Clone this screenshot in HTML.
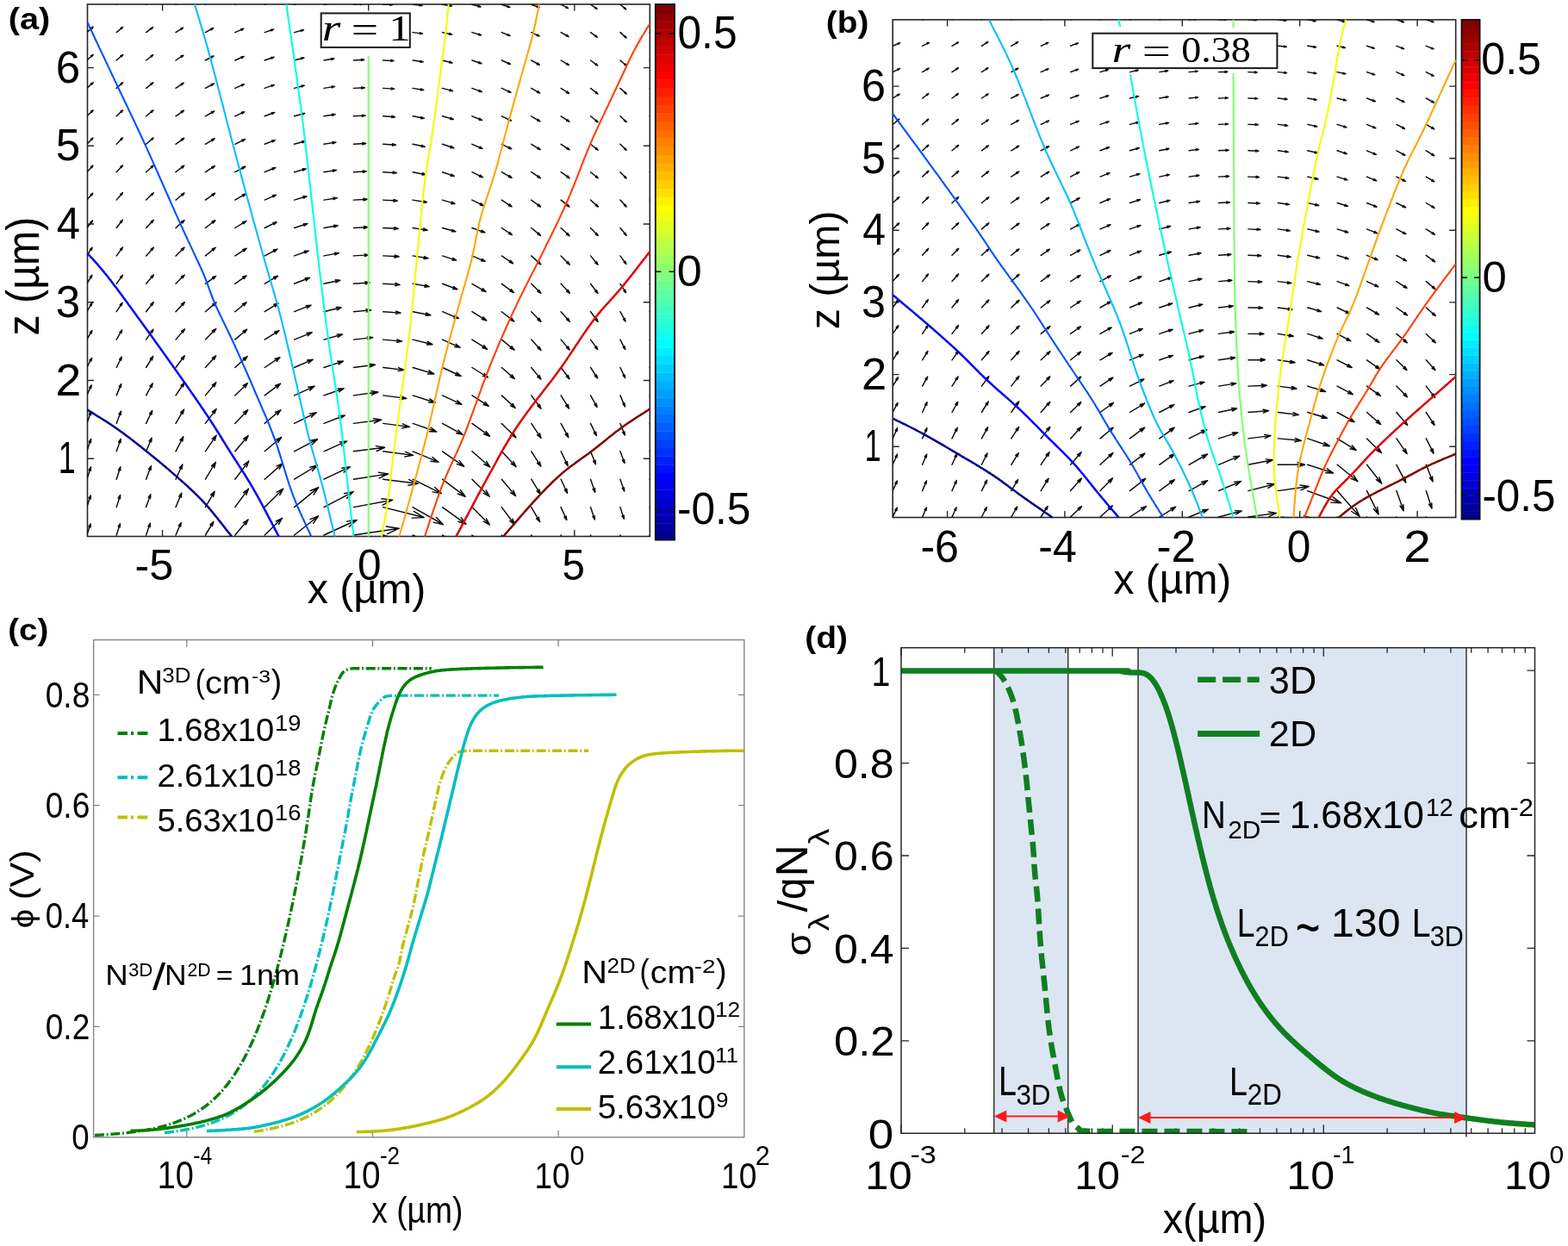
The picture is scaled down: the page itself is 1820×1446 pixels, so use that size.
<!DOCTYPE html><html><head><meta charset="utf-8"><style>html,body{margin:0;padding:0;background:#fff}svg{display:block}</style></head><body>
<svg width="1820" height="1446" viewBox="0 0 1820 1446">
<rect width="1820" height="1446" fill="#fff"/>
<clipPath id="clipa"><rect x="101.5" y="5.0" width="652.8" height="617.5"/></clipPath>
<path d="M188.6,622.5V615M188.6,5V12.5M427.7,622.5V615M427.7,5V12.5M666.8,622.5V615M666.8,5V12.5M101.5,532.3H109M754.3,532.3H746.8M101.5,441.5H109M754.3,441.5H746.8M101.5,350.8H109M754.3,350.8H746.8M101.5,260H109M754.3,260H746.8M101.5,169.3H109M754.3,169.3H746.8M101.5,78.6H109M754.3,78.6H746.8" stroke="#262626" stroke-width="1.4" fill="none"/>
<rect x="101.5" y="5" width="652.8" height="617.5" fill="none" stroke="#262626" stroke-width="1.6"/>
<path d="M100.8,621L105.2,608M105,611.9L105.2,608L102.9,611.2M135.2,621L139.4,607.8M139.3,611.7L139.4,607.8L137.2,611M169.6,621L174.4,607.3M174.2,611.4L174.4,607.3L172,610.6M204,621L210.2,606.6M209.7,611L210.2,606.6L207.3,610M238.4,621L247.8,605.5M246.5,610.4L247.8,605.5L244,608.9M272.8,621L288,603M285.3,609.1L288,603L282.4,606.6M307.2,621L327.4,601.3M323.5,608.3L327.4,601.3L320.4,605M341.6,621L369.4,599M363.7,607.2L369.4,599L360.1,602.7M376,621L414.2,603.5M405.3,611.3L414.2,603.5L402.4,605.1M410.4,621L463.2,613.2M449.6,619.6L463.2,613.2L448.3,611M444.7,621L500,637.1M483.8,637.2L500,637.1L486.4,628.3M479.1,621L513.3,638.5M502.7,636.5L513.3,638.5L505.5,631M513.5,621L541.9,638.4M532.8,636L541.9,638.4L535.7,631.4M547.9,621L567.9,639.7M561,636.3L567.9,639.7L564,633M582.3,621L596.7,638.3M591.4,634.8L596.7,638.3L594.2,632.5M616.7,621L625.4,636.1M621.8,632.7L625.4,636.1L624.2,631.3M651.1,621L657.3,634.6M654.5,631.4L657.3,634.6L656.7,630.4M685.5,621L690.1,634.1M687.8,630.9L690.1,634.1L689.9,630.2M719.9,621L724.1,633.8M721.9,630.7L724.1,633.8L724,630M754.3,621L758.7,633.5M756.5,630.5L758.7,633.5L758.5,629.8M100.8,588.6L105.3,574.9M105.2,579L105.3,574.9L103,578.2M135.2,588.6L139.6,574.5M139.5,578.7L139.6,574.5L137.2,578M169.6,588.6L174.8,573.7M174.6,578.2L174.8,573.7L172.2,577.3M204,588.6L210.8,572.3M210.3,577.2L210.8,572.3L207.6,576.1M238.4,588.6L249.1,570.4M247.7,576.2L249.1,570.4L244.7,574.4M272.8,588.6L288.4,567.3M285.9,574.3L288.4,567.3L282.4,571.8M307.2,588.6L328.8,567.2M324.7,574.7L328.8,567.2L321.2,571.2M341.6,588.6L369.7,565.6M364,574.1L369.7,565.6L360.3,569.5M376,588.6L410.3,570.6M402.5,578.2L410.3,570.6L399.6,572.7M410.4,588.6L455.7,580.2M444.1,586.1L455.7,580.2L442.8,578.8M444.7,588.6L492.2,600.5M478.4,601.1L492.2,600.5L480.3,593.4M479.1,588.6L514.4,608.7M503.2,606.1L514.4,608.7L506.5,600.4M513.5,588.6L541,608.3M532,605.2L541,608.3L535.2,600.8M547.9,588.6L568.4,609.1M561.2,605.2L568.4,609.1L564.5,601.9M582.3,588.6L597.3,608.7M591.7,604.5L597.3,608.7L594.9,602.1M616.7,588.6L626.5,605.4M622.5,601.7L626.5,605.4L625.2,600.1M651.1,588.6L657.8,603.5M654.8,600L657.8,603.5L657.2,599M685.5,588.6L690.3,602.9M687.9,599.4L690.3,602.9L690.2,598.7M719.9,588.6L724.3,602.2M722,598.9L724.3,602.2L724.2,598.1M754.3,588.6L758.9,601.8M756.6,598.6L758.9,601.8L758.7,597.8M100.8,556.2L105.5,542M105.4,546.2L105.5,542L103.1,545.5M135.2,556.2L139.8,541.8M139.8,546L139.8,541.8L137.4,545.3M169.6,556.2L175.4,540.7M175.1,545.4L175.4,540.7L172.6,544.4M204,556.2L211.8,539M211.1,544.3L211.8,539L208.3,543M238.4,556.2L250.3,536.5M248.7,542.8L250.3,536.5L245.5,540.9M272.8,556.2L288.8,535.1M286.2,542.1L288.8,535.1L282.8,539.5M307.2,556.2L328.3,537.6M324.1,544.3L328.3,537.6L321.1,540.9M341.6,556.2L368.4,540M362.5,546.6L368.4,540L359.9,542.2M376,556.2L406.1,541.8M399.1,548.1L406.1,541.8L396.8,543.2M410.4,556.2L450.7,549.9M440.3,554.9L450.7,549.9L439.3,548.3M444.7,556.2L485.1,561.3M473.8,563.2L485.1,561.3L474.6,556.6M479.1,556.2L512.3,572.6M502.1,570.9L512.3,572.6L504.7,565.5M513.5,556.2L540,576.2M531.2,573L540,576.2L534.5,568.7M547.9,556.2L568.2,576.2M561.1,572.4L568.2,576.2L564.3,569.1M582.3,556.2L598.6,575.6M592.6,571.7L598.6,575.6L595.8,569M616.7,556.2L627.4,573.6M623.1,569.8L627.4,573.6L625.9,568M651.1,556.2L658.5,572.2M655.2,568.5L658.5,572.2L657.8,567.3M685.5,556.2L690.7,571.3M688.1,567.7L690.7,571.3L690.6,566.8M719.9,556.2L724.7,570.1M722.3,566.7L724.7,570.1L724.5,566M754.3,556.2L759.1,569.8M756.7,566.5L759.1,569.8L758.9,565.7M100.8,523.8L105.6,509.5M105.5,513.7L105.6,509.5L103.2,513M135.2,523.8L140.2,509.4M140,513.7L140.2,509.4L137.7,512.9M169.6,523.8L176.1,508.3M175.6,513L176.1,508.3L173.1,512M204,523.8L212.8,506.8M211.8,512.1L212.8,506.8L209,510.7M238.4,523.8L251.1,505.2M249.2,511.3L251.1,505.2L246.2,509.2M272.8,523.8L288.1,505.7M285.4,511.8L288.1,505.7L282.5,509.3M307.2,523.8L326.6,507.5M322.7,513.5L326.6,507.5L320,510.3M341.6,523.8L368.5,509.7M362.4,515.7L368.5,509.7L360.1,511.3M376,523.8L402.5,511.9M396.3,517.3L402.5,511.9L394.4,513M410.4,523.8L446.6,519.3M437.2,523.5L446.6,519.3L436.5,517.6M444.7,523.8L479.6,528.4M469.8,530L479.6,528.4L470.6,524.3M479.1,523.8L509,536.2M499.9,535.3L509,536.2L501.9,530.5M513.5,523.8L538.6,541.3M530.4,538.6L538.6,541.3L533.2,534.6M547.9,523.8L568.8,542M561.7,538.8L568.8,542L564.6,535.4M582.3,523.8L599.1,541.7M593.1,538.2L599.1,541.7L596,535.5M616.7,523.8L627.9,541.3M623.5,537.5L627.9,541.3L626.3,535.7M651.1,523.8L659.1,540.6M655.6,536.7L659.1,540.6L658.3,535.4M685.5,523.8L691.4,538.8M688.6,535.2L691.4,538.8L691.1,534.2M719.9,523.8L725,537.5M722.5,534.2L725,537.5L724.7,533.4M754.3,523.8L759.2,537.5M756.7,534.2L759.2,537.5L759,533.4M100.8,491.4L105.8,477.4M105.6,481.6L105.8,477.4L103.3,480.8M135.2,491.4L140.5,477.3M140.2,481.5L140.5,477.3L137.9,480.6M169.6,491.4L176.7,476.5M176,481.1L176.7,476.5L173.6,479.9M204,491.4L213.5,475.2M212.2,480.3L213.5,475.2L209.6,478.8M238.4,491.4L251.1,474.6M249,480.1L251.1,474.6L246.3,478.1M272.8,491.4L287.7,475.7M284.9,481.1L287.7,475.7L282.4,478.7M307.2,491.4L325.8,475.8M322,481.5L325.8,475.8L319.5,478.5M341.6,491.4L367.2,478.8M361.3,484.3L367.2,478.8L359.3,480.1M376,491.4L400.3,482M394.5,486.5L400.3,482L393,482.6M410.4,491.4L442.7,487.2M434.3,491L442.7,487.2L433.6,485.7M444.7,491.4L475.4,495.4M466.8,496.8L475.4,495.4L467.4,491.8M479.1,491.4L506.7,501M498.5,500.7L506.7,501L500.1,496.2M513.5,491.4L537.1,504.4M529.7,502.8L537.1,504.4L531.8,499M547.9,491.4L568.4,506.2M561.7,503.8L568.4,506.2L564.1,500.5M582.3,491.4L598.9,507.8M593.1,504.7L598.9,507.8L595.7,502M616.7,491.4L628,508.4M623.6,504.7L628,508.4L626.4,502.9M651.1,491.4L659.8,507.7M656.1,504L659.8,507.7L658.7,502.6M685.5,491.4L692.3,505.6M689.3,502.3L692.3,505.6L691.6,501.2M719.9,491.4L725.3,505M722.7,501.7L725.3,505L724.9,500.9M754.3,491.4L759.2,504.9M756.8,501.7L759.2,504.9L759,500.9M100.8,458.9L106.2,446.9M105.7,450.6L106.2,446.9L103.8,449.7M135.2,458.9L140.7,445.6M140.3,449.6L140.7,445.6L138.2,448.7M169.6,458.9L177.2,444.9M176.3,449.3L177.2,444.9L174,448M204,458.9L214,444M212.5,448.8L214,444L210.1,447.2M238.4,458.9L250.9,443.8M248.7,448.9L250.9,443.8L246.3,446.9M272.8,458.9L287.4,444.7M284.6,449.8L287.4,444.7L282.3,447.4M307.2,458.9L325.5,445.2M321.7,450.4L325.5,445.2L319.4,447.4M341.6,458.9L365,448.3M359.6,453.1L365,448.3L357.8,449.3M376,458.9L399.2,450.7M393.6,454.8L399.2,450.7L392.3,451M410.4,458.9L438.9,455M431.5,458.4L438.9,455L430.9,453.8M444.7,458.9L471.8,462.4M464.2,463.6L471.8,462.4L464.8,459.3M479.1,458.9L505.2,467.2M497.5,467.1L505.2,467.2L498.8,462.9M513.5,458.9L535.9,469.4M529,468.4L535.9,469.4L530.7,464.8M547.9,458.9L567.2,471.3M561,469.5L567.2,471.3L563,466.4M582.3,458.9L598.1,473.5M592.6,470.9L598.1,473.5L595,468.3M616.7,458.9L628,474.2M623.7,471L628,474.2L626.2,469.2M651.1,458.9L660.5,474.1M656.7,470.8L660.5,474.1L659.2,469.3M685.5,458.9L693,472.4M689.9,469.4L693,472.4L692.1,468.2M719.9,458.9L725.4,471.9M722.9,468.9L725.4,471.9L725,468M754.3,458.9L759.6,470.9M757.2,468.1L759.6,470.9L759.1,467.3M100.8,426.5L106.6,415.4M106,418.9L106.6,415.4L104.1,417.9M135.2,426.5L141.2,414.3M140.6,418.1L141.2,414.3L138.6,417.1M169.6,426.5L177.6,413.5M176.5,417.7L177.6,413.5L174.4,416.4M204,426.5L214.2,412.9M212.6,417.4L214.2,412.9L210.4,415.8M238.4,426.5L250.7,412.8M248.5,417.5L250.7,412.8L246.2,415.5M272.8,426.5L287.1,413.6M284.3,418.3L287.1,413.6L282.2,416M307.2,426.5L324.9,414.7M321.1,419.3L324.9,414.7L319.1,416.4M341.6,426.5L363.2,417.2M358.1,421.5L363.2,417.2L356.6,418M376,426.5L398.5,419.1M393,422.9L398.5,419.1L391.8,419.3M410.4,426.5L435.4,423.3M428.9,426.2L435.4,423.3L428.4,422.1M444.7,426.5L469,429.4M462.2,430.6L469,429.4L462.6,426.6M479.1,426.5L503.7,433.9M496.5,433.9L503.7,433.9L497.7,429.9M513.5,426.5L535.1,436.5M528.5,435.5L535.1,436.5L530.1,432M547.9,426.5L566.3,438M560.4,436.4L566.3,438L562.3,433.4M582.3,426.5L597.3,439.6M592.2,437.3L597.3,439.6L594.3,434.9M616.7,426.5L627.9,440.1M623.8,437.4L627.9,440.1L626,435.6M651.1,426.5L661,439.8M657.3,437L661,439.8L659.4,435.4M685.5,426.5L693.5,438.9M690.3,436.2L693.5,438.9L692.3,434.9M719.9,426.5L725.6,438.6M723.1,435.8L725.6,438.6L725,434.9M754.3,426.5L760,437.8M757.6,435.2L760,437.8L759.4,434.3M100.8,394.1L106.9,383.6M106.1,386.9L106.9,383.6L104.4,385.9M135.2,394.1L141.6,382.9M140.8,386.5L141.6,382.9L139,385.4M169.6,394.1L177.9,382.2M176.6,386.1L177.9,382.2L174.7,384.7M204,394.1L214.4,381.9M212.5,386L214.4,381.9L210.6,384.3M238.4,394.1L250.7,381.6M248.4,386L250.7,381.6L246.3,384M272.8,394.1L286.6,382.2M283.9,386.5L286.6,382.2L281.9,384.3M307.2,394.1L324,383.6M320.3,387.8L324,383.6L318.6,385.1M341.6,394.1L362.1,385.8M357.2,389.7L362.1,385.8L355.8,386.4M376,394.1L397.5,388M392.2,391.4L397.5,388L391.2,387.9M410.4,394.1L432.7,391.6M426.8,394.1L432.7,391.6L426.4,390.5M444.7,394.1L466.7,396.1M460.6,397.3L466.7,396.1L460.9,393.8M479.1,394.1L501.9,399.7M495.3,400L501.9,399.7L496.2,396.3M513.5,394.1L534,403.4M527.7,402.6L534,403.4L529.2,399.3M547.9,394.1L565.5,405.2M559.8,403.6L565.5,405.2L561.6,400.8M582.3,394.1L597,406.2M592,404.1L597,406.2L594,401.8M616.7,394.1L627.9,406.4M623.9,404L627.9,406.4L625.9,402.2M651.1,394.1L661.2,406.1M657.5,403.6L661.2,406.1L659.4,402M685.5,394.1L693.7,405.6M690.6,403.2L693.7,405.6L692.5,401.9M719.9,394.1L725.7,405.6M723.2,403L725.7,405.6L725.1,402M754.3,394.1L760.4,404.9M757.9,402.5L760.4,404.9L759.6,401.5M100.8,361.7L106.9,351.5M106.1,354.8L106.9,351.5L104.5,353.8M135.2,361.7L142,351.3M141,354.7L142,351.3L139.3,353.6M169.6,361.7L178.1,350.7M176.7,354.4L178.1,350.7L174.9,353M204,361.7L214.3,350.7M212.4,354.5L214.3,350.7L210.6,352.8M238.4,361.7L251.1,350.9M248.6,354.8L251.1,350.9L246.8,352.8M272.8,361.7L286.1,350.8M283.4,354.8L286.1,350.8L281.6,352.7M307.2,361.7L323,351.9M319.5,355.9L323,351.9L317.9,353.3M341.6,361.7L360.9,354.1M356.3,357.7L360.9,354.1L355.1,354.6M376,361.7L396.1,356.8M391.1,359.8L396.1,356.8L390.3,356.5M410.4,361.7L430.7,359.9M425.3,362.1L430.7,359.9L425,358.8M444.7,361.7L465.1,363.1M459.5,364.4L465.1,363.1L459.7,361.1M479.1,361.7L499.9,365.8M494,366.3L499.9,365.8L494.6,363M513.5,361.7L532.5,369.6M526.7,369L532.5,369.6L528,366M547.9,361.7L564.7,372.1M559.3,370.6L564.7,372.1L561,367.9M582.3,361.7L596.8,373.1M592,371.2L596.8,373.1L593.8,368.8M616.7,361.7L627.9,373.3M623.9,371L627.9,373.3L625.8,369.2M651.1,361.7L661.3,373.2M657.6,370.9L661.3,373.2L659.5,369.3M685.5,361.7L694,373.3M690.7,370.9L694,373.3L692.6,369.5M719.9,361.7L726,372.9M723.5,370.4L726,372.9L725.3,369.4M754.3,361.7L760.7,372M758.1,369.8L760.7,372L759.8,368.7M100.8,329.3L106.8,319.3M106,322.5L106.8,319.3L104.4,321.5M135.2,329.3L142.3,319.3M141.2,322.6L142.3,319.3L139.6,321.4M169.6,329.3L178.3,319M176.8,322.5L178.3,319L175.1,321.1M204,329.3L214.1,319.1M212.2,322.6L214.1,319.1L210.5,321M238.4,329.3L250.6,320.4M248,323.8L250.6,320.4L246.6,321.8M272.8,329.3L286.1,319.9M283.2,323.5L286.1,319.9L281.7,321.3M307.2,329.3L322.4,320.2M319,323.9L322.4,320.2L317.6,321.4M341.6,329.3L359.5,322.3M355.3,325.7L359.5,322.3L354.1,322.8M376,329.3L394.7,325.3M389.9,327.9L394.7,325.3L389.3,324.8M410.4,329.3L429.1,328M424.2,329.9L429.1,328L423.9,326.8M444.7,329.3L464,330.4M458.7,331.7L464,330.4L458.9,328.5M479.1,329.3L498.3,332.6M492.9,333.3L498.3,332.6L493.4,330.2M513.5,329.3L530.9,335.8M525.7,335.5L530.9,335.8L526.7,332.7M547.9,329.3L563.9,338.6M558.8,337.4L563.9,338.6L560.3,334.8M582.3,329.3L596.4,339.6M591.7,337.9L596.4,339.6L593.4,335.7M616.7,329.3L627.8,340.3M623.9,338.2L627.8,340.3L625.7,336.4M651.1,329.3L661.3,340.3M657.6,338.2L661.3,340.3L659.4,336.5M685.5,329.3L693.9,340.5M690.7,338.2L693.9,340.5L692.5,336.8M719.9,329.3L726.5,339.6M723.9,337.4L726.5,339.6L725.6,336.3M754.3,329.3L760.8,339.2M758.3,337L760.8,339.2L759.9,336M100.8,296.9L107,287.2M106.1,290.3L107,287.2L104.5,289.3M135.2,296.9L142.4,287.1M141.2,290.3L142.4,287.1L139.6,289.2M169.6,296.9L178.3,287.2M176.7,290.5L178.3,287.2L175.2,289.1M204,296.9L214,287.2M212.1,290.6L214,287.2L210.5,289M238.4,296.9L250.1,287.3M247.7,290.9L250.1,287.3L246.2,289M272.8,296.9L286.1,288.3M283.2,291.7L286.1,288.3L281.8,289.6M307.2,296.9L321.9,289.1M318.5,292.4L321.9,289.1L317.3,290M341.6,296.9L358.2,291M354.2,293.9L358.2,291L353.2,291.2M376,296.9L393.3,293.6M388.9,295.9L393.3,293.6L388.3,293.1M410.4,296.9L427.9,295.9M423.3,297.6L427.9,295.9L423.1,294.7M444.7,296.9L463.1,297.8M458,299L463.1,297.8L458.2,296.1M479.1,296.9L497,299.8M492,300.5L497,299.8L492.5,297.6M513.5,296.9L529.6,302.1M524.8,302L529.6,302.1L525.7,299.4M547.9,296.9L563.1,303.4M558.5,302.9L563.1,303.4L559.5,300.4M582.3,296.9L595.5,305.8M591.2,304.4L595.5,305.8L592.7,302.3M616.7,296.9L627.7,306.9M623.9,305.1L627.7,306.9L625.5,303.3M651.1,296.9L661.2,307.2M657.6,305.2L661.2,307.2L659.3,303.6M685.5,296.9L694,307.2M690.9,305.1L694,307.2L692.6,303.7M719.9,296.9L726.9,306.5M724.2,304.5L726.9,306.5L725.8,303.3M754.3,296.9L760.9,306.3M758.4,304.3L760.9,306.3L759.9,303.2M100.8,264.5L107.4,256M106.3,258.9L107.4,256L104.9,257.8M135.2,264.5L142.3,255.3M141.1,258.4L142.3,255.3L139.6,257.2M169.6,264.5L178.2,255.5M176.6,258.6L178.2,255.5L175.2,257.2M204,264.5L214,255.6M212,258.8L214,255.6L210.6,257.2M238.4,264.5L249.8,255.7M247.4,259L249.8,255.7L246,257.2M272.8,264.5L285.7,256.6M282.9,259.8L285.7,256.6L281.6,257.7M307.2,264.5L321.2,257.7M318,260.7L321.2,257.7L316.9,258.4M341.6,264.5L357,259.5M353.2,262.1L357,259.5L352.4,259.6M376,264.5L392.2,261.8M388,263.8L392.2,261.8L387.6,261.2M410.4,264.5L427,263.6M422.6,265.2L427,263.6L422.4,262.5M444.7,264.5L462.2,265.3M457.4,266.5L462.2,265.3L457.5,263.7M479.1,264.5L496.1,267.1M491.3,267.8L496.1,267.1L491.7,265M513.5,264.5L528.8,268.8M524.3,268.9L528.8,268.8L525,266.4M547.9,264.5L562.8,269.9M558.3,269.6L562.8,269.9L559.2,267.2M582.3,264.5L594.4,272.6M590.5,271.4L594.4,272.6L591.8,269.4M616.7,264.5L627.5,273.4M623.9,271.9L627.5,273.4L625.3,270.1M651.1,264.5L661,273.8M657.6,272.1L661,273.8L659.1,270.5M685.5,264.5L694.2,273.6M691.1,271.9L694.2,273.6L692.6,270.5M719.9,264.5L727.1,273.3M724.4,271.5L727.1,273.3L725.8,270.3M754.3,264.5L761.2,272.9M758.7,271.2L761.2,272.9L760,270.1M100.8,232.1L107.7,224.2M106.5,226.9L107.7,224.2L105.2,225.8M135.2,232.1L142.4,223.7M141.1,226.5L142.4,223.7L139.7,225.4M169.6,232.1L178.2,223.8M176.5,226.7L178.2,223.8L175.2,225.3M204,232.1L213.9,224M211.9,227L213.9,224L210.6,225.4M238.4,232.1L249.6,224.2M247.2,227.2L249.6,224.2L245.9,225.4M272.8,232.1L285.2,224.9M282.5,227.9L285.2,224.9L281.3,225.9M307.2,232.1L320.5,226.2M317.4,228.8L320.5,226.2L316.4,226.7M341.6,232.1L356,227.8M352.4,230.1L356,227.8L351.8,227.8M376,232.1L391.3,229.7M387.3,231.6L391.3,229.7L387,229.1M410.4,232.1L426.2,231.3M422,232.8L426.2,231.3L421.8,230.2M444.7,232.1L461.3,233M456.8,234.1L461.3,233L456.9,231.4M479.1,232.1L495.3,234.7M490.7,235.3L495.3,234.7L491.1,232.6M513.5,232.1L527.9,236.4M523.7,236.4L527.9,236.4L524.4,234.1M547.9,232.1L561.3,238.7M557.2,238L561.3,238.7L558.2,235.8M582.3,232.1L594,239.9M590.2,238.7L594,239.9L591.5,236.8M616.7,232.1L627.4,240M623.9,238.7L627.4,240L625.2,237M651.1,232.1L660.9,240.1M657.6,238.7L660.9,240.1L658.9,237.1M685.5,232.1L694.3,240M691.3,238.6L694.3,240L692.6,237.2M719.9,232.1L727.1,240.1M724.5,238.5L727.1,240.1L725.8,237.3M754.3,232.1L761.3,239.9M758.8,238.4L761.3,239.9L760.1,237.2M100.8,199.7L107.9,192.2M106.6,194.8L107.9,192.2L105.4,193.7M135.2,199.7L142.4,191.9M141.1,194.6L142.4,191.9L139.9,193.4M169.6,199.7L178.1,192M176.4,194.8L178.1,192L175.2,193.4M204,199.7L213.8,192.2M211.8,195L213.8,192.2L210.5,193.4M238.4,199.7L249.3,192.6M247,195.4L249.3,192.6L245.8,193.6M272.8,199.7L284.8,193.3M282,196L284.8,193.3L281,194.1M307.2,199.7L319.8,194.5M316.8,196.9L319.8,194.5L316,194.9M341.6,199.7L355.1,195.9M351.8,198L355.1,195.9L351.2,195.8M376,199.7L390.5,197.4M386.7,199.2L390.5,197.4L386.4,196.9M410.4,199.7L425.4,198.9M421.4,200.3L425.4,198.9L421.3,197.9M444.7,199.7L460.4,200.6M456.1,201.6L460.4,200.6L456.2,199.1M479.1,199.7L494.4,202.7M490,203.1L494.4,202.7L490.5,200.6M513.5,199.7L527.1,204.4M523,204.2L527.1,204.4L523.8,202.1M547.9,199.7L560.3,205.8M556.5,205.1L560.3,205.8L557.4,203.1M582.3,199.7L594,206.3M590.3,205.5L594,206.3L591.4,203.6M616.7,199.7L627.3,206.7M623.9,205.6L627.3,206.7L625,203.9M651.1,199.7L661,206.7M657.8,205.6L661,206.7L658.9,204M685.5,199.7L694.2,206.7M691.3,205.5L694.2,206.7L692.4,204.1M719.9,199.7L727.1,207.1M724.6,205.7L727.1,207.1L725.8,204.5M754.3,199.7L761.3,207.1M758.8,205.7L761.3,207.1L760,204.5M100.8,167.3L108,160.1M106.6,162.6L108,160.1L105.5,161.5M135.2,167.3L142.5,160M141.1,162.5L142.5,160L139.9,161.4M169.6,167.3L178,160M176.3,162.6L178,160L175.2,161.3M204,167.3L213.6,160.3M211.6,163L213.6,160.3L210.5,161.4M238.4,167.3L249.1,160.8M246.7,163.4L249.1,160.8L245.7,161.7M272.8,167.3L284.3,161.6M281.6,164.1L284.3,161.6L280.7,162.2M307.2,167.3L319.2,162.6M316.3,164.8L319.2,162.6L315.6,162.9M341.6,167.3L354.4,163.8M351.2,165.8L354.4,163.8L350.7,163.7M376,167.3L389.8,165.1M386.2,166.8L389.8,165.1L385.9,164.6M410.4,167.3L424.7,166.5M420.9,167.9L424.7,166.5L420.8,165.5M444.7,167.3L459.4,168.2M455.4,169.1L459.4,168.2L455.5,166.7M479.1,167.3L493.2,170.3M489.1,170.6L493.2,170.3L489.6,168.4M513.5,167.3L526.8,171.8M522.8,171.6L526.8,171.8L523.6,169.5M547.9,167.3L559.9,172.5M556.2,172.1L559.9,172.5L557.1,170.1M582.3,167.3L593.7,172.8M590.2,172.2L593.7,172.8L591.1,170.4M616.7,167.3L627.1,173.6M623.8,172.7L627.1,173.6L624.8,171M651.1,167.3L661,173.9M657.8,172.9L661,173.9L658.9,171.3M685.5,167.3L694.1,174.2M691.2,173L694.1,174.2L692.3,171.6M719.9,167.3L727.1,174.3M724.6,173L727.1,174.3L725.7,171.8M754.3,167.3L761.3,174.4M758.8,173L761.3,174.4L760,171.9M100.8,134.8L108.1,128M106.7,130.4L108.1,128L105.5,129.2M135.2,134.8L142.5,127.9M141.1,130.4L142.5,127.9L140,129.2M169.6,134.8L177.9,127.9M176.2,130.4L177.9,127.9L175.1,129.1M204,134.8L213.4,128.3M211.4,130.8L213.4,128.3L210.3,129.3M238.4,134.8L248.7,129M246.4,131.4L248.7,129L245.5,129.7M272.8,134.8L283.8,129.7M281.3,132L283.8,129.7L280.4,130.2M307.2,134.8L318.7,130.5M316,132.6L318.7,130.5L315.3,130.8M341.6,134.8L353.8,131.5M350.8,133.4L353.8,131.5L350.2,131.4M376,134.8L389.1,132.7M385.8,134.4L389.1,132.7L385.4,132.2M410.4,134.8L424,134.1M420.4,135.4L424,134.1L420.3,133.2M444.7,134.8L458.5,135.7M454.7,136.6L458.5,135.7L454.8,134.4M479.1,134.8L492.3,137.3M488.5,137.7L492.3,137.3L488.9,135.6M513.5,134.8L526.2,138.4M522.5,138.5L526.2,138.4L523.1,136.4M547.9,134.8L559.6,139.5M556.1,139.2L559.6,139.5L556.8,137.3M582.3,134.8L593.4,140.1M590,139.6L593.4,140.1L590.8,137.8M616.7,134.8L626.8,140.8M623.6,140L626.8,140.8L624.6,138.4M651.1,134.8L660.8,141.2M657.7,140.3L660.8,141.2L658.7,138.7M685.5,134.8L694,141.8M691.1,140.6L694,141.8L692.2,139.2M719.9,134.8L727.1,141.7M724.6,140.4L727.1,141.7L725.7,139.3M754.3,134.8L761.2,141.8M758.8,140.5L761.2,141.8L759.9,139.3M100.8,102.4L108.1,95.8M106.7,98.2L108.1,95.8L105.6,97M135.2,102.4L142.6,95.7M141.1,98.1L142.6,95.7L140.1,96.9M169.6,102.4L177.8,95.8M176.1,98.2L177.8,95.8L175,96.9M204,102.4L213.1,96.3M211.1,98.7L213.1,96.3L210.1,97.2M238.4,102.4L248.4,97M246.1,99.3L248.4,97L245.2,97.7M272.8,102.4L283.5,97.7M281,99.8L283.5,97.7L280.2,98.1M307.2,102.4L318.3,98.4M315.6,100.4L318.3,98.4L315,98.6M341.6,102.4L353.3,99.2M350.4,101L353.3,99.2L349.9,99.1M376,102.4L388.5,100.4M385.3,101.9L388.5,100.4L384.9,99.9M410.4,102.4L423.3,101.7M419.8,103L423.3,101.7L419.7,100.9M444.7,102.4L457.7,103.1M454.1,104L457.7,103.1L454.3,101.9M479.1,102.4L491.7,104.5M488.2,104.9L491.7,104.5L488.5,102.9M513.5,102.4L525.5,105.6M522,105.7L525.5,105.6L522.5,103.7M547.9,102.4L559.3,106.6M555.9,106.4L559.3,106.6L556.5,104.5M582.3,102.4L592.9,107.4M589.7,106.9L592.9,107.4L590.5,105.2M616.7,102.4L626.6,108.1M623.5,107.4L626.6,108.1L624.4,105.8M651.1,102.4L660.6,108.5M657.5,107.7L660.6,108.5L658.5,106.1M685.5,102.4L693.8,109M691.1,107.9L693.8,109L692.1,106.5M719.9,102.4L727.2,109M724.7,107.8L727.2,109L725.7,106.6M754.3,102.4L761,109.2M758.7,107.9L761,109.2L759.8,106.8M100.8,70L108.1,63.5M106.6,65.8L108.1,63.5L105.6,64.7M135.2,70L142.6,63.5M141.1,65.9L142.6,63.5L140.1,64.7M169.6,70L177.6,63.7M176,66.1L177.6,63.7L175,64.8M204,70L212.8,64.2M210.9,66.5L212.8,64.2L209.9,65M238.4,70L248,64.9M245.8,67L248,64.9L245,65.5M272.8,70L283.1,65.5M280.7,67.6L283.1,65.5L280,65.9M307.2,70L318,66.2M315.4,68.1L318,66.2L314.8,66.4M341.6,70L352.9,67M350.1,68.7L352.9,67L349.6,66.9M376,70L387.9,68M384.8,69.5L387.9,68L384.5,67.6M410.4,70L422.6,69.3M419.4,70.5L422.6,69.3L419.2,68.5M444.7,70L457,70.6M453.7,71.4L457,70.6L453.8,69.4M479.1,70L491.1,71.8M487.8,72.3L491.1,71.8L488,70.3M513.5,70L525,73M521.7,73.1L525,73L522.1,71.2M547.9,70L558.9,73.7M555.6,73.6L558.9,73.7L556.2,71.8M582.3,70L592.5,74.5M589.4,74.1L592.5,74.5L590.1,72.5M616.7,70L626.3,75.4M623.2,74.7L626.3,75.4L624.1,73.1M651.1,70L660.4,75.6M657.4,74.9L660.4,75.6L658.3,73.4M685.5,70L693.7,76.1M691,75.1L693.7,76.1L692,73.8M719.9,70L727.2,76.3M724.7,75.2L727.2,76.3L725.8,74M754.3,70L760.7,76.9M758.4,75.5L760.7,76.9L759.5,74.5M100.8,37.6L108.1,31.2M106.7,33.6L108.1,31.2L105.6,32.4M135.2,37.6L142.5,31.5M141.1,33.7L142.5,31.5L140.1,32.5M169.6,37.6L177.5,31.7M175.8,33.9L177.5,31.7L174.9,32.7M204,37.6L212.5,32.1M210.7,34.3L212.5,32.1L209.8,32.9M238.4,37.6L247.6,32.5M245.5,34.7L247.6,32.5L244.7,33.2M272.8,37.6L282.8,33.3M280.4,35.3L282.8,33.3L279.7,33.7M307.2,37.6L317.6,34M315.1,35.8L317.6,34L314.5,34.1M341.6,37.6L352.4,34.8M349.7,36.4L352.4,34.8L349.3,34.7M376,37.6L387.3,35.7M384.4,37.2L387.3,35.7L384.1,35.3M410.4,37.6L422,36.8M418.9,38L422,36.8L418.8,36.1M444.7,37.6L456.4,38M453.3,38.8L456.4,38L453.3,36.9M479.1,37.6L490.6,39.1M487.4,39.6L490.6,39.1L487.6,37.7M513.5,37.6L524.5,40M521.3,40.2L524.5,40L521.7,38.5M547.9,37.6L558.5,40.8M555.4,40.8L558.5,40.8L555.9,39.1M582.3,37.6L592.1,41.5M589.2,41.2L592.1,41.5L589.8,39.7M616.7,37.6L626,41.9M623.1,41.5L626,41.9L623.8,40M651.1,37.6L660,42.5M657.2,41.9L660,42.5L658,40.5M685.5,37.6L693.4,43.3M690.8,42.4L693.4,43.3L691.7,41.1M719.9,37.6L727,43.9M724.5,42.8L727,43.9L725.6,41.6M754.3,37.6L760.5,44.6M758.3,43.2L760.5,44.6L759.4,42.2M100.8,5.2L108.4,0.1M106.8,2.1L108.4,0.1L105.9,0.9M135.2,5.2L142.5,-0.3M141,1.8L142.5,-0.3L140.1,0.6M169.6,5.2L177.4,-0.2M175.7,1.9L177.4,-0.2L174.8,0.6M204,5.2L212.3,0.1M210.5,2.1L212.3,0.1L209.7,0.8M238.4,5.2L247.3,0.5M245.3,2.5L247.3,0.5L244.5,1M272.8,5.2L282.4,1.1M280.1,3L282.4,1.1L279.5,1.5M307.2,5.2L317.3,1.9M314.8,3.6L317.3,1.9L314.3,1.9M341.6,5.2L352,2.6M349.4,4.2L352,2.6L349,2.5M376,5.2L386.8,3.5M384,4.8L386.8,3.5L383.7,3.1M410.4,5.2L421.5,4.4M418.5,5.5L421.5,4.4L418.4,3.7M444.7,5.2L455.9,5.4M452.9,6.3L455.9,5.4L452.9,4.5M479.1,5.2L490.1,6.4M487.1,6.9L490.1,6.4L487.3,5.2M513.5,5.2L524.3,7M521.2,7.4L524.3,7L521.5,5.7M547.9,5.2L558,7.9M555.1,8L558,7.9L555.5,6.4M582.3,5.2L591.9,8.5M589,8.4L591.9,8.5L589.6,6.9M616.7,5.2L626.1,8.6M623.3,8.5L626.1,8.6L623.9,6.9M651.1,5.2L659.5,9.6M656.9,9.1L659.5,9.6L657.6,7.7M685.5,5.2L693.1,10.4M690.6,9.6L693.1,10.4L691.5,8.4M719.9,5.2L726.6,10.9M724.4,9.9L726.6,10.9L725.3,8.8M754.3,5.2L761,10.3M758.8,9.5L761,10.3L759.6,8.4" stroke="#0a0a0a" stroke-width="1.45" fill="none" stroke-linecap="round" stroke-linejoin="round" clip-path="url(#clipa)"/>
<path d="M101.5,475.7 L103.2,476.7 L104.9,477.8 L106.7,478.9 L108.4,479.9 L110.1,481 L111.8,482 L113.5,483.1 L115.3,484.2 L117,485.2 L118.7,486.3 L120.4,487.4 L122.1,488.4 L123.8,489.5 L125.5,490.6 L127.2,491.7 L128.9,492.8 L130.5,494 L132.2,495.1 L133.9,496.2 L135.5,497.4 L137.2,498.6 L138.8,499.7 L140.5,500.9 L142.1,502.1 L143.7,503.3 L145.3,504.5 L146.9,505.7 L148.6,506.9 L150.2,508.1 L151.8,509.4 L153.4,510.6 L155,511.8 L156.6,513.1 L158.1,514.3 L159.7,515.6 L161.3,516.8 L162.9,518.1 L164.5,519.3 L166.1,520.6 L167.6,521.8 L169.2,523.1 L170.8,524.4 L172.4,525.6 L173.9,526.9 L175.5,528.2 L177.1,529.4 L178.6,530.7 L180.2,532 L181.8,533.3 L183.3,534.6 L184.9,535.8 L186.4,537.1 L188,538.4 L189.5,539.7 L191.1,541 L192.6,542.3 L194.1,543.6 L195.7,544.9 L197.2,546.3 L198.7,547.6 L200.3,548.9 L201.8,550.2 L203.3,551.6 L204.8,552.9 L206.3,554.2 L207.8,555.6 L209.4,556.9 L210.9,558.2 L212.4,559.6 L213.9,560.9 L215.4,562.3 L216.9,563.6 L218.4,565 L219.8,566.4 L221.3,567.7 L222.8,569.1 L224.3,570.5 L225.7,571.9 L227.2,573.3 L228.6,574.7 L230,576.1 L231.5,577.6 L232.9,579 L234.3,580.5 L235.7,581.9 L237,583.4 L238.4,584.9 L239.7,586.4 L241.1,587.9 L242.4,589.4 L243.7,591 L245,592.5 L246.3,594.1 L247.6,595.6 L248.9,597.2 L250.1,598.7 L251.4,600.3 L252.7,601.9 L253.9,603.5 L255.2,605.1 L256.4,606.6 L257.7,608.2 L258.9,609.8 L260.2,611.4 L261.4,613 L262.6,614.6 L263.9,616.2 L265.2,617.7 L266.4,619.3 L267.7,620.9 L268.9,622.5" stroke="#00008c" stroke-width="2.5" fill="none" stroke-linejoin="round"/>
<path d="M101.5,294 L102.9,295.5 L104.2,297 L105.6,298.5 L107,299.9 L108.3,301.4 L109.7,302.9 L111,304.4 L112.4,305.9 L113.7,307.4 L115,309 L116.3,310.5 L117.6,312 L118.9,313.6 L120.2,315.1 L121.5,316.7 L122.8,318.2 L124,319.8 L125.3,321.4 L126.5,323 L127.8,324.6 L129,326.2 L130.2,327.8 L131.4,329.4 L132.6,331 L133.9,332.6 L135.1,334.2 L136.3,335.8 L137.5,337.5 L138.7,339.1 L139.9,340.7 L141.1,342.3 L142.3,343.9 L143.5,345.6 L144.7,347.2 L145.9,348.8 L147.1,350.4 L148.2,352.1 L149.4,353.7 L150.6,355.3 L151.8,357 L153,358.6 L154.2,360.2 L155.4,361.8 L156.6,363.5 L157.8,365.1 L158.9,366.7 L160.1,368.4 L161.3,370 L162.5,371.6 L163.7,373.3 L164.9,374.9 L166.1,376.5 L167.2,378.2 L168.4,379.8 L169.6,381.4 L170.8,383.1 L172,384.7 L173.1,386.3 L174.3,388 L175.5,389.6 L176.7,391.2 L177.9,392.9 L179,394.5 L180.2,396.2 L181.4,397.8 L182.6,399.4 L183.7,401.1 L184.9,402.7 L186.1,404.3 L187.3,406 L188.4,407.6 L189.6,409.3 L190.8,410.9 L192,412.6 L193.1,414.2 L194.3,415.8 L195.5,417.5 L196.6,419.1 L197.8,420.8 L199,422.4 L200.1,424.1 L201.3,425.7 L202.5,427.3 L203.6,429 L204.8,430.6 L206,432.3 L207.1,433.9 L208.3,435.6 L209.5,437.2 L210.6,438.9 L211.8,440.5 L212.9,442.2 L214.1,443.8 L215.3,445.5 L216.4,447.1 L217.6,448.8 L218.7,450.4 L219.9,452.1 L221,453.7 L222.2,455.4 L223.4,457 L224.5,458.7 L225.7,460.4 L226.8,462 L227.9,463.7 L229.1,465.3 L230.2,467 L231.4,468.7 L232.5,470.3 L233.6,472 L234.8,473.7 L235.9,475.3 L237,477 L238.2,478.7 L239.3,480.4 L240.4,482 L241.5,483.7 L242.6,485.4 L243.7,487.1 L244.8,488.8 L245.9,490.5 L247,492.2 L248.1,493.9 L249.2,495.6 L250.3,497.3 L251.3,499 L252.4,500.7 L253.5,502.4 L254.6,504.1 L255.6,505.8 L256.7,507.5 L257.7,509.3 L258.8,511 L259.9,512.7 L260.9,514.4 L262,516.1 L263,517.8 L264.1,519.5 L265.2,521.2 L266.3,523 L267.3,524.7 L268.4,526.4 L269.5,528.1 L270.6,529.8 L271.7,531.5 L272.8,533.2 L273.9,534.9 L275,536.5 L276,538.2 L277.1,539.9 L278.2,541.6 L279.3,543.3 L280.4,545 L281.5,546.7 L282.6,548.4 L283.7,550.1 L284.7,551.8 L285.8,553.5 L286.9,555.3 L287.9,557 L289,558.7 L290,560.4 L291,562.2 L292.1,563.9 L293.1,565.6 L294.1,567.4 L295.1,569.1 L296.1,570.9 L297.1,572.6 L298.1,574.4 L299.1,576.2 L300,577.9 L301,579.7 L302,581.5 L302.9,583.2 L303.9,585 L304.8,586.8 L305.8,588.6 L306.7,590.4 L307.7,592.1 L308.6,593.9 L309.5,595.7 L310.5,597.5 L311.4,599.3 L312.4,601.1 L313.3,602.9 L314.2,604.6 L315.2,606.4 L316.1,608.2 L317,610 L318,611.8 L318.9,613.6 L319.8,615.4 L320.8,617.1 L321.7,618.9 L322.7,620.7 L323.6,622.5" stroke="#0008f0" stroke-width="2.5" fill="none" stroke-linejoin="round"/>
<path d="M101.5,26 L102.4,27.8 L103.2,29.6 L104.1,31.5 L104.9,33.3 L105.8,35.1 L106.6,36.9 L107.5,38.7 L108.4,40.5 L109.2,42.4 L110.1,44.2 L110.9,46 L111.8,47.8 L112.6,49.6 L113.5,51.4 L114.4,53.3 L115.2,55.1 L116.1,56.9 L116.9,58.7 L117.8,60.5 L118.7,62.4 L119.5,64.2 L120.4,66 L121.2,67.8 L122.1,69.6 L122.9,71.4 L123.8,73.3 L124.7,75.1 L125.5,76.9 L126.4,78.7 L127.2,80.5 L128.1,82.3 L128.9,84.2 L129.8,86 L130.7,87.8 L131.5,89.6 L132.4,91.4 L133.2,93.3 L134.1,95.1 L135,96.9 L135.8,98.7 L136.7,100.5 L137.5,102.3 L138.4,104.2 L139.3,106 L140.1,107.8 L141,109.6 L141.9,111.4 L142.7,113.2 L143.6,115 L144.4,116.9 L145.3,118.7 L146.2,120.5 L147,122.3 L147.9,124.1 L148.8,125.9 L149.6,127.7 L150.5,129.6 L151.4,131.4 L152.2,133.2 L153.1,135 L153.9,136.8 L154.8,138.6 L155.7,140.5 L156.5,142.3 L157.4,144.1 L158.2,145.9 L159.1,147.7 L159.9,149.5 L160.8,151.4 L161.6,153.2 L162.5,155 L163.3,156.8 L164.2,158.7 L165,160.5 L165.9,162.3 L166.7,164.1 L167.5,166 L168.4,167.8 L169.2,169.6 L170.1,171.4 L170.9,173.3 L171.7,175.1 L172.5,176.9 L173.4,178.8 L174.2,180.6 L175,182.4 L175.8,184.3 L176.7,186.1 L177.5,187.9 L178.3,189.8 L179.1,191.6 L179.9,193.4 L180.7,195.3 L181.6,197.1 L182.4,199 L183.2,200.8 L184,202.6 L184.8,204.5 L185.6,206.3 L186.4,208.2 L187.3,210 L188.1,211.8 L188.9,213.7 L189.7,215.5 L190.5,217.3 L191.3,219.2 L192.1,221 L192.9,222.9 L193.7,224.7 L194.6,226.5 L195.4,228.4 L196.2,230.2 L197,232.1 L197.8,233.9 L198.6,235.7 L199.4,237.6 L200.2,239.4 L201.1,241.2 L201.9,243.1 L202.7,244.9 L203.5,246.7 L204.3,248.6 L205.2,250.4 L206,252.3 L206.8,254.1 L207.6,255.9 L208.5,257.7 L209.3,259.6 L210.1,261.4 L211,263.2 L211.8,265.1 L212.6,266.9 L213.5,268.7 L214.3,270.5 L215.2,272.4 L216,274.2 L216.8,276 L217.7,277.8 L218.5,279.7 L219.4,281.5 L220.3,283.3 L221.1,285.1 L222,286.9 L222.8,288.8 L223.7,290.6 L224.5,292.4 L225.4,294.2 L226.2,296 L227.1,297.9 L227.9,299.7 L228.8,301.5 L229.6,303.3 L230.5,305.2 L231.3,307 L232.1,308.8 L233,310.6 L233.8,312.5 L234.6,314.3 L235.4,316.2 L236.2,318 L237,319.8 L237.7,321.7 L238.5,323.6 L239.2,325.4 L239.9,327.3 L240.6,329.2 L241.3,331.1 L242,333 L242.7,334.9 L243.4,336.7 L244.1,338.6 L244.8,340.5 L245.5,342.4 L246.2,344.3 L246.9,346.1 L247.6,348 L248.4,349.9 L249.2,351.7 L250,353.6 L250.8,355.4 L251.6,357.2 L252.5,359.1 L253.3,360.9 L254.2,362.7 L255,364.5 L255.9,366.3 L256.8,368.1 L257.7,369.9 L258.5,371.7 L259.4,373.6 L260.3,375.4 L261.2,377.2 L262.1,379 L262.9,380.8 L263.8,382.6 L264.7,384.4 L265.5,386.2 L266.4,388 L267.3,389.8 L268.1,391.7 L269,393.5 L269.8,395.3 L270.7,397.1 L271.5,398.9 L272.4,400.8 L273.2,402.6 L274,404.4 L274.9,406.3 L275.7,408.1 L276.5,409.9 L277.3,411.8 L278.2,413.6 L279,415.4 L279.8,417.3 L280.6,419.1 L281.4,420.9 L282.2,422.8 L283,424.6 L283.8,426.5 L284.7,428.3 L285.5,430.1 L286.3,432 L287.1,433.8 L287.9,435.7 L288.7,437.5 L289.5,439.4 L290.3,441.2 L291.1,443 L291.9,444.9 L292.7,446.7 L293.5,448.6 L294.3,450.4 L295,452.3 L295.8,454.1 L296.6,456 L297.4,457.8 L298.2,459.7 L299,461.5 L299.8,463.3 L300.6,465.2 L301.4,467 L302.2,468.9 L303,470.7 L303.8,472.6 L304.6,474.4 L305.4,476.3 L306.2,478.1 L307,480 L307.8,481.8 L308.6,483.7 L309.3,485.5 L310.1,487.4 L310.9,489.2 L311.7,491.1 L312.4,492.9 L313.2,494.8 L313.9,496.7 L314.6,498.5 L315.4,500.4 L316.1,502.3 L316.8,504.2 L317.5,506 L318.2,507.9 L318.9,509.8 L319.6,511.7 L320.3,513.6 L320.9,515.5 L321.6,517.4 L322.2,519.3 L322.8,521.2 L323.5,523.1 L324.1,525 L324.7,526.9 L325.3,528.9 L325.9,530.8 L326.5,532.7 L327.1,534.6 L327.7,536.5 L328.3,538.5 L328.8,540.4 L329.4,542.3 L330,544.2 L330.6,546.2 L331.2,548.1 L331.8,550 L332.4,551.9 L333,553.8 L333.6,555.8 L334.2,557.7 L334.8,559.6 L335.4,561.5 L336.1,563.4 L336.7,565.3 L337.4,567.2 L338.1,569.1 L338.7,571 L339.4,572.9 L340.1,574.7 L340.8,576.6 L341.6,578.5 L342.3,580.4 L343.1,582.2 L343.8,584.1 L344.6,585.9 L345.4,587.8 L346.2,589.6 L347,591.5 L347.8,593.3 L348.6,595.1 L349.5,597 L350.3,598.8 L351.1,600.6 L352,602.4 L352.8,604.3 L353.7,606.1 L354.5,607.9 L355.4,609.7 L356.2,611.6 L357.1,613.4 L357.9,615.2 L358.8,617 L359.6,618.9 L360.4,620.7 L361.3,622.5" stroke="#0050ff" stroke-width="2.1" fill="none" stroke-linejoin="round"/>
<path d="M226,5 L226.6,6.9 L227.1,8.8 L227.7,10.8 L228.3,12.7 L228.9,14.6 L229.4,16.5 L230,18.5 L230.6,20.4 L231.2,22.3 L231.8,24.2 L232.3,26.2 L232.9,28.1 L233.5,30 L234.1,31.9 L234.6,33.9 L235.2,35.8 L235.8,37.7 L236.3,39.6 L236.9,41.6 L237.5,43.5 L238,45.4 L238.6,47.4 L239.1,49.3 L239.7,51.2 L240.2,53.2 L240.8,55.1 L241.3,57 L241.8,59 L242.4,60.9 L242.9,62.8 L243.4,64.8 L244,66.7 L244.5,68.6 L245,70.6 L245.5,72.5 L246.1,74.5 L246.6,76.4 L247.1,78.3 L247.6,80.3 L248.1,82.2 L248.6,84.2 L249.1,86.1 L249.7,88.1 L250.2,90 L250.7,91.9 L251.2,93.9 L251.7,95.8 L252.2,97.8 L252.7,99.7 L253.2,101.7 L253.7,103.6 L254.2,105.5 L254.7,107.5 L255.3,109.4 L255.8,111.4 L256.3,113.3 L256.8,115.3 L257.3,117.2 L257.8,119.1 L258.3,121.1 L258.8,123 L259.3,125 L259.8,126.9 L260.3,128.9 L260.8,130.8 L261.3,132.8 L261.8,134.7 L262.3,136.6 L262.8,138.6 L263.3,140.5 L263.8,142.5 L264.3,144.4 L264.9,146.4 L265.4,148.3 L265.9,150.3 L266.4,152.2 L266.9,154.1 L267.4,156.1 L267.9,158 L268.4,160 L268.9,161.9 L269.4,163.9 L269.9,165.8 L270.4,167.7 L270.9,169.7 L271.5,171.6 L272,173.6 L272.5,175.5 L273,177.5 L273.5,179.4 L274,181.3 L274.5,183.3 L275,185.2 L275.6,187.2 L276.1,189.1 L276.6,191 L277.1,193 L277.6,194.9 L278.2,196.9 L278.7,198.8 L279.2,200.7 L279.7,202.7 L280.2,204.6 L280.8,206.6 L281.3,208.5 L281.8,210.4 L282.3,212.4 L282.9,214.3 L283.4,216.3 L283.9,218.2 L284.4,220.1 L285,222.1 L285.5,224 L286,225.9 L286.6,227.9 L287.1,229.8 L287.6,231.8 L288.1,233.7 L288.7,235.6 L289.2,237.6 L289.7,239.5 L290.3,241.4 L290.8,243.4 L291.3,245.3 L291.9,247.3 L292.4,249.2 L292.9,251.1 L293.5,253.1 L294,255 L294.5,256.9 L295.1,258.9 L295.6,260.8 L296.1,262.7 L296.7,264.7 L297.2,266.6 L297.7,268.5 L298.3,270.5 L298.8,272.4 L299.4,274.4 L299.9,276.3 L300.4,278.2 L301,280.2 L301.5,282.1 L302,284 L302.6,286 L303.1,287.9 L303.7,289.8 L304.2,291.8 L304.7,293.7 L305.3,295.6 L305.8,297.6 L306.4,299.5 L306.9,301.4 L307.5,303.4 L308,305.3 L308.6,307.2 L309.1,309.2 L309.7,311.1 L310.2,313 L310.8,315 L311.4,316.9 L311.9,318.8 L312.5,320.7 L313.1,322.7 L313.6,324.6 L314.2,326.5 L314.8,328.4 L315.3,330.4 L315.9,332.3 L316.5,334.2 L317,336.1 L317.6,338.1 L318.2,340 L318.7,341.9 L319.3,343.9 L319.8,345.8 L320.4,347.7 L320.9,349.7 L321.5,351.6 L322,353.5 L322.5,355.5 L323,357.4 L323.6,359.3 L324.1,361.3 L324.6,363.2 L325.1,365.2 L325.6,367.1 L326.1,369.1 L326.6,371 L327.1,373 L327.6,374.9 L328,376.9 L328.5,378.8 L329,380.8 L329.5,382.7 L330,384.7 L330.4,386.6 L330.9,388.6 L331.4,390.5 L331.8,392.5 L332.3,394.4 L332.8,396.4 L333.2,398.3 L333.7,400.3 L334.1,402.2 L334.6,404.2 L335.1,406.2 L335.5,408.1 L336,410.1 L336.4,412 L336.9,414 L337.4,415.9 L337.8,417.9 L338.3,419.8 L338.7,421.8 L339.2,423.8 L339.6,425.7 L340.1,427.7 L340.5,429.6 L341,431.6 L341.4,433.5 L341.9,435.5 L342.3,437.5 L342.8,439.4 L343.2,441.4 L343.7,443.3 L344.1,445.3 L344.6,447.3 L345,449.2 L345.4,451.2 L345.9,453.1 L346.3,455.1 L346.7,457.1 L347.2,459 L347.6,461 L348.1,462.9 L348.5,464.9 L348.9,466.9 L349.4,468.8 L349.8,470.8 L350.3,472.7 L350.7,474.7 L351.2,476.6 L351.6,478.6 L352,480.6 L352.5,482.5 L352.9,484.5 L353.4,486.4 L353.9,488.4 L354.3,490.3 L354.8,492.3 L355.2,494.3 L355.7,496.2 L356.2,498.2 L356.7,500.1 L357.1,502.1 L357.6,504 L358.1,506 L358.6,507.9 L359.1,509.8 L359.6,511.8 L360.1,513.7 L360.6,515.7 L361.2,517.6 L361.7,519.6 L362.2,521.5 L362.8,523.4 L363.3,525.4 L363.9,527.3 L364.4,529.2 L365,531.1 L365.5,533.1 L366.1,535 L366.7,536.9 L367.2,538.9 L367.8,540.8 L368.3,542.7 L368.9,544.6 L369.5,546.6 L370,548.5 L370.6,550.4 L371.1,552.4 L371.6,554.3 L372.2,556.2 L372.7,558.2 L373.2,560.1 L373.7,562.1 L374.3,564 L374.8,565.9 L375.3,567.9 L375.8,569.8 L376.3,571.8 L376.8,573.7 L377.3,575.7 L377.8,577.6 L378.2,579.6 L378.7,581.5 L379.2,583.5 L379.7,585.4 L380.2,587.4 L380.6,589.3 L381.1,591.3 L381.6,593.2 L382.1,595.2 L382.5,597.1 L383,599.1 L383.5,601 L384,603 L384.4,604.9 L384.9,606.9 L385.4,608.8 L385.9,610.8 L386.3,612.7 L386.8,614.7 L387.3,616.6 L387.8,618.6 L388.2,620.5 L388.7,622.5" stroke="#00bfff" stroke-width="2.1" fill="none" stroke-linejoin="round"/>
<path d="M332.4,5 L332.7,7 L333,9 L333.2,11 L333.5,13 L333.8,14.9 L334.1,16.9 L334.4,18.9 L334.6,20.9 L334.9,22.9 L335.2,24.9 L335.5,26.9 L335.8,28.9 L336.1,30.8 L336.3,32.8 L336.6,34.8 L336.9,36.8 L337.2,38.8 L337.5,40.8 L337.8,42.8 L338,44.8 L338.3,46.7 L338.6,48.7 L338.9,50.7 L339.2,52.7 L339.5,54.7 L339.7,56.7 L340,58.7 L340.3,60.7 L340.6,62.7 L340.9,64.6 L341.2,66.6 L341.4,68.6 L341.7,70.6 L342,72.6 L342.3,74.6 L342.6,76.6 L342.9,78.6 L343.1,80.5 L343.4,82.5 L343.7,84.5 L344,86.5 L344.3,88.5 L344.5,90.5 L344.8,92.5 L345.1,94.5 L345.4,96.5 L345.6,98.4 L345.9,100.4 L346.2,102.4 L346.5,104.4 L346.7,106.4 L347,108.4 L347.3,110.4 L347.6,112.4 L347.8,114.4 L348.1,116.3 L348.4,118.3 L348.6,120.3 L348.9,122.3 L349.2,124.3 L349.4,126.3 L349.7,128.3 L349.9,130.3 L350.2,132.3 L350.5,134.3 L350.7,136.3 L351,138.2 L351.2,140.2 L351.5,142.2 L351.7,144.2 L352,146.2 L352.2,148.2 L352.5,150.2 L352.7,152.2 L352.9,154.2 L353.2,156.2 L353.4,158.2 L353.7,160.2 L353.9,162.2 L354.1,164.2 L354.4,166.2 L354.6,168.1 L354.8,170.1 L355.1,172.1 L355.3,174.1 L355.5,176.1 L355.7,178.1 L356,180.1 L356.2,182.1 L356.4,184.1 L356.7,186.1 L356.9,188.1 L357.1,190.1 L357.3,192.1 L357.5,194.1 L357.8,196.1 L358,198.1 L358.2,200.1 L358.4,202.1 L358.7,204.1 L358.9,206.1 L359.1,208.1 L359.3,210 L359.5,212 L359.8,214 L360,216 L360.2,218 L360.4,220 L360.7,222 L360.9,224 L361.1,226 L361.3,228 L361.6,230 L361.8,232 L362,234 L362.2,236 L362.4,238 L362.7,240 L362.9,242 L363.1,244 L363.3,246 L363.5,248 L363.8,250 L364,252 L364.2,254 L364.4,256 L364.6,257.9 L364.8,259.9 L365,261.9 L365.3,263.9 L365.5,265.9 L365.7,267.9 L365.9,269.9 L366.1,271.9 L366.3,273.9 L366.6,275.9 L366.8,277.9 L367,279.9 L367.2,281.9 L367.5,283.9 L367.7,285.9 L367.9,287.9 L368.1,289.9 L368.4,291.9 L368.6,293.9 L368.8,295.9 L369.1,297.9 L369.3,299.9 L369.5,301.8 L369.8,303.8 L370,305.8 L370.2,307.8 L370.5,309.8 L370.7,311.8 L370.9,313.8 L371.2,315.8 L371.4,317.8 L371.7,319.8 L371.9,321.8 L372.1,323.8 L372.4,325.8 L372.6,327.8 L372.9,329.8 L373.1,331.8 L373.3,333.7 L373.6,335.7 L373.8,337.7 L374.1,339.7 L374.3,341.7 L374.6,343.7 L374.8,345.7 L375.1,347.7 L375.3,349.7 L375.5,351.7 L375.8,353.7 L376,355.7 L376.3,357.7 L376.6,359.7 L376.8,361.6 L377.1,363.6 L377.3,365.6 L377.6,367.6 L377.8,369.6 L378.1,371.6 L378.3,373.6 L378.6,375.6 L378.9,377.6 L379.1,379.6 L379.4,381.6 L379.7,383.5 L379.9,385.5 L380.2,387.5 L380.5,389.5 L380.8,391.5 L381,393.5 L381.3,395.5 L381.6,397.5 L381.9,399.5 L382.2,401.4 L382.5,403.4 L382.7,405.4 L383,407.4 L383.3,409.4 L383.6,411.4 L383.9,413.4 L384.2,415.3 L384.5,417.3 L384.8,419.3 L385.1,421.3 L385.5,423.3 L385.8,425.3 L386.1,427.3 L386.4,429.2 L386.7,431.2 L387,433.2 L387.3,435.2 L387.6,437.2 L387.9,439.2 L388.2,441.1 L388.5,443.1 L388.9,445.1 L389.2,447.1 L389.5,449.1 L389.8,451.1 L390.1,453.1 L390.4,455 L390.7,457 L391,459 L391.3,461 L391.6,463 L391.9,465 L392.2,467 L392.5,468.9 L392.7,470.9 L393,472.9 L393.3,474.9 L393.6,476.9 L393.9,478.9 L394.1,480.9 L394.4,482.9 L394.7,484.8 L394.9,486.8 L395.2,488.8 L395.4,490.8 L395.7,492.8 L395.9,494.8 L396.2,496.8 L396.4,498.8 L396.7,500.8 L396.9,502.8 L397.1,504.8 L397.4,506.8 L397.6,508.8 L397.8,510.8 L398.1,512.8 L398.3,514.7 L398.5,516.7 L398.7,518.7 L399,520.7 L399.2,522.7 L399.4,524.7 L399.6,526.7 L399.8,528.7 L400,530.7 L400.3,532.7 L400.5,534.7 L400.7,536.7 L400.9,538.7 L401.1,540.7 L401.3,542.7 L401.6,544.7 L401.8,546.7 L402,548.7 L402.2,550.7 L402.4,552.7 L402.6,554.7 L402.9,556.7 L403.1,558.7 L403.3,560.7 L403.5,562.7 L403.8,564.6 L404,566.6 L404.2,568.6 L404.4,570.6 L404.7,572.6 L404.9,574.6 L405.1,576.6 L405.4,578.6 L405.6,580.6 L405.8,582.6 L406,584.6 L406.3,586.6 L406.5,588.6 L406.7,590.6 L407,592.6 L407.2,594.6 L407.4,596.6 L407.6,598.6 L407.9,600.6 L408.1,602.6 L408.3,604.5 L408.6,606.5 L408.8,608.5 L409,610.5 L409.3,612.5 L409.5,614.5 L409.7,616.5 L409.9,618.5 L410.2,620.5 L410.4,622.5" stroke="#00ffe0" stroke-width="2.1" fill="none" stroke-linejoin="round"/>
<path d="M427.7,65.3 L427.7,622.5" stroke="#80ff70" stroke-width="2.1" fill="none" stroke-linejoin="round"/>
<path d="M520.7,5 L520.5,7 L520.3,9 L520.1,11 L519.9,13 L519.7,15 L519.5,17 L519.3,19 L519.1,21 L518.9,23 L518.7,25 L518.5,27 L518.3,29 L518.1,31 L517.9,33 L517.7,35 L517.4,37 L517.2,39 L516.9,41 L516.7,42.9 L516.5,44.9 L516.2,46.9 L516,48.9 L515.7,50.9 L515.4,52.9 L515.2,54.9 L514.9,56.9 L514.7,58.9 L514.4,60.9 L514.1,62.9 L513.9,64.9 L513.6,66.8 L513.3,68.8 L513.1,70.8 L512.8,72.8 L512.5,74.8 L512.3,76.8 L512,78.8 L511.7,80.8 L511.5,82.8 L511.2,84.8 L510.9,86.8 L510.7,88.7 L510.4,90.7 L510.2,92.7 L509.9,94.7 L509.6,96.7 L509.4,98.7 L509.1,100.7 L508.9,102.7 L508.6,104.7 L508.3,106.7 L508.1,108.7 L507.8,110.6 L507.6,112.6 L507.3,114.6 L507.1,116.6 L506.8,118.6 L506.5,120.6 L506.3,122.6 L506,124.6 L505.8,126.6 L505.5,128.6 L505.2,130.6 L505,132.6 L504.7,134.5 L504.4,136.5 L504.2,138.5 L503.9,140.5 L503.6,142.5 L503.3,144.5 L503.1,146.5 L502.8,148.5 L502.5,150.5 L502.2,152.4 L501.9,154.4 L501.6,156.4 L501.3,158.4 L501,160.4 L500.7,162.4 L500.4,164.4 L500,166.3 L499.7,168.3 L499.4,170.3 L499,172.3 L498.7,174.3 L498.3,176.2 L498,178.2 L497.7,180.2 L497.3,182.2 L497,184.2 L496.6,186.1 L496.3,188.1 L496,190.1 L495.7,192.1 L495.4,194.1 L495.1,196 L494.8,198 L494.5,200 L494.2,202 L493.9,204 L493.6,206 L493.4,208 L493.1,210 L492.9,212 L492.6,214 L492.4,215.9 L492.1,217.9 L491.9,219.9 L491.7,221.9 L491.5,223.9 L491.2,225.9 L491,227.9 L490.8,229.9 L490.6,231.9 L490.4,233.9 L490.2,235.9 L490,237.9 L489.8,239.9 L489.6,241.9 L489.4,243.9 L489.2,245.9 L489,247.9 L488.8,249.9 L488.6,251.9 L488.4,253.9 L488.2,255.9 L488,257.9 L487.8,259.9 L487.6,261.9 L487.4,263.9 L487.2,265.9 L487,267.9 L486.8,269.9 L486.6,271.9 L486.4,273.9 L486.3,275.9 L486.1,277.9 L485.9,279.9 L485.7,281.9 L485.5,283.9 L485.3,285.9 L485.1,287.9 L484.9,289.9 L484.7,291.9 L484.5,293.9 L484.3,295.9 L484.1,297.9 L483.9,299.9 L483.7,301.9 L483.5,303.9 L483.3,305.9 L483.1,307.9 L482.9,309.9 L482.7,311.9 L482.5,313.9 L482.3,315.9 L482.2,317.9 L482,319.9 L481.8,321.9 L481.6,323.9 L481.4,325.9 L481.2,327.9 L481,329.9 L480.8,331.9 L480.6,333.8 L480.4,335.8 L480.2,337.8 L480,339.8 L479.8,341.8 L479.7,343.8 L479.5,345.8 L479.3,347.8 L479.1,349.8 L478.9,351.8 L478.7,353.8 L478.5,355.8 L478.3,357.8 L478.1,359.8 L477.9,361.8 L477.7,363.8 L477.5,365.8 L477.3,367.8 L477.1,369.8 L476.9,371.8 L476.7,373.8 L476.5,375.8 L476.3,377.8 L476,379.8 L475.8,381.8 L475.6,383.8 L475.4,385.8 L475.2,387.8 L474.9,389.8 L474.7,391.8 L474.5,393.8 L474.2,395.8 L474,397.8 L473.8,399.8 L473.5,401.8 L473.3,403.8 L473,405.7 L472.8,407.7 L472.5,409.7 L472.2,411.7 L472,413.7 L471.7,415.7 L471.5,417.7 L471.2,419.7 L470.9,421.7 L470.6,423.7 L470.4,425.7 L470.1,427.6 L469.8,429.6 L469.5,431.6 L469.2,433.6 L469,435.6 L468.7,437.6 L468.4,439.6 L468.1,441.6 L467.8,443.6 L467.6,445.5 L467.3,447.5 L467,449.5 L466.7,451.5 L466.5,453.5 L466.2,455.5 L465.9,457.5 L465.6,459.5 L465.4,461.5 L465.1,463.4 L464.8,465.4 L464.6,467.4 L464.3,469.4 L464,471.4 L463.8,473.4 L463.5,475.4 L463.2,477.4 L463,479.4 L462.7,481.4 L462.4,483.4 L462.2,485.3 L461.9,487.3 L461.6,489.3 L461.4,491.3 L461.1,493.3 L460.8,495.3 L460.6,497.3 L460.3,499.3 L460,501.3 L459.8,503.3 L459.5,505.2 L459.2,507.2 L459,509.2 L458.7,511.2 L458.4,513.2 L458.2,515.2 L457.9,517.2 L457.7,519.2 L457.4,521.2 L457.2,523.2 L456.9,525.2 L456.7,527.2 L456.4,529.1 L456.2,531.1 L455.9,533.1 L455.7,535.1 L455.4,537.1 L455.2,539.1 L455,541.1 L454.7,543.1 L454.5,545.1 L454.3,547.1 L454,549.1 L453.8,551.1 L453.6,553.1 L453.4,555.1 L453.1,557.1 L452.9,559.1 L452.7,561.1 L452.5,563.1 L452.2,565.1 L452,567 L451.7,569 L451.5,571 L451.3,573 L451,575 L450.7,577 L450.5,579 L450.2,581 L449.9,583 L449.6,585 L449.3,587 L449,588.9 L448.7,590.9 L448.4,592.9 L448.1,594.9 L447.7,596.9 L447.4,598.8 L447,600.8 L446.6,602.8 L446.3,604.8 L445.9,606.7 L445.5,608.7 L445.1,610.7 L444.7,612.6 L444.4,614.6 L444,616.6 L443.6,618.6 L443.2,620.5 L442.8,622.5" stroke="#efff00" stroke-width="2.1" fill="none" stroke-linejoin="round"/>
<path d="M625.8,5 L625.4,7 L625,8.9 L624.7,10.9 L624.3,12.9 L623.9,14.9 L623.5,16.8 L623.1,18.8 L622.7,20.8 L622.3,22.7 L621.9,24.7 L621.5,26.7 L621.1,28.6 L620.7,30.6 L620.2,32.6 L619.8,34.5 L619.3,36.5 L618.9,38.4 L618.4,40.4 L617.9,42.3 L617.4,44.3 L616.9,46.2 L616.4,48.2 L615.8,50.1 L615.3,52 L614.8,54 L614.2,55.9 L613.7,57.8 L613.1,59.8 L612.6,61.7 L612,63.6 L611.5,65.6 L610.9,67.5 L610.4,69.4 L609.8,71.4 L609.3,73.3 L608.8,75.2 L608.2,77.2 L607.7,79.1 L607.1,81 L606.6,83 L606,84.9 L605.5,86.8 L604.9,88.8 L604.4,90.7 L603.8,92.6 L603.3,94.6 L602.7,96.5 L602.2,98.4 L601.7,100.4 L601.1,102.3 L600.6,104.2 L600,106.2 L599.5,108.1 L598.9,110 L598.4,112 L597.8,113.9 L597.3,115.8 L596.8,117.8 L596.2,119.7 L595.7,121.6 L595.2,123.6 L594.6,125.5 L594.1,127.4 L593.6,129.4 L593,131.3 L592.5,133.3 L592,135.2 L591.5,137.1 L590.9,139.1 L590.4,141 L589.9,143 L589.4,144.9 L588.9,146.8 L588.4,148.8 L587.9,150.7 L587.4,152.7 L586.8,154.6 L586.3,156.6 L585.8,158.5 L585.3,160.5 L584.8,162.4 L584.3,164.3 L583.8,166.3 L583.3,168.2 L582.8,170.2 L582.3,172.1 L581.8,174.1 L581.2,176 L580.7,177.9 L580.2,179.9 L579.7,181.8 L579.2,183.8 L578.6,185.7 L578.1,187.6 L577.6,189.6 L577,191.5 L576.5,193.4 L575.9,195.4 L575.4,197.3 L574.8,199.2 L574.2,201.1 L573.7,203.1 L573.1,205 L572.5,206.9 L571.9,208.8 L571.3,210.7 L570.7,212.7 L570,214.6 L569.4,216.5 L568.8,218.4 L568.2,220.3 L567.5,222.2 L566.9,224.1 L566.3,226 L565.6,227.9 L565,229.8 L564.4,231.7 L563.7,233.6 L563.1,235.5 L562.5,237.5 L561.9,239.4 L561.3,241.3 L560.7,243.2 L560.1,245.1 L559.5,247 L558.9,249 L558.4,250.9 L557.8,252.8 L557.3,254.8 L556.8,256.7 L556.3,258.7 L555.9,260.6 L555.4,262.6 L555,264.5 L554.5,266.5 L554.1,268.5 L553.7,270.4 L553.3,272.4 L552.9,274.4 L552.6,276.3 L552.2,278.3 L551.8,280.3 L551.4,282.3 L551.1,284.2 L550.7,286.2 L550.3,288.2 L549.9,290.1 L549.5,292.1 L549,294.1 L548.6,296 L548.1,298 L547.7,299.9 L547.2,301.9 L546.7,303.8 L546.2,305.8 L545.7,307.7 L545.2,309.7 L544.7,311.6 L544.2,313.5 L543.6,315.5 L543.1,317.4 L542.5,319.3 L542,321.3 L541.4,323.2 L540.9,325.1 L540.3,327.1 L539.8,329 L539.2,330.9 L538.7,332.9 L538.1,334.8 L537.6,336.7 L537,338.7 L536.4,340.6 L535.9,342.5 L535.3,344.4 L534.8,346.4 L534.2,348.3 L533.7,350.2 L533.2,352.2 L532.6,354.1 L532.1,356.1 L531.5,358 L531,359.9 L530.5,361.9 L529.9,363.8 L529.4,365.7 L528.9,367.7 L528.4,369.6 L527.8,371.5 L527.3,373.5 L526.8,375.4 L526.2,377.4 L525.7,379.3 L525.2,381.2 L524.7,383.2 L524.1,385.1 L523.6,387.1 L523.1,389 L522.6,390.9 L522,392.9 L521.5,394.8 L521,396.8 L520.5,398.7 L520,400.6 L519.5,402.6 L519,404.5 L518.5,406.5 L517.9,408.4 L517.4,410.4 L516.9,412.3 L516.5,414.3 L516,416.2 L515.5,418.1 L515,420.1 L514.5,422 L514,424 L513.5,425.9 L513.1,427.9 L512.6,429.9 L512.1,431.8 L511.7,433.8 L511.2,435.7 L510.7,437.7 L510.3,439.6 L509.8,441.6 L509.4,443.5 L508.9,445.5 L508.5,447.5 L508,449.4 L507.6,451.4 L507.2,453.3 L506.7,455.3 L506.3,457.3 L505.8,459.2 L505.4,461.2 L505,463.1 L504.5,465.1 L504.1,467.1 L503.7,469 L503.2,471 L502.8,472.9 L502.3,474.9 L501.9,476.9 L501.5,478.8 L501,480.8 L500.6,482.7 L500.1,484.7 L499.7,486.7 L499.2,488.6 L498.8,490.6 L498.3,492.5 L497.9,494.5 L497.4,496.4 L496.9,498.4 L496.5,500.4 L496,502.3 L495.5,504.3 L495.1,506.2 L494.6,508.2 L494.1,510.1 L493.6,512.1 L493.1,514 L492.6,516 L492.1,517.9 L491.6,519.8 L491.1,521.8 L490.6,523.7 L490.1,525.7 L489.6,527.6 L489.1,529.6 L488.6,531.5 L488.1,533.5 L487.6,535.4 L487,537.3 L486.5,539.3 L486,541.2 L485.5,543.2 L485,545.1 L484.4,547 L483.9,549 L483.4,550.9 L482.9,552.8 L482.3,554.8 L481.8,556.7 L481.3,558.7 L480.7,560.6 L480.2,562.5 L479.7,564.5 L479.1,566.4 L478.6,568.4 L478.1,570.3 L477.6,572.2 L477,574.2 L476.5,576.1 L476,578 L475.4,580 L474.9,581.9 L474.3,583.8 L473.8,585.8 L473.3,587.7 L472.7,589.6 L472.2,591.6 L471.6,593.5 L471.1,595.4 L470.5,597.4 L470,599.3 L469.4,601.2 L468.9,603.2 L468.3,605.1 L467.8,607 L467.2,609 L466.7,610.9 L466.1,612.8 L465.6,614.8 L465,616.7 L464.5,618.6 L464,620.6 L463.4,622.5" stroke="#ffa500" stroke-width="2.1" fill="none" stroke-linejoin="round"/>
<path d="M754.3,27.5 L753.2,29.2 L752.2,30.9 L751.1,32.6 L750.1,34.3 L749.1,36.1 L748,37.8 L747,39.5 L745.9,41.2 L744.9,42.9 L743.9,44.7 L742.9,46.4 L741.9,48.1 L740.9,49.9 L739.9,51.6 L738.9,53.4 L737.9,55.1 L737,56.9 L736.1,58.7 L735.1,60.5 L734.2,62.3 L733.3,64.1 L732.4,65.8 L731.5,67.7 L730.7,69.5 L729.8,71.3 L728.9,73.1 L728.1,74.9 L727.2,76.7 L726.4,78.5 L725.5,80.4 L724.7,82.2 L723.8,84 L723,85.8 L722.1,87.6 L721.3,89.5 L720.4,91.3 L719.6,93.1 L718.8,94.9 L717.9,96.8 L717.1,98.6 L716.2,100.4 L715.3,102.2 L714.5,104 L713.6,105.8 L712.8,107.7 L711.9,109.5 L711,111.3 L710.2,113.1 L709.3,114.9 L708.5,116.7 L707.6,118.5 L706.7,120.4 L705.9,122.2 L705,124 L704.1,125.8 L703.3,127.6 L702.4,129.4 L701.6,131.2 L700.7,133.1 L699.8,134.9 L699,136.7 L698.1,138.5 L697.3,140.3 L696.4,142.1 L695.6,144 L694.7,145.8 L693.9,147.6 L693.1,149.4 L692.2,151.3 L691.4,153.1 L690.6,154.9 L689.8,156.8 L688.9,158.6 L688.1,160.4 L687.3,162.3 L686.5,164.1 L685.7,165.9 L684.9,167.8 L684.1,169.6 L683.4,171.5 L682.6,173.3 L681.8,175.2 L681,177.1 L680.3,178.9 L679.5,180.8 L678.8,182.6 L678,184.5 L677.3,186.4 L676.6,188.2 L675.8,190.1 L675.1,192 L674.4,193.9 L673.7,195.7 L672.9,197.6 L672.2,199.5 L671.5,201.3 L670.8,203.2 L670,205.1 L669.3,207 L668.6,208.8 L667.8,210.7 L667.1,212.6 L666.4,214.4 L665.6,216.3 L664.9,218.2 L664.1,220 L663.3,221.9 L662.6,223.7 L661.8,225.6 L661,227.4 L660.2,229.3 L659.5,231.1 L658.7,233 L657.8,234.8 L657,236.7 L656.2,238.5 L655.4,240.3 L654.6,242.2 L653.7,244 L652.9,245.8 L652,247.6 L651.2,249.4 L650.3,251.3 L649.5,253.1 L648.6,254.9 L647.8,256.7 L646.9,258.5 L646,260.3 L645.1,262.1 L644.3,263.9 L643.4,265.8 L642.5,267.6 L641.6,269.4 L640.7,271.2 L639.9,273 L639,274.8 L638.1,276.6 L637.2,278.4 L636.3,280.2 L635.4,282 L634.5,283.8 L633.6,285.6 L632.8,287.4 L631.9,289.2 L631,291 L630.1,292.8 L629.2,294.6 L628.3,296.4 L627.4,298.2 L626.5,300 L625.6,301.8 L624.7,303.6 L623.8,305.4 L622.9,307.1 L622,308.9 L621.1,310.7 L620.2,312.5 L619.3,314.3 L618.3,316.1 L617.4,317.9 L616.5,319.7 L615.6,321.5 L614.7,323.3 L613.8,325 L612.9,326.8 L612,328.6 L611.1,330.4 L610.2,332.2 L609.2,334 L608.3,335.8 L607.5,337.6 L606.6,339.4 L605.7,341.2 L604.8,343 L603.9,344.8 L603,346.6 L602.1,348.4 L601.3,350.2 L600.4,352 L599.5,353.9 L598.7,355.7 L597.8,357.5 L597,359.3 L596.1,361.1 L595.3,362.9 L594.4,364.8 L593.6,366.6 L592.8,368.4 L591.9,370.3 L591.1,372.1 L590.3,373.9 L589.5,375.7 L588.6,377.6 L587.8,379.4 L587,381.2 L586.2,383.1 L585.4,384.9 L584.6,386.8 L583.8,388.6 L583,390.4 L582.2,392.3 L581.4,394.1 L580.6,396 L579.8,397.8 L579,399.7 L578.2,401.5 L577.4,403.4 L576.6,405.2 L575.9,407.1 L575.1,408.9 L574.3,410.8 L573.6,412.6 L572.8,414.5 L572,416.3 L571.3,418.2 L570.5,420.1 L569.8,421.9 L569,423.8 L568.3,425.7 L567.6,427.5 L566.8,429.4 L566.1,431.3 L565.4,433.1 L564.7,435 L563.9,436.9 L563.2,438.8 L562.5,440.7 L561.8,442.5 L561.1,444.4 L560.4,446.3 L559.7,448.2 L559,450.1 L558.3,452 L557.7,453.8 L557,455.7 L556.3,457.6 L555.6,459.5 L554.9,461.4 L554.2,463.3 L553.6,465.2 L552.9,467.1 L552.2,469 L551.5,470.9 L550.8,472.7 L550.2,474.6 L549.5,476.5 L548.8,478.4 L548.1,480.3 L547.4,482.2 L546.7,484.1 L546,486 L545.3,487.8 L544.6,489.7 L543.9,491.6 L543.2,493.5 L542.5,495.4 L541.8,497.2 L541.1,499.1 L540.4,501 L539.6,502.8 L538.9,504.7 L538.1,506.6 L537.4,508.4 L536.6,510.3 L535.8,512.1 L535,514 L534.3,515.8 L533.5,517.7 L532.7,519.5 L531.8,521.4 L531,523.2 L530.2,525 L529.4,526.9 L528.5,528.7 L527.7,530.5 L526.9,532.3 L526,534.2 L525.2,536 L524.4,537.8 L523.5,539.6 L522.7,541.5 L521.9,543.3 L521,545.1 L520.2,547 L519.4,548.8 L518.6,550.6 L517.8,552.5 L517,554.3 L516.3,556.2 L515.5,558 L514.7,559.9 L514,561.8 L513.3,563.6 L512.5,565.5 L511.8,567.4 L511.1,569.3 L510.4,571.1 L509.7,573 L509,574.9 L508.4,576.8 L507.7,578.7 L507,580.6 L506.4,582.5 L505.7,584.4 L505.1,586.3 L504.4,588.2 L503.8,590.1 L503.1,592 L502.5,593.9 L501.9,595.8 L501.2,597.7 L500.6,599.6 L500,601.5 L499.3,603.4 L498.7,605.3 L498.1,607.3 L497.4,609.2 L496.8,611.1 L496.2,613 L495.5,614.9 L494.9,616.8 L494.3,618.7 L493.6,620.6 L493,622.5" stroke="#ff4000" stroke-width="2.1" fill="none" stroke-linejoin="round"/>
<path d="M754.3,292 L753.1,293.6 L751.8,295.2 L750.6,296.8 L749.4,298.4 L748.1,300 L746.9,301.5 L745.7,303.1 L744.4,304.7 L743.2,306.3 L741.9,307.9 L740.7,309.5 L739.5,311.1 L738.2,312.7 L737,314.3 L735.8,315.9 L734.5,317.5 L733.3,319 L732,320.6 L730.8,322.2 L729.5,323.8 L728.3,325.4 L727,326.9 L725.7,328.5 L724.5,330.1 L723.2,331.6 L721.9,333.2 L720.6,334.7 L719.3,336.2 L718,337.8 L716.7,339.3 L715.3,340.8 L714,342.3 L712.7,343.8 L711.3,345.3 L710,346.8 L708.6,348.3 L707.3,349.8 L705.9,351.3 L704.5,352.8 L703.2,354.3 L701.9,355.8 L700.5,357.3 L699.2,358.8 L697.9,360.3 L696.6,361.9 L695.3,363.4 L694,365 L692.8,366.5 L691.5,368.1 L690.3,369.7 L689.1,371.3 L687.9,372.9 L686.7,374.5 L685.5,376.2 L684.3,377.8 L683.1,379.4 L682,381.1 L680.8,382.7 L679.7,384.4 L678.5,386.1 L677.4,387.7 L676.3,389.4 L675.1,391.1 L674,392.7 L672.9,394.4 L671.8,396.1 L670.7,397.8 L669.6,399.5 L668.4,401.1 L667.3,402.8 L666.2,404.5 L665.1,406.2 L664,407.9 L662.9,409.5 L661.8,411.2 L660.6,412.9 L659.5,414.6 L658.4,416.2 L657.3,417.9 L656.1,419.6 L655,421.2 L653.8,422.9 L652.7,424.5 L651.5,426.2 L650.4,427.8 L649.2,429.5 L648,431.1 L646.8,432.7 L645.6,434.3 L644.4,435.9 L643.2,437.6 L642,439.2 L640.8,440.8 L639.5,442.4 L638.3,444 L637.1,445.6 L635.8,447.1 L634.6,448.7 L633.4,450.3 L632.1,451.9 L630.9,453.5 L629.7,455.1 L628.4,456.7 L627.2,458.3 L626,459.9 L624.7,461.5 L623.5,463.1 L622.3,464.7 L621.1,466.3 L619.9,467.9 L618.7,469.5 L617.4,471.1 L616.2,472.7 L615,474.4 L613.8,476 L612.6,477.6 L611.4,479.2 L610.3,480.8 L609.1,482.5 L607.9,484.1 L606.7,485.7 L605.5,487.4 L604.4,489 L603.2,490.7 L602.1,492.3 L601,494 L599.8,495.7 L598.7,497.3 L597.6,499 L596.5,500.7 L595.4,502.4 L594.3,504.1 L593.3,505.8 L592.2,507.5 L591.2,509.3 L590.1,511 L589.1,512.7 L588.1,514.5 L587,516.2 L586,517.9 L585,519.7 L584,521.4 L583,523.2 L582,524.9 L581.1,526.7 L580.1,528.4 L579.1,530.2 L578.1,532 L577.1,533.7 L576.2,535.5 L575.2,537.3 L574.2,539 L573.3,540.8 L572.3,542.6 L571.3,544.3 L570.4,546.1 L569.4,547.9 L568.4,549.6 L567.5,551.4 L566.5,553.2 L565.5,554.9 L564.6,556.7 L563.6,558.5 L562.7,560.3 L561.7,562 L560.7,563.8 L559.8,565.6 L558.8,567.4 L557.9,569.1 L556.9,570.9 L556,572.7 L555,574.4 L554.1,576.2 L553.1,578 L552.2,579.8 L551.2,581.6 L550.3,583.3 L549.3,585.1 L548.4,586.9 L547.4,588.7 L546.5,590.4 L545.5,592.2 L544.6,594 L543.6,595.8 L542.7,597.6 L541.8,599.4 L540.8,601.1 L539.9,602.9 L538.9,604.7 L538,606.5 L537,608.3 L536.1,610 L535.2,611.8 L534.2,613.6 L533.3,615.4 L532.3,617.2 L531.4,618.9 L530.4,620.7 L529.5,622.5" stroke="#df0000" stroke-width="2.5" fill="none" stroke-linejoin="round"/>
<path d="M754.3,474.6 L752.6,475.7 L750.9,476.8 L749.2,477.9 L747.5,479 L745.8,480 L744.1,481.1 L742.4,482.2 L740.7,483.3 L739,484.4 L737.3,485.5 L735.6,486.6 L733.9,487.7 L732.2,488.9 L730.5,490 L728.8,491.1 L727.2,492.3 L725.5,493.4 L723.9,494.6 L722.2,495.8 L720.6,497 L719,498.2 L717.4,499.4 L715.7,500.6 L714.1,501.8 L712.5,503.1 L711,504.3 L709.4,505.6 L707.8,506.8 L706.2,508.1 L704.6,509.4 L703.1,510.7 L701.5,511.9 L699.9,513.2 L698.4,514.5 L696.8,515.7 L695.2,517 L693.6,518.3 L692,519.5 L690.4,520.8 L688.8,522 L687.2,523.2 L685.6,524.5 L684,525.7 L682.4,526.9 L680.8,528.1 L679.1,529.3 L677.5,530.4 L675.8,531.6 L674.2,532.8 L672.5,534 L670.9,535.1 L669.2,536.3 L667.6,537.5 L666,538.7 L664.3,539.9 L662.7,541.1 L661.1,542.3 L659.5,543.5 L657.9,544.8 L656.3,546.1 L654.8,547.3 L653.2,548.6 L651.7,549.9 L650.2,551.3 L648.7,552.6 L647.2,554 L645.7,555.3 L644.2,556.7 L642.7,558.1 L641.3,559.5 L639.8,560.9 L638.4,562.4 L637,563.8 L635.5,565.2 L634.1,566.7 L632.7,568.1 L631.3,569.6 L629.9,571 L628.5,572.5 L627.1,574 L625.7,575.5 L624.4,576.9 L623,578.4 L621.6,579.9 L620.2,581.4 L618.9,582.9 L617.5,584.4 L616.2,585.9 L614.8,587.4 L613.5,588.9 L612.1,590.4 L610.8,591.9 L609.4,593.4 L608.1,595 L606.8,596.5 L605.4,598 L604.1,599.5 L602.8,601.1 L601.5,602.6 L600.2,604.1 L598.8,605.6 L597.5,607.2 L596.2,608.7 L594.9,610.2 L593.6,611.8 L592.2,613.3 L590.9,614.8 L589.6,616.4 L588.3,617.9 L586.9,619.4 L585.6,621 L584.3,622.5" stroke="#800000" stroke-width="2.5" fill="none" stroke-linejoin="round"/>
<rect x="372.7" y="15.4" width="103.1" height="39.6" fill="#fff" stroke="#1a1a1a" stroke-width="2"/>
<rect x="760.8" y="616.89" width="22.2" height="10.11" fill="#00008f"/>
<rect x="760.8" y="607.18" width="22.2" height="10.11" fill="#00009f"/>
<rect x="760.8" y="597.46" width="22.2" height="10.11" fill="#0000af"/>
<rect x="760.8" y="587.75" width="22.2" height="10.11" fill="#0000bf"/>
<rect x="760.8" y="578.04" width="22.2" height="10.11" fill="#0000cf"/>
<rect x="760.8" y="568.33" width="22.2" height="10.11" fill="#0000df"/>
<rect x="760.8" y="558.61" width="22.2" height="10.11" fill="#0000ef"/>
<rect x="760.8" y="548.90" width="22.2" height="10.11" fill="#0000ff"/>
<rect x="760.8" y="539.19" width="22.2" height="10.11" fill="#0010ff"/>
<rect x="760.8" y="529.48" width="22.2" height="10.11" fill="#0020ff"/>
<rect x="760.8" y="519.76" width="22.2" height="10.11" fill="#0030ff"/>
<rect x="760.8" y="510.05" width="22.2" height="10.11" fill="#0040ff"/>
<rect x="760.8" y="500.34" width="22.2" height="10.11" fill="#0050ff"/>
<rect x="760.8" y="490.62" width="22.2" height="10.11" fill="#0060ff"/>
<rect x="760.8" y="480.91" width="22.2" height="10.11" fill="#0070ff"/>
<rect x="760.8" y="471.20" width="22.2" height="10.11" fill="#0080ff"/>
<rect x="760.8" y="461.49" width="22.2" height="10.11" fill="#008fff"/>
<rect x="760.8" y="451.77" width="22.2" height="10.11" fill="#009fff"/>
<rect x="760.8" y="442.06" width="22.2" height="10.11" fill="#00afff"/>
<rect x="760.8" y="432.35" width="22.2" height="10.11" fill="#00bfff"/>
<rect x="760.8" y="422.64" width="22.2" height="10.11" fill="#00cfff"/>
<rect x="760.8" y="412.93" width="22.2" height="10.11" fill="#00dfff"/>
<rect x="760.8" y="403.21" width="22.2" height="10.11" fill="#00efff"/>
<rect x="760.8" y="393.50" width="22.2" height="10.11" fill="#00ffff"/>
<rect x="760.8" y="383.79" width="22.2" height="10.11" fill="#10ffef"/>
<rect x="760.8" y="374.08" width="22.2" height="10.11" fill="#20ffdf"/>
<rect x="760.8" y="364.36" width="22.2" height="10.11" fill="#30ffcf"/>
<rect x="760.8" y="354.65" width="22.2" height="10.11" fill="#40ffbf"/>
<rect x="760.8" y="344.94" width="22.2" height="10.11" fill="#50ffaf"/>
<rect x="760.8" y="335.23" width="22.2" height="10.11" fill="#60ff9f"/>
<rect x="760.8" y="325.51" width="22.2" height="10.11" fill="#70ff8f"/>
<rect x="760.8" y="315.80" width="22.2" height="10.11" fill="#80ff80"/>
<rect x="760.8" y="306.09" width="22.2" height="10.11" fill="#8fff70"/>
<rect x="760.8" y="296.38" width="22.2" height="10.11" fill="#9fff60"/>
<rect x="760.8" y="286.66" width="22.2" height="10.11" fill="#afff50"/>
<rect x="760.8" y="276.95" width="22.2" height="10.11" fill="#bfff40"/>
<rect x="760.8" y="267.24" width="22.2" height="10.11" fill="#cfff30"/>
<rect x="760.8" y="257.53" width="22.2" height="10.11" fill="#dfff20"/>
<rect x="760.8" y="247.81" width="22.2" height="10.11" fill="#efff10"/>
<rect x="760.8" y="238.10" width="22.2" height="10.11" fill="#ffff00"/>
<rect x="760.8" y="228.39" width="22.2" height="10.11" fill="#ffef00"/>
<rect x="760.8" y="218.68" width="22.2" height="10.11" fill="#ffdf00"/>
<rect x="760.8" y="208.96" width="22.2" height="10.11" fill="#ffcf00"/>
<rect x="760.8" y="199.25" width="22.2" height="10.11" fill="#ffbf00"/>
<rect x="760.8" y="189.54" width="22.2" height="10.11" fill="#ffaf00"/>
<rect x="760.8" y="179.82" width="22.2" height="10.11" fill="#ff9f00"/>
<rect x="760.8" y="170.11" width="22.2" height="10.11" fill="#ff8f00"/>
<rect x="760.8" y="160.40" width="22.2" height="10.11" fill="#ff8000"/>
<rect x="760.8" y="150.69" width="22.2" height="10.11" fill="#ff7000"/>
<rect x="760.8" y="140.98" width="22.2" height="10.11" fill="#ff6000"/>
<rect x="760.8" y="131.26" width="22.2" height="10.11" fill="#ff5000"/>
<rect x="760.8" y="121.55" width="22.2" height="10.11" fill="#ff4000"/>
<rect x="760.8" y="111.84" width="22.2" height="10.11" fill="#ff3000"/>
<rect x="760.8" y="102.12" width="22.2" height="10.11" fill="#ff2000"/>
<rect x="760.8" y="92.41" width="22.2" height="10.11" fill="#ff1000"/>
<rect x="760.8" y="82.70" width="22.2" height="10.11" fill="#ff0000"/>
<rect x="760.8" y="72.99" width="22.2" height="10.11" fill="#ef0000"/>
<rect x="760.8" y="63.27" width="22.2" height="10.11" fill="#df0000"/>
<rect x="760.8" y="53.56" width="22.2" height="10.11" fill="#cf0000"/>
<rect x="760.8" y="43.85" width="22.2" height="10.11" fill="#bf0000"/>
<rect x="760.8" y="34.14" width="22.2" height="10.11" fill="#af0000"/>
<rect x="760.8" y="24.42" width="22.2" height="10.11" fill="#9f0000"/>
<rect x="760.8" y="14.71" width="22.2" height="10.11" fill="#8f0000"/>
<rect x="760.8" y="5.00" width="22.2" height="10.11" fill="#800000"/>
<path d="M760.8,38.7H767.3M783,38.7H776.5M760.8,315.2H767.3M783,315.2H776.5M760.8,591.7H767.3M783,591.7H776.5" stroke="#111" stroke-width="1.6" fill="none"/>
<rect x="760.8" y="5" width="22.2" height="621.6" fill="none" stroke="#111" stroke-width="1.8"/>
<clipPath id="clipb"><rect x="1036.2" y="22.9" width="653.5" height="577.6"/></clipPath>
<path d="M1099.6,600.5V593M1099.6,22.9V30.4M1235.9,600.5V593M1235.9,22.9V30.4M1372.3,600.5V593M1372.3,22.9V30.4M1508.7,600.5V593M1508.7,22.9V30.4M1645.1,600.5V593M1645.1,22.9V30.4M1036.2,518.2H1043.7M1689.7,518.2H1682.2M1036.2,434.6H1043.7M1689.7,434.6H1682.2M1036.2,350.9H1043.7M1689.7,350.9H1682.2M1036.2,267.3H1043.7M1689.7,267.3H1682.2M1036.2,183.7H1043.7M1689.7,183.7H1682.2M1036.2,100.1H1043.7M1689.7,100.1H1682.2" stroke="#262626" stroke-width="1.4" fill="none"/>
<rect x="1036.2" y="22.9" width="653.5" height="577.6" fill="none" stroke="#262626" stroke-width="1.6"/>
<path d="M1036.2,600L1041.3,589.2M1040.8,592.5L1041.3,589.2L1039,591.7M1070.6,600L1075.5,589.1M1075,592.4L1075.5,589.1L1073.3,591.6M1105,600L1110.1,589M1109.6,592.4L1110.1,589L1107.9,591.5M1139.4,600L1145.3,588.7M1144.6,592.3L1145.3,588.7L1142.8,591.3M1173.8,600L1180.7,588.1M1179.8,591.8L1180.7,588.1L1177.8,590.7M1208.2,600L1216.1,587.5M1215,591.5L1216.1,587.5L1212.9,590.2M1242.6,600L1255.5,587.6M1253,592L1255.5,587.6L1251,589.9M1277,600L1291.2,587M1288.4,591.6L1291.2,587L1286.3,589.3M1311.4,600L1330.4,587.6M1326.3,592.5L1330.4,587.6L1324.3,589.4M1345.8,600L1364.6,588.3M1360.5,593L1364.6,588.3L1358.6,589.9M1380.1,600L1402.2,591.1M1397,595.3L1402.2,591.1L1395.5,591.7M1414.5,600L1441.2,592.9M1434.6,596.9L1441.2,592.9L1433.4,592.6M1448.9,600L1481.5,595.4M1473.1,599.3L1481.5,595.4L1472.4,594M1483.3,600L1524.2,602.7M1513,605.2L1524.2,602.7L1513.4,598.6M1517.7,600L1568.2,613.7M1553.5,614.1L1568.2,613.7L1555.7,605.9M1552.1,600L1581.9,618.8M1572.3,616.2L1581.9,618.8L1575.4,611.3M1586.5,600L1596.8,621.2M1592.3,616.3L1596.8,621.2L1595.7,614.6M1620.9,600L1627.2,620.3M1623.8,615.3L1627.2,620.3L1627.1,614.3M1655.3,600L1660.7,619.1M1657.7,614.4L1660.7,619.1L1660.8,613.5M1689.7,600L1695.5,618.2M1692.5,613.8L1695.5,618.2L1695.4,612.8M1036.2,569.6L1041.3,558.1M1040.9,561.6L1041.3,558.1L1039,560.8M1070.6,569.6L1075.5,557.9M1075.1,561.5L1075.5,557.9L1073.2,560.7M1105,569.6L1110.3,557.6M1109.8,561.3L1110.3,557.6L1107.9,560.4M1139.4,569.6L1145.6,557.3M1144.9,561.1L1145.6,557.3L1142.9,560.1M1173.8,569.6L1181.6,556.6M1180.5,560.7L1181.6,556.6L1178.4,559.5M1208.2,569.6L1217,555.2M1215.8,559.8L1217,555.2L1213.4,558.4M1242.6,569.6L1255.4,555M1253.1,560L1255.4,555L1250.8,557.9M1277,569.6L1291.5,555M1288.8,560.1L1291.5,555L1286.4,557.8M1311.4,569.6L1329.6,555.4M1325.9,560.7L1329.6,555.4L1323.5,557.7M1345.8,569.6L1363.3,556.7M1359.6,561.6L1363.3,556.7L1357.5,558.8M1380.1,569.6L1401.6,557.8M1396.7,562.7L1401.6,557.8L1394.8,559.3M1414.5,569.6L1440.5,558.5M1434.4,563.6L1440.5,558.5L1432.6,559.4M1448.9,569.6L1479.7,561.7M1472,566.3L1479.7,561.7L1470.7,561.3M1483.3,569.6L1519.2,564.5M1509.9,568.8L1519.2,564.5L1509.1,563M1517.7,569.6L1556.6,583.8M1544.9,583.1L1556.6,583.8L1547.2,576.8M1552.1,569.6L1578.2,599.5M1568.7,593.5L1578.2,599.5L1573.6,589.3M1586.5,569.6L1600.1,596.9M1594.3,590.7L1600.1,596.9L1598.7,588.5M1620.9,569.6L1629.2,592.7M1625.1,587.2L1629.2,592.7L1628.8,585.8M1655.3,569.6L1662,590.1M1658.5,585.1L1662,590.1L1661.8,584M1689.7,569.6L1696.3,589.1M1692.9,584.4L1696.3,589.1L1696.1,583.3M1036.2,539.3L1041.5,527.3M1041,530.9L1041.5,527.3L1039.1,530.1M1070.6,539.3L1075.7,527.2M1075.3,530.9L1075.7,527.2L1073.3,530M1105,539.3L1110.7,526.8M1110.2,530.6L1110.7,526.8L1108.1,529.7M1139.4,539.3L1146,526.1M1145.3,530.2L1146,526.1L1143.2,529.1M1173.8,539.3L1182.2,525.7M1181,530L1182.2,525.7L1178.8,528.6M1208.2,539.3L1218.1,524.7M1216.6,529.5L1218.1,524.7L1214.2,527.9M1242.6,539.3L1255.1,524.8M1252.9,529.7L1255.1,524.8L1250.5,527.7M1277,539.3L1291.9,525.6M1289,530.5L1291.9,525.6L1286.8,528.1M1311.4,539.3L1328.8,526.2M1325.2,531.1L1328.8,526.2L1323.1,528.3M1345.8,539.3L1363.3,526.7M1359.6,531.5L1363.3,526.7L1357.6,528.7M1380.1,539.3L1401.6,527M1396.8,532.1L1401.6,527L1394.8,528.6M1414.5,539.3L1438.8,529.1M1433.1,533.8L1438.8,529.1L1431.4,529.9M1448.9,539.3L1477.6,533.7M1470.3,537.5L1477.6,533.7L1469.4,532.9M1483.3,539.3L1514.5,539.3M1506.1,541.8L1514.5,539.3L1506.1,536.8M1517.7,539.3L1547.6,549M1538.8,548.8L1547.6,549L1540.3,543.9M1552.1,539.3L1576,558.7M1568,555.4L1576,558.7L1571.1,551.5M1586.5,539.3L1603.8,561.2M1597.4,556.7L1603.8,561.2L1600.9,553.9M1620.9,539.3L1631.8,559.9M1627.2,555.2L1631.8,559.9L1630.6,553.5M1655.3,539.3L1663.1,558.9M1659.4,554.2L1663.1,558.9L1662.6,553M1689.7,539.3L1697.3,558.3M1693.7,553.7L1697.3,558.3L1696.8,552.5M1036.2,508.9L1041.6,496.8M1041.1,500.5L1041.6,496.8L1039.2,499.6M1070.6,508.9L1075.9,496.8M1075.4,500.5L1075.9,496.8L1073.5,499.6M1105,508.9L1111.2,496.4M1110.6,500.3L1111.2,496.4L1108.5,499.3M1139.4,508.9L1146.6,495.8M1145.7,499.9L1146.6,495.8L1143.6,498.7M1173.8,508.9L1182.6,495.5M1181.3,499.9L1182.6,495.5L1179.2,498.4M1208.2,508.9L1218.8,495.4M1217,499.9L1218.8,495.4L1214.8,498.1M1242.6,508.9L1254.8,495.6M1252.6,500.2L1254.8,495.6L1250.4,498.2M1277,508.9L1292.1,496.2M1289,500.9L1292.1,496.2L1287,498.4M1311.4,508.9L1328.6,496.2M1325,501L1328.6,496.2L1322.9,498.2M1345.8,508.9L1363.1,496.3M1359.5,501.1L1363.1,496.3L1357.4,498.3M1380.1,508.9L1400.7,498.6M1396,503L1400.7,498.6L1394.3,499.7M1414.5,508.9L1436.8,501.9M1431.3,505.6L1436.8,501.9L1430.2,502M1448.9,508.9L1475,505.6M1468.2,508.6L1475,505.6L1467.7,504.4M1483.3,508.9L1510.4,511.3M1502.9,512.8L1510.4,511.3L1503.3,508.4M1517.7,508.9L1543.3,517.7M1535.7,517.4L1543.3,517.7L1537.1,513.3M1552.1,508.9L1574.2,522.6M1567.1,520.7L1574.2,522.6L1569.3,517.1M1586.5,508.9L1603.5,525.7M1597.6,522.6L1603.5,525.7L1600.3,519.8M1620.9,508.9L1633.1,526.6M1628.4,522.8L1633.1,526.6L1631.3,520.8M1655.3,508.9L1664.1,526.2M1660.3,522.2L1664.1,526.2L1663.1,520.8M1689.7,508.9L1698.5,524.7M1694.8,521.2L1698.5,524.7L1697.4,519.7M1036.2,478.5L1042,467.4M1041.4,470.9L1042,467.4L1039.6,470M1070.6,478.5L1076.1,466.7M1075.6,470.4L1076.1,466.7L1073.7,469.5M1105,478.5L1111.7,466.5M1110.9,470.3L1111.7,466.5L1108.9,469.2M1139.4,478.5L1147.2,466M1146.1,470L1147.2,466L1144.1,468.7M1173.8,478.5L1182.7,465.9M1181.3,470L1182.7,465.9L1179.3,468.6M1208.2,478.5L1218.8,466.3M1217,470.5L1218.8,466.3L1215,468.8M1242.6,478.5L1254.8,466.6M1252.4,470.8L1254.8,466.6L1250.5,468.9M1277,478.5L1292.3,467.5M1289,471.7L1292.3,467.5L1287.2,469.3M1311.4,478.5L1328.6,468.1M1324.8,472.3L1328.6,468.1L1323.1,469.5M1345.8,478.5L1362.8,469.6M1358.9,473.4L1362.8,469.6L1357.5,470.7M1380.1,478.5L1399.1,471.6M1394.5,475L1399.1,471.6L1393.4,471.9M1414.5,478.5L1435.6,474M1430.3,477L1435.6,474L1429.6,473.5M1448.9,478.5L1472.5,476.6M1466.3,479.1L1472.5,476.6L1466,475.2M1483.3,478.5L1507.3,481.4M1500.6,482.6L1507.3,481.4L1501.1,478.7M1517.7,478.5L1540.5,485.3M1533.8,485.3L1540.5,485.3L1534.9,481.6M1552.1,478.5L1572.2,489.7M1565.9,488.3L1572.2,489.7L1567.7,485M1586.5,478.5L1602.7,492.6M1597.2,490.1L1602.7,492.6L1599.5,487.5M1620.9,478.5L1633.6,493.4M1629,490.4L1633.6,493.4L1631.4,488.3M1655.3,478.5L1665.1,493.4M1661.3,490.2L1665.1,493.4L1663.7,488.6M1689.7,478.5L1699.2,492.7M1695.5,489.7L1699.2,492.7L1697.8,488.1M1036.2,448.1L1042.5,437.8M1041.6,441.1L1042.5,437.8L1039.9,440.1M1070.6,448.1L1076.6,437.3M1075.8,440.7L1076.6,437.3L1074.1,439.7M1105,448.1L1112.1,437.1M1111.1,440.6L1112.1,437.1L1109.3,439.5M1139.4,448.1L1147.7,436.7M1146.4,440.5L1147.7,436.7L1144.6,439.1M1173.8,448.1L1182.8,436.6M1181.3,440.5L1182.8,436.6L1179.4,439M1208.2,448.1L1218.8,436.9M1216.8,440.8L1218.8,436.9L1215,439.1M1242.6,448.1L1254.7,437.2M1252.3,441.2L1254.7,437.2L1250.5,439.2M1277,448.1L1291.8,438.2M1288.6,442.1L1291.8,438.2L1287,439.7M1311.4,448.1L1327.9,439.9M1324.1,443.5L1327.9,439.9L1322.8,440.8M1345.8,448.1L1362,441.7M1358.1,444.8L1362,441.7L1357.1,442.1M1380.1,448.1L1397.9,443.4M1393.5,446.1L1397.9,443.4L1392.7,443.2M1414.5,448.1L1434.8,444.9M1429.6,447.4L1434.8,444.9L1429,444.1M1448.9,448.1L1470.3,447.3M1464.6,449.2L1470.3,447.3L1464.5,445.8M1483.3,448.1L1505,451M1498.9,452L1505,451L1499.4,448.5M1517.7,448.1L1538.6,454.5M1532.4,454.4L1538.6,454.5L1533.5,451.1M1552.1,448.1L1570.3,457.7M1564.6,456.6L1570.3,457.7L1566.2,453.6M1586.5,448.1L1602.3,459.4M1597.1,457.6L1602.3,459.4L1598.9,455.1M1620.9,448.1L1633.5,460.8M1629.1,458.4L1633.5,460.8L1631.1,456.4M1655.3,448.1L1665.6,461.4M1661.8,458.7L1665.6,461.4L1663.9,457M1689.7,448.1L1699.6,461.2M1695.8,458.5L1699.6,461.2L1698,456.9M1036.2,417.8L1042.7,407.9M1041.7,411.1L1042.7,407.9L1040.1,410M1070.6,417.8L1076.9,407.6M1076,410.9L1076.9,407.6L1074.4,409.8M1105,417.8L1112.3,407.6M1111.2,410.9L1112.3,407.6L1109.5,409.7M1139.4,417.8L1148,407.7M1146.5,411.1L1148,407.7L1144.9,409.7M1173.8,417.8L1183,407.6M1181.4,411.1L1183,407.6L1179.7,409.6M1208.2,417.8L1218.8,407.8M1216.8,411.3L1218.8,407.8L1215.1,409.6M1242.6,417.8L1254.6,408.2M1252.1,411.8L1254.6,408.2L1250.6,409.8M1277,417.8L1291,409.4M1287.9,412.8L1291,409.4L1286.5,410.5M1311.4,417.8L1327,411.4M1323.3,414.4L1327,411.4L1322.3,411.8M1345.8,417.8L1361.4,412.4M1357.6,415.1L1361.4,412.4L1356.7,412.6M1380.1,417.8L1397.2,413.3M1393,415.9L1397.2,413.3L1392.3,413.1M1414.5,417.8L1433.7,415M1428.8,417.3L1433.7,415L1428.3,414.2M1448.9,417.8L1468.5,417.5M1463.3,419.2L1468.5,417.5L1463.2,416M1483.3,417.8L1503,420.7M1497.4,421.5L1503,420.7L1497.9,418.3M1517.7,417.8L1536.7,423.9M1531.1,423.8L1536.7,423.9L1532.1,420.7M1552.1,417.8L1569.1,426.5M1563.8,425.5L1569.1,426.5L1565.2,422.7M1586.5,417.8L1601.7,428.4M1596.7,426.7L1601.7,428.4L1598.4,424.3M1620.9,417.8L1633,429.6M1628.8,427.4L1633,429.6L1630.7,425.4M1655.3,417.8L1665.9,429.6M1662.1,427.3L1665.9,429.6L1664,425.6M1689.7,417.8L1700,429.3M1696.3,427L1700,429.3L1698.1,425.3M1036.2,387.4L1042.8,377.8M1041.8,380.9L1042.8,377.8L1040.3,379.8M1070.6,387.4L1077.1,377.7M1076.1,380.9L1077.1,377.7L1074.6,379.8M1105,387.4L1112.5,377.6M1111.2,380.9L1112.5,377.6L1109.7,379.7M1139.4,387.4L1148,377.9M1146.4,381.2L1148,377.9L1144.9,379.8M1173.8,387.4L1183.1,378.2M1181.4,381.4L1183.1,378.2L1179.9,379.9M1208.2,387.4L1218.9,378.6M1216.7,381.8L1218.9,378.6L1215.3,380.1M1242.6,387.4L1254.3,379M1251.8,382.2L1254.3,379L1250.5,380.3M1277,387.4L1290.1,380M1287.2,383L1290.1,380L1286,380.9M1311.4,387.4L1326.2,381.4M1322.7,384.2L1326.2,381.4L1321.7,381.8M1345.8,387.4L1361.1,382.3M1357.4,384.9L1361.1,382.3L1356.5,382.4M1380.1,387.4L1396.6,383M1392.5,385.5L1396.6,383L1391.8,382.9M1414.5,387.4L1432.4,385M1427.8,387.1L1432.4,385L1427.4,384.2M1448.9,387.4L1466.9,387.5M1462.1,388.9L1466.9,387.5L1462.1,386M1483.3,387.4L1501.2,390.2M1496.1,390.9L1501.2,390.2L1496.6,388M1517.7,387.4L1535.1,393M1529.9,392.9L1535.1,393L1530.8,390M1552.1,387.4L1567.8,395.7M1562.9,394.7L1567.8,395.7L1564.2,392.2M1586.5,387.4L1600.8,397.4M1596.2,395.8L1600.8,397.4L1597.8,393.5M1620.9,387.4L1633.3,397.8M1629.1,396L1633.3,397.8L1630.8,394M1655.3,387.4L1666.2,397.8M1662.4,395.9L1666.2,397.8L1664.1,394.1M1689.7,387.4L1700.1,397.9M1696.5,395.9L1700.1,397.9L1698.2,394.2M1036.2,357L1043,347.8M1041.9,350.8L1043,347.8L1040.4,349.7M1070.6,357L1077.2,347.7M1076.2,350.7L1077.2,347.7L1074.7,349.7M1105,357L1112.5,347.8M1111.2,350.9L1112.5,347.8L1109.7,349.7M1139.4,357L1147.8,348.1M1146.3,351.2L1147.8,348.1L1144.8,349.8M1173.8,357L1183,348.4M1181.2,351.5L1183,348.4L1179.8,350M1208.2,357L1218.7,348.8M1216.5,351.9L1218.7,348.8L1215.2,350.2M1242.6,357L1254.2,349.3M1251.6,352.3L1254.2,349.3L1250.4,350.5M1277,357L1289.6,349.9M1286.7,352.8L1289.6,349.9L1285.6,350.8M1311.4,357L1325.5,350.9M1322.2,353.7L1325.5,350.9L1321.2,351.4M1345.8,357L1360.7,352M1357,354.5L1360.7,352L1356.2,352.1M1380.1,357L1395.8,353.2M1391.9,355.5L1395.8,353.2L1391.3,352.9M1414.5,357L1431.2,355.1M1426.8,357L1431.2,355.1L1426.5,354.3M1448.9,357L1465.6,357.3M1461.1,358.6L1465.6,357.3L1461.1,355.9M1483.3,357L1499.8,359.2M1495.2,360L1499.8,359.2L1495.5,357.3M1517.7,357L1533.6,361.5M1528.9,361.6L1533.6,361.5L1529.7,359M1552.1,357L1566.5,363.8M1562,363.2L1566.5,363.8L1563.1,360.8M1586.5,357L1600.6,365.2M1596.1,364.1L1600.6,365.2L1597.4,361.8M1620.9,357L1633.5,365.9M1629.4,364.6L1633.5,365.9L1630.8,362.5M1655.3,357L1666.2,366.5M1662.5,364.8L1666.2,366.5L1664,363.1M1689.7,357L1700,366.9M1696.4,365.1L1700,366.9L1698.1,363.4M1036.2,326.6L1043.3,318.5M1042,321.3L1043.3,318.5L1040.7,320.1M1070.6,326.6L1077.4,318.1M1076.2,320.9L1077.4,318.1L1074.8,319.8M1105,326.6L1112.5,318.1M1111.2,321L1112.5,318.1L1109.8,319.8M1139.4,326.6L1147.8,318.3M1146.2,321.2L1147.8,318.3L1144.9,319.9M1173.8,326.6L1182.9,318.5M1181.1,321.4L1182.9,318.5L1179.8,319.9M1208.2,326.6L1218.5,319M1216.3,321.9L1218.5,319L1215.1,320.2M1242.6,326.6L1254,319.5M1251.5,322.4L1254,319.5L1250.3,320.5M1277,326.6L1289.3,319.9M1286.5,322.7L1289.3,319.9L1285.4,320.7M1311.4,326.6L1324.8,320.8M1321.7,323.5L1324.8,320.8L1320.7,321.3M1345.8,326.6L1360,322M1356.5,324.4L1360,322L1355.8,322.1M1380.1,326.6L1394.9,323.5M1391.2,325.5L1394.9,323.5L1390.6,323.1M1414.5,326.6L1429.9,325.3M1425.9,326.9L1429.9,325.3L1425.7,324.4M1448.9,326.6L1464.6,327.2M1460.3,328.3L1464.6,327.2L1460.4,325.7M1483.3,326.6L1498.9,328.6M1494.5,329.3L1498.9,328.6L1494.8,326.8M1517.7,326.6L1532.4,330.2M1528.1,330.4L1532.4,330.2L1528.7,328M1552.1,326.6L1565.8,331.6M1561.7,331.4L1565.8,331.6L1562.5,329.2M1586.5,326.6L1599.9,332.8M1595.8,332.2L1599.9,332.8L1596.8,330.1M1620.9,326.6L1633,334.3M1629.1,333.2L1633,334.3L1630.4,331.2M1655.3,326.6L1665.9,335.5M1662.3,333.9L1665.9,335.5L1663.8,332.2M1689.7,326.6L1700,336M1696.5,334.3L1700,336L1698,332.6M1036.2,296.3L1043.5,288.7M1042.2,291.4L1043.5,288.7L1040.9,290.2M1070.6,296.3L1077.6,288.5M1076.3,291.2L1077.6,288.5L1075.1,290M1105,296.3L1112.6,288.5M1111.1,291.2L1112.6,288.5L1109.9,290M1139.4,296.3L1147.9,288.8M1146.2,291.5L1147.9,288.8L1145,290.1M1173.8,296.3L1182.8,288.9M1181,291.6L1182.8,288.9L1179.8,290.2M1208.2,296.3L1218.2,289.3M1216.1,292L1218.2,289.3L1214.9,290.3M1242.6,296.3L1253.8,289.9M1251.3,292.5L1253.8,289.9L1250.3,290.7M1277,296.3L1289,290.5M1286.2,293L1289,290.5L1285.3,291.1M1311.4,296.3L1324.3,291.1M1321.2,293.6L1324.3,291.1L1320.4,291.5M1345.8,296.3L1359.3,292.3M1356,294.4L1359.3,292.3L1355.3,292.2M1380.1,296.3L1394,293.7M1390.5,295.5L1394,293.7L1390,293.2M1414.5,296.3L1428.9,295.3M1425.1,296.7L1428.9,295.3L1424.9,294.4M1448.9,296.3L1463.8,296.8M1459.7,297.9L1463.8,296.8L1459.8,295.5M1483.3,296.3L1498.1,298.2M1493.9,298.9L1498.1,298.2L1494.3,296.5M1517.7,296.3L1531.6,299.5M1527.6,299.7L1531.6,299.5L1528.1,297.5M1552.1,296.3L1565.3,300.5M1561.4,300.4L1565.3,300.5L1562.1,298.3M1586.5,296.3L1599.1,301.6M1595.3,301.2L1599.1,301.6L1596.2,299.1M1620.9,296.3L1632.4,302.8M1628.7,302L1632.4,302.8L1629.8,300.1M1655.3,296.3L1665.6,303.8M1662.2,302.6L1665.6,303.8L1663.4,300.9M1689.7,296.3L1700.1,304M1696.7,302.7L1700.1,304L1697.9,301M1036.2,265.9L1043.6,258.8M1042.2,261.3L1043.6,258.8L1041,260.1M1070.6,265.9L1077.7,258.7M1076.4,261.2L1077.7,258.7L1075.2,260M1105,265.9L1112.6,258.7M1111.1,261.3L1112.6,258.7L1109.9,260M1139.4,265.9L1147.8,258.9M1146.1,261.4L1147.8,258.9L1145,260.1M1173.8,265.9L1182.9,259.1M1181,261.7L1182.9,259.1L1179.9,260.2M1208.2,265.9L1218,259.4M1215.8,262L1218,259.4L1214.8,260.4M1242.6,265.9L1253.5,260.2M1251,262.6L1253.5,260.2L1250.1,260.9M1277,265.9L1288.9,260.8M1286.1,263.1L1288.9,260.8L1285.2,261.2M1311.4,265.9L1323.9,261.4M1320.8,263.7L1323.9,261.4L1320.1,261.6M1345.8,265.9L1358.6,262.5M1355.4,264.4L1358.6,262.5L1354.8,262.3M1380.1,265.9L1393.2,263.7M1389.8,265.4L1393.2,263.7L1389.5,263.2M1414.5,265.9L1428,265.1M1424.4,266.4L1428,265.1L1424.3,264.2M1448.9,265.9L1463,266.5M1459.1,267.4L1463,266.5L1459.2,265.2M1483.3,265.9L1497.3,267.8M1493.4,268.4L1497.3,267.8L1493.7,266.2M1517.7,265.9L1531,269M1527.2,269.2L1531,269L1527.7,267.1M1552.1,265.9L1564.8,269.8M1561.1,269.8L1564.8,269.8L1561.7,267.7M1586.5,265.9L1598.6,270.7M1594.9,270.4L1598.6,270.7L1595.7,268.4M1620.9,265.9L1631.9,271.6M1628.4,271L1631.9,271.6L1629.4,269.2M1655.3,265.9L1665.4,272.3M1662.1,271.4L1665.4,272.3L1663.2,269.8M1689.7,265.9L1700,272.6M1696.7,271.6L1700,272.6L1697.8,270M1036.2,235.5L1043.7,228.7M1042.2,231.1L1043.7,228.7L1041.1,229.9M1070.6,235.5L1077.8,228.7M1076.4,231.1L1077.8,228.7L1075.3,229.9M1105,235.5L1112.6,228.7M1111.1,231.2L1112.6,228.7L1110,229.9M1139.4,235.5L1147.8,228.8M1146,231.3L1147.8,228.8L1145,229.9M1173.8,235.5L1182.8,229.1M1180.9,231.5L1182.8,229.1L1179.8,230.1M1208.2,235.5L1217.7,229.3M1215.6,231.8L1217.7,229.3L1214.6,230.2M1242.6,235.5L1253.1,229.8M1250.7,232.2L1253.1,229.8L1249.8,230.5M1277,235.5L1288.5,230.7M1285.8,232.9L1288.5,230.7L1285,231.1M1311.4,235.5L1323.4,231.6M1320.5,233.6L1323.4,231.6L1319.8,231.7M1345.8,235.5L1357.9,232.5M1354.9,234.3L1357.9,232.5L1354.4,232.4M1380.1,235.5L1392.5,233.6M1389.3,235.2L1392.5,233.6L1389,233.1M1414.5,235.5L1427.3,234.8M1423.9,236L1427.3,234.8L1423.8,234M1448.9,235.5L1462.2,236M1458.6,237L1462.2,236L1458.6,234.8M1483.3,235.5L1496.6,237.3M1492.9,237.9L1496.6,237.3L1493.1,235.8M1517.7,235.5L1530.5,238.4M1526.8,238.7L1530.5,238.4L1527.3,236.6M1552.1,235.5L1564.4,239.3M1560.7,239.3L1564.4,239.3L1561.4,237.3M1586.5,235.5L1598.1,240.2M1594.6,239.8L1598.1,240.2L1595.4,238M1620.9,235.5L1631.5,240.8M1628.2,240.2L1631.5,240.8L1629.1,238.5M1655.3,235.5L1665.1,241.4M1662,240.6L1665.1,241.4L1662.9,239M1689.7,235.5L1699.8,241.8M1696.6,240.9L1699.8,241.8L1697.6,239.3M1036.2,205.1L1043.6,198.5M1042.2,200.9L1043.6,198.5L1041.1,199.7M1070.6,205.1L1077.8,198.5M1076.4,200.9L1077.8,198.5L1075.3,199.7M1105,205.1L1112.6,198.6M1111.1,201L1112.6,198.6L1110,199.7M1139.4,205.1L1147.7,198.8M1146,201.2L1147.7,198.8L1144.9,199.8M1173.8,205.1L1182.7,199.1M1180.8,201.5L1182.7,199.1L1179.8,200M1208.2,205.1L1217.6,199.2M1215.6,201.6L1217.6,199.2L1214.6,200.1M1242.6,205.1L1252.7,199.7M1250.4,202L1252.7,199.7L1249.5,200.3M1277,205.1L1288,200.6M1285.4,202.8L1288,200.6L1284.7,201M1311.4,205.1L1322.9,201.6M1320.1,203.5L1322.9,201.6L1319.5,201.6M1345.8,205.1L1357.4,202.6M1354.4,204.2L1357.4,202.6L1354,202.3M1380.1,205.1L1391.9,203.5M1388.9,204.9L1391.9,203.5L1388.6,203M1414.5,205.1L1426.6,204.5M1423.4,205.7L1426.6,204.5L1423.3,203.7M1448.9,205.1L1461.5,205.6M1458,206.5L1461.5,205.6L1458.1,204.5M1483.3,205.1L1495.9,206.8M1492.4,207.4L1495.9,206.8L1492.6,205.4M1517.7,205.1L1530,207.9M1526.4,208.2L1530,207.9L1526.9,206.2M1552.1,205.1L1563.8,208.9M1560.4,208.8L1563.8,208.9L1561,206.9M1586.5,205.1L1597.7,209.8M1594.3,209.4L1597.7,209.8L1595.1,207.6M1620.9,205.1L1631.3,210.4M1628.1,209.8L1631.3,210.4L1628.9,208.1M1655.3,205.1L1664.8,210.9M1661.8,210.1L1664.8,210.9L1662.7,208.6M1689.7,205.1L1699.6,211.2M1696.4,210.4L1699.6,211.2L1697.4,208.8M1036.2,174.8L1043.6,168.2M1042.2,170.6L1043.6,168.2L1041.1,169.4M1070.6,174.8L1077.8,168.3M1076.4,170.6L1077.8,168.3L1075.3,169.4M1105,174.8L1112.6,168.5M1111,170.8L1112.6,168.5L1110,169.6M1139.4,174.8L1147.5,168.9M1145.8,171.1L1147.5,168.9L1144.9,169.8M1173.8,174.8L1182.6,169.3M1180.7,171.5L1182.6,169.3L1179.8,170.1M1208.2,174.8L1217.6,169.7M1215.5,171.8L1217.6,169.7L1214.6,170.3M1242.6,174.8L1252.3,170.1M1250.1,172.1L1252.3,170.1L1249.3,170.5M1277,174.8L1287.5,170.8M1285,172.7L1287.5,170.8L1284.3,171M1311.4,174.8L1322.4,171.7M1319.6,173.4L1322.4,171.7L1319.1,171.6M1345.8,174.8L1356.9,172.5M1354,174L1356.9,172.5L1353.7,172.2M1380.1,174.8L1391.4,173.4M1388.5,174.7L1391.4,173.4L1388.3,172.8M1414.5,174.8L1426.1,174.2M1423,175.3L1426.1,174.2L1422.9,173.4M1448.9,174.8L1460.8,175.2M1457.6,176.1L1460.8,175.2L1457.6,174.1M1483.3,174.8L1495.2,176.4M1491.9,176.9L1495.2,176.4L1492.1,175M1517.7,174.8L1529.4,177.6M1526,177.7L1529.4,177.6L1526.4,175.9M1552.1,174.8L1563.3,178.6M1560,178.4L1563.3,178.6L1560.6,176.6M1586.5,174.8L1597.3,179.4M1594,179L1597.3,179.4L1594.7,177.3M1620.9,174.8L1630.9,180.2M1627.8,179.6L1630.9,180.2L1628.6,178M1655.3,174.8L1664.7,180.7M1661.7,179.8L1664.7,180.7L1662.6,178.3M1689.7,174.8L1699.5,180.7M1696.4,179.9L1699.5,180.7L1697.3,178.3M1036.2,144.4L1043.8,138.2M1042.2,140.5L1043.8,138.2L1041.2,139.2M1070.6,144.4L1077.7,138.2M1076.3,140.4L1077.7,138.2L1075.3,139.3M1105,144.4L1112.4,138.5M1110.9,140.7L1112.4,138.5L1109.9,139.5M1139.4,144.4L1147.3,139M1145.6,141.1L1147.3,139L1144.7,139.8M1173.8,144.4L1182.4,139.6M1180.5,141.6L1182.4,139.6L1179.7,140.2M1208.2,144.4L1217.4,140.1M1215.3,142L1217.4,140.1L1214.6,140.5M1242.6,144.4L1252.2,140.4M1249.9,142.2L1252.2,140.4L1249.2,140.7M1277,144.4L1287.1,140.9M1284.6,142.7L1287.1,140.9L1284.1,141.1M1311.4,144.4L1321.9,141.7M1319.3,143.3L1321.9,141.7L1318.8,141.6M1345.8,144.4L1356.4,142.5M1353.7,143.9L1356.4,142.5L1353.4,142.1M1380.1,144.4L1391,143.2M1388.1,144.4L1391,143.2L1387.9,142.6M1414.5,144.4L1425.6,143.9M1422.6,144.9L1425.6,143.9L1422.6,143.2M1448.9,144.4L1460.2,144.8M1457.1,145.6L1460.2,144.8L1457.2,143.8M1483.3,144.4L1494.6,145.8M1491.4,146.3L1494.6,145.8L1491.6,144.5M1517.7,144.4L1528.7,146.9M1525.5,147.1L1528.7,146.9L1525.9,145.4M1552.1,144.4L1562.9,147.9M1559.7,147.8L1562.9,147.9L1560.3,146.1M1586.5,144.4L1596.8,148.7M1593.7,148.3L1596.8,148.7L1594.4,146.7M1620.9,144.4L1630.5,149.5M1627.5,148.9L1630.5,149.5L1628.3,147.3M1655.3,144.4L1664.7,149.8M1661.7,149.1L1664.7,149.8L1662.6,147.6M1689.7,144.4L1699.4,150.1M1696.3,149.3L1699.4,150.1L1697.2,147.8M1036.2,114L1044.1,109.2M1042.4,111.1L1044.1,109.2L1041.6,109.8M1070.6,114L1077.8,108.6M1076.3,110.7L1077.8,108.6L1075.4,109.5M1105,114L1112.3,108.6M1110.7,110.7L1112.3,108.6L1109.9,109.5M1139.4,114L1147,109M1145.4,111L1147,109L1144.5,109.7M1173.8,114L1182.1,109.6M1180.2,111.5L1182.1,109.6L1179.5,110.1M1208.2,114L1217.3,110.1M1215.1,111.9L1217.3,110.1L1214.5,110.4M1242.6,114L1252,110.4M1249.7,112.1L1252,110.4L1249.1,110.6M1277,114L1286.7,110.9M1284.3,112.6L1286.7,110.9L1283.8,111M1311.4,114L1321.5,111.7M1318.9,113.1L1321.5,111.7L1318.5,111.5M1345.8,114L1356.1,112.3M1353.4,113.6L1356.1,112.3L1353.1,111.9M1380.1,114L1390.6,112.9M1387.9,114.1L1390.6,112.9L1387.7,112.4M1414.5,114L1425.2,113.6M1422.3,114.6L1425.2,113.6L1422.3,112.8M1448.9,114L1459.7,114.4M1456.7,115.1L1459.7,114.4L1456.8,113.4M1483.3,114L1494,115.2M1491,115.7L1494,115.2L1491.2,114M1517.7,114L1528.2,115.9M1525.2,116.2L1528.2,115.9L1525.5,114.6M1552.1,114L1562.5,116.6M1559.5,116.8L1562.5,116.6L1559.9,115.1M1586.5,114L1596.3,117.7M1593.4,117.5L1596.3,117.7L1593.9,115.9M1620.9,114L1630.1,118.6M1627.3,118.1L1630.1,118.6L1628,116.6M1655.3,114L1664.5,119.1M1661.6,118.5L1664.5,119.1L1662.4,117M1689.7,114L1699.3,119.4M1696.2,118.8L1699.3,119.4L1697.1,117.2M1036.2,83.6L1044.4,79.6M1042.5,81.3L1044.4,79.6L1041.9,80M1070.6,83.6L1078.1,79.1M1076.4,80.9L1078.1,79.1L1075.7,79.7M1105,83.6L1112.3,78.8M1110.7,80.7L1112.3,78.8L1109.9,79.5M1139.4,83.6L1146.8,78.8M1145.2,80.7L1146.8,78.8L1144.4,79.5M1173.8,83.6L1181.8,79.3M1180,81.1L1181.8,79.3L1179.3,79.8M1208.2,83.6L1217,79.7M1215,81.5L1217,79.7L1214.3,80.1M1242.6,83.6L1251.7,80.2M1249.5,81.9L1251.7,80.2L1249,80.4M1277,83.6L1286.4,80.7M1284.1,82.3L1286.4,80.7L1283.6,80.7M1311.4,83.6L1321.1,81.3M1318.6,82.8L1321.1,81.3L1318.3,81.2M1345.8,83.6L1355.7,82M1353.2,83.3L1355.7,82L1352.9,81.6M1380.1,83.6L1390.2,82.6M1387.6,83.7L1390.2,82.6L1387.4,82.1M1414.5,83.6L1424.8,83.3M1422,84.2L1424.8,83.3L1422,82.5M1448.9,83.6L1459.2,84M1456.4,84.7L1459.2,84L1456.5,83M1483.3,83.6L1493.6,84.6M1490.8,85.2L1493.6,84.6L1490.9,83.5M1517.7,83.6L1527.9,85.2M1525,85.6L1527.9,85.2L1525.3,83.9M1552.1,83.6L1561.9,85.7M1559.1,85.9L1561.9,85.7L1559.4,84.4M1586.5,83.6L1595.7,86.8M1593,86.7L1595.7,86.8L1593.5,85.2M1620.9,83.6L1629.8,87.6M1627,87.3L1629.8,87.6L1627.7,85.8M1655.3,83.6L1664.1,88.2M1661.4,87.7L1664.1,88.2L1662.1,86.3M1689.7,83.6L1699.2,88.6M1696.2,88.1L1699.2,88.6L1697,86.5M1036.2,53.3L1044.6,49.8M1042.6,51.4L1044.6,49.8L1042.1,50.1M1070.6,53.3L1078.4,49.4M1076.6,51.1L1078.4,49.4L1076,49.8M1105,53.3L1112.5,49M1110.8,50.7L1112.5,49L1110.1,49.5M1139.4,53.3L1146.8,48.6M1145.1,50.5L1146.8,48.6L1144.4,49.3M1173.8,53.3L1181.6,48.8M1179.9,50.6L1181.6,48.8L1179.1,49.3M1208.2,53.3L1216.7,49.4M1214.7,51.1L1216.7,49.4L1214.1,49.7M1242.6,53.3L1251.5,49.9M1249.3,51.5L1251.5,49.9L1248.8,50.1M1277,53.3L1286,50.4M1283.8,51.9L1286,50.4L1283.4,50.4M1311.4,53.3L1320.7,51M1318.4,52.4L1320.7,51L1318,50.8M1345.8,53.3L1355.3,51.6M1352.9,52.9L1355.3,51.6L1352.6,51.3M1380.1,53.3L1389.9,52.3M1387.3,53.3L1389.9,52.3L1387.2,51.8M1414.5,53.3L1424.4,53M1421.7,53.8L1424.4,53L1421.7,52.2M1448.9,53.3L1458.9,53.6M1456.2,54.3L1458.9,53.6L1456.2,52.7M1483.3,53.3L1493.3,54.2M1490.5,54.8L1493.3,54.2L1490.7,53.2M1517.7,53.3L1527.6,54.8M1524.8,55.2L1527.6,54.8L1525.1,53.6M1552.1,53.3L1561.5,55.5M1558.8,55.6L1561.5,55.5L1559.2,54.1M1586.5,53.3L1595.2,56.2M1592.6,56.1L1595.2,56.2L1593.1,54.7M1620.9,53.3L1629.5,56.7M1626.9,56.4L1629.5,56.7L1627.4,55M1655.3,53.3L1664,56.9M1661.4,56.6L1664,56.9L1661.9,55.2M1689.7,53.3L1699.3,56.7M1696.5,56.5L1699.3,56.7L1697,55M1036.2,22.9L1044.8,20M1042.7,21.5L1044.8,20L1042.3,20.1M1070.6,22.9L1078.7,19.6M1076.8,21.2L1078.7,19.6L1076.3,19.9M1105,22.9L1112.8,19.3M1111,20.9L1112.8,19.3L1110.4,19.6M1139.4,22.9L1147.1,19M1145.3,20.6L1147.1,19L1144.7,19.4M1173.8,22.9L1181.4,18.9M1179.7,20.6L1181.4,18.9L1179,19.3M1208.2,22.9L1216.4,19.3M1214.5,20.9L1216.4,19.3L1213.9,19.6M1242.6,22.9L1251.2,19.8M1249.1,21.3L1251.2,19.8L1248.6,19.9M1277,22.9L1285.8,20.2M1283.6,21.7L1285.8,20.2L1283.2,20.2M1311.4,22.9L1320.3,20.6M1318.1,22L1320.3,20.6L1317.7,20.5M1345.8,22.9L1354.9,21.3M1352.6,22.5L1354.9,21.3L1352.3,21M1380.1,22.9L1389.5,22M1387,23L1389.5,22L1386.9,21.5M1414.5,22.9L1424,22.6M1421.5,23.4L1424,22.6L1421.4,21.9M1448.9,22.9L1458.5,23.2M1455.9,23.9L1458.5,23.2L1456,22.3M1483.3,22.9L1492.9,23.8M1490.2,24.4L1492.9,23.8L1490.4,22.8M1517.7,22.9L1527.2,24.5M1524.5,24.9L1527.2,24.5L1524.8,23.3M1552.1,22.9L1561,25.4M1558.4,25.4L1561,25.4L1558.8,24M1586.5,22.9L1595.1,25.6M1592.6,25.6L1595.1,25.6L1593,24.2M1620.9,22.9L1629.4,25.7M1626.9,25.6L1629.4,25.7L1627.3,24.2M1655.3,22.9L1664.1,25.6M1661.5,25.6L1664.1,25.6L1661.9,24.2M1689.7,22.9L1699.4,25.4M1696.6,25.5L1699.4,25.4L1697,24" stroke="#0a0a0a" stroke-width="1.45" fill="none" stroke-linecap="round" stroke-linejoin="round" clip-path="url(#clipb)"/>
<path d="M1036.2,485.6 L1038,486.5 L1039.8,487.4 L1041.6,488.3 L1043.5,489.2 L1045.3,490.1 L1047.1,491 L1048.9,491.8 L1050.7,492.7 L1052.5,493.6 L1054.3,494.5 L1056.2,495.5 L1058,496.4 L1059.8,497.3 L1061.6,498.2 L1063.4,499.1 L1065.1,500.1 L1066.9,501 L1068.7,502 L1070.5,502.9 L1072.3,503.9 L1074,504.9 L1075.8,505.9 L1077.6,506.8 L1079.3,507.8 L1081.1,508.8 L1082.9,509.8 L1084.6,510.8 L1086.4,511.9 L1088.1,512.9 L1089.9,513.9 L1091.6,514.9 L1093.4,515.9 L1095.1,516.9 L1096.9,518 L1098.6,519 L1100.3,520 L1102.1,521 L1103.8,522.1 L1105.6,523.1 L1107.3,524.1 L1109.1,525.2 L1110.8,526.2 L1112.5,527.2 L1114.3,528.2 L1116,529.3 L1117.8,530.3 L1119.5,531.3 L1121.3,532.3 L1123,533.4 L1124.8,534.4 L1126.5,535.4 L1128.2,536.4 L1130,537.5 L1131.7,538.5 L1133.4,539.6 L1135.2,540.6 L1136.9,541.6 L1138.6,542.7 L1140.4,543.8 L1142.1,544.8 L1143.8,545.9 L1145.5,547 L1147.2,548.1 L1148.9,549.1 L1150.6,550.3 L1152.3,551.4 L1154,552.5 L1155.6,553.6 L1157.3,554.8 L1159,555.9 L1160.6,557.1 L1162.3,558.3 L1163.9,559.5 L1165.5,560.7 L1167.2,561.9 L1168.8,563.1 L1170.4,564.3 L1172,565.5 L1173.7,566.7 L1175.3,567.9 L1176.9,569.1 L1178.5,570.3 L1180.2,571.5 L1181.8,572.7 L1183.4,573.9 L1185.1,575.1 L1186.7,576.2 L1188.4,577.4 L1190,578.6 L1191.7,579.7 L1193.3,580.9 L1195,582.1 L1196.6,583.2 L1198.3,584.4 L1200,585.5 L1201.6,586.7 L1203.3,587.8 L1205,589 L1206.6,590.1 L1208.3,591.3 L1210,592.4 L1211.6,593.6 L1213.3,594.7 L1214.9,595.9 L1216.6,597 L1218.3,598.2 L1219.9,599.4 L1221.6,600.5" stroke="#00008c" stroke-width="2.5" fill="none" stroke-linejoin="round"/>
<path d="M1036.2,342.2 L1037.7,343.5 L1039.3,344.8 L1040.8,346.1 L1042.4,347.4 L1043.9,348.7 L1045.5,350 L1047,351.3 L1048.5,352.6 L1050.1,353.9 L1051.6,355.2 L1053.2,356.5 L1054.7,357.8 L1056.3,359.1 L1057.8,360.3 L1059.3,361.6 L1060.9,362.9 L1062.4,364.2 L1064,365.6 L1065.5,366.9 L1067,368.2 L1068.6,369.5 L1070.1,370.8 L1071.6,372.1 L1073.2,373.4 L1074.7,374.7 L1076.2,376 L1077.7,377.4 L1079.3,378.7 L1080.8,380 L1082.3,381.3 L1083.8,382.6 L1085.3,384 L1086.9,385.3 L1088.4,386.6 L1089.9,388 L1091.4,389.3 L1092.9,390.6 L1094.4,392 L1095.9,393.3 L1097.4,394.6 L1098.9,396 L1100.4,397.3 L1101.9,398.7 L1103.4,400 L1104.9,401.4 L1106.4,402.7 L1107.9,404.1 L1109.4,405.5 L1110.8,406.9 L1112.3,408.2 L1113.8,409.6 L1115.2,411 L1116.7,412.4 L1118.1,413.8 L1119.6,415.2 L1121,416.6 L1122.4,418 L1123.9,419.5 L1125.3,420.9 L1126.7,422.3 L1128.1,423.8 L1129.5,425.2 L1131,426.6 L1132.4,428.1 L1133.8,429.5 L1135.2,430.9 L1136.6,432.4 L1138.1,433.8 L1139.5,435.2 L1141,436.6 L1142.4,438 L1143.9,439.4 L1145.3,440.8 L1146.8,442.2 L1148.3,443.5 L1149.7,444.9 L1151.2,446.2 L1152.7,447.6 L1154.2,448.9 L1155.7,450.3 L1157.2,451.6 L1158.7,453 L1160.3,454.3 L1161.8,455.6 L1163.3,457 L1164.8,458.3 L1166.3,459.6 L1167.8,460.9 L1169.4,462.3 L1170.9,463.6 L1172.4,464.9 L1173.9,466.3 L1175.4,467.6 L1176.9,469 L1178.4,470.3 L1179.9,471.7 L1181.3,473 L1182.8,474.4 L1184.3,475.8 L1185.8,477.2 L1187.2,478.6 L1188.7,480 L1190.1,481.4 L1191.6,482.8 L1193,484.2 L1194.4,485.6 L1195.9,487 L1197.3,488.5 L1198.7,489.9 L1200.1,491.3 L1201.5,492.7 L1203,494.2 L1204.4,495.6 L1205.8,497 L1207.2,498.5 L1208.6,499.9 L1210,501.3 L1211.5,502.8 L1212.9,504.2 L1214.3,505.6 L1215.7,507.1 L1217.2,508.5 L1218.6,509.9 L1220,511.3 L1221.5,512.7 L1222.9,514.1 L1224.3,515.5 L1225.8,517 L1227.2,518.4 L1228.7,519.8 L1230.1,521.2 L1231.5,522.6 L1233,524 L1234.4,525.4 L1235.8,526.9 L1237.2,528.3 L1238.6,529.7 L1240,531.2 L1241.4,532.7 L1242.8,534.1 L1244.2,535.6 L1245.6,537.1 L1246.9,538.6 L1248.3,540.1 L1249.6,541.6 L1250.9,543.1 L1252.2,544.6 L1253.5,546.2 L1254.8,547.7 L1256.1,549.3 L1257.4,550.8 L1258.6,552.4 L1259.9,554 L1261.2,555.5 L1262.4,557.1 L1263.7,558.7 L1264.9,560.3 L1266.2,561.8 L1267.4,563.4 L1268.7,565 L1270,566.6 L1271.2,568.1 L1272.5,569.7 L1273.8,571.3 L1275.1,572.8 L1276.3,574.4 L1277.6,575.9 L1278.9,577.5 L1280.2,579 L1281.5,580.5 L1282.8,582.1 L1284.1,583.6 L1285.4,585.2 L1286.7,586.7 L1288,588.2 L1289.3,589.8 L1290.6,591.3 L1292,592.8 L1293.3,594.4 L1294.6,595.9 L1295.9,597.4 L1297.2,599 L1298.5,600.5" stroke="#0008f0" stroke-width="2.5" fill="none" stroke-linejoin="round"/>
<path d="M1036.2,132 L1037.4,133.6 L1038.6,135.2 L1039.8,136.9 L1041,138.5 L1042.2,140.1 L1043.3,141.7 L1044.5,143.3 L1045.7,144.9 L1046.9,146.6 L1048.1,148.2 L1049.3,149.8 L1050.5,151.4 L1051.7,153 L1052.9,154.6 L1054.1,156.3 L1055.3,157.9 L1056.5,159.5 L1057.6,161.1 L1058.8,162.7 L1060,164.3 L1061.2,166 L1062.4,167.6 L1063.6,169.2 L1064.8,170.8 L1066,172.4 L1067.2,174.1 L1068.3,175.7 L1069.5,177.3 L1070.7,178.9 L1071.9,180.5 L1073.1,182.2 L1074.3,183.8 L1075.5,185.4 L1076.6,187 L1077.8,188.6 L1079,190.3 L1080.2,191.9 L1081.4,193.5 L1082.6,195.1 L1083.8,196.8 L1084.9,198.4 L1086.1,200 L1087.3,201.6 L1088.5,203.2 L1089.7,204.9 L1090.8,206.5 L1092,208.1 L1093.2,209.8 L1094.4,211.4 L1095.6,213 L1096.7,214.6 L1097.9,216.3 L1099.1,217.9 L1100.3,219.5 L1101.4,221.1 L1102.6,222.8 L1103.8,224.4 L1104.9,226 L1106.1,227.7 L1107.3,229.3 L1108.5,230.9 L1109.6,232.6 L1110.8,234.2 L1112,235.8 L1113.1,237.5 L1114.3,239.1 L1115.5,240.8 L1116.6,242.4 L1117.8,244 L1119,245.7 L1120.1,247.3 L1121.3,248.9 L1122.4,250.6 L1123.6,252.2 L1124.8,253.9 L1125.9,255.5 L1127.1,257.1 L1128.2,258.8 L1129.4,260.4 L1130.6,262.1 L1131.7,263.7 L1132.9,265.3 L1134,267 L1135.2,268.6 L1136.3,270.3 L1137.4,271.9 L1138.6,273.6 L1139.7,275.3 L1140.8,276.9 L1142,278.6 L1143.1,280.2 L1144.2,281.9 L1145.3,283.6 L1146.4,285.3 L1147.5,286.9 L1148.6,288.6 L1149.7,290.3 L1150.8,292 L1152,293.6 L1153.1,295.3 L1154.2,297 L1155.4,298.6 L1156.5,300.3 L1157.6,301.9 L1158.8,303.6 L1160,305.2 L1161.1,306.8 L1162.3,308.5 L1163.5,310.1 L1164.7,311.7 L1165.8,313.3 L1167,315 L1168.2,316.6 L1169.4,318.2 L1170.6,319.8 L1171.7,321.5 L1172.9,323.1 L1174.1,324.7 L1175.3,326.3 L1176.5,328 L1177.7,329.6 L1178.8,331.2 L1180,332.8 L1181.2,334.5 L1182.4,336.1 L1183.5,337.7 L1184.7,339.4 L1185.9,341 L1187,342.6 L1188.2,344.3 L1189.4,345.9 L1190.5,347.5 L1191.7,349.2 L1192.8,350.8 L1194,352.5 L1195.1,354.1 L1196.2,355.8 L1197.4,357.5 L1198.5,359.1 L1199.6,360.8 L1200.7,362.5 L1201.8,364.1 L1202.9,365.8 L1204,367.5 L1205.1,369.2 L1206.2,370.9 L1207.3,372.6 L1208.4,374.3 L1209.5,375.9 L1210.5,377.6 L1211.6,379.3 L1212.7,381 L1213.8,382.7 L1214.9,384.4 L1216,386.1 L1217,387.8 L1218.1,389.5 L1219.2,391.2 L1220.3,392.8 L1221.4,394.5 L1222.5,396.2 L1223.6,397.9 L1224.7,399.6 L1225.8,401.2 L1226.9,402.9 L1228,404.6 L1229.1,406.3 L1230.2,407.9 L1231.4,409.6 L1232.5,411.3 L1233.6,413 L1234.7,414.6 L1235.8,416.3 L1236.9,418 L1238,419.6 L1239.2,421.3 L1240.3,423 L1241.4,424.7 L1242.5,426.3 L1243.6,428 L1244.7,429.7 L1245.9,431.3 L1247,433 L1248.1,434.7 L1249.2,436.3 L1250.4,438 L1251.5,439.7 L1252.6,441.3 L1253.7,443 L1254.9,444.7 L1256,446.3 L1257.1,448 L1258.2,449.7 L1259.3,451.3 L1260.4,453 L1261.6,454.7 L1262.7,456.3 L1263.7,458 L1264.8,459.7 L1265.9,461.4 L1267,463.1 L1268.1,464.8 L1269.1,466.5 L1270.2,468.2 L1271.2,469.9 L1272.2,471.7 L1273.3,473.4 L1274.3,475.1 L1275.3,476.8 L1276.3,478.6 L1277.4,480.3 L1278.4,482 L1279.4,483.8 L1280.4,485.5 L1281.4,487.2 L1282.4,489 L1283.4,490.7 L1284.5,492.4 L1285.5,494.2 L1286.5,495.9 L1287.6,497.6 L1288.6,499.3 L1289.7,501 L1290.7,502.7 L1291.8,504.4 L1292.9,506.1 L1294,507.8 L1295,509.5 L1296.1,511.2 L1297.2,512.9 L1298.3,514.6 L1299.4,516.2 L1300.5,517.9 L1301.6,519.6 L1302.7,521.3 L1303.8,523 L1304.9,524.7 L1306,526.3 L1307.1,528 L1308.1,529.7 L1309.2,531.4 L1310.3,533.1 L1311.3,534.8 L1312.4,536.6 L1313.4,538.3 L1314.4,540 L1315.4,541.7 L1316.4,543.5 L1317.4,545.2 L1318.4,547 L1319.4,548.7 L1320.4,550.5 L1321.4,552.2 L1322.3,554 L1323.3,555.8 L1324.3,557.5 L1325.3,559.3 L1326.2,561 L1327.2,562.8 L1328.2,564.5 L1329.2,566.3 L1330.2,568 L1331.2,569.7 L1332.2,571.5 L1333.3,573.2 L1334.3,574.9 L1335.3,576.6 L1336.4,578.3 L1337.4,580.1 L1338.5,581.8 L1339.5,583.5 L1340.6,585.2 L1341.7,586.9 L1342.7,588.6 L1343.8,590.3 L1344.9,592 L1345.9,593.7 L1347,595.4 L1348.1,597.1 L1349.1,598.8 L1350.2,600.5" stroke="#0050ff" stroke-width="2.1" fill="none" stroke-linejoin="round"/>
<path d="M1148,22.9 L1148.9,24.7 L1149.8,26.5 L1150.7,28.3 L1151.6,30.1 L1152.5,31.9 L1153.4,33.7 L1154.3,35.5 L1155.2,37.3 L1156.2,39.1 L1157.1,40.8 L1158,42.6 L1158.9,44.4 L1159.8,46.2 L1160.7,48 L1161.6,49.8 L1162.5,51.6 L1163.4,53.4 L1164.3,55.2 L1165.2,57 L1166.1,58.8 L1167,60.6 L1167.9,62.4 L1168.7,64.2 L1169.6,66.1 L1170.4,67.9 L1171.3,69.7 L1172.1,71.5 L1173,73.4 L1173.8,75.2 L1174.6,77 L1175.4,78.9 L1176.2,80.7 L1177,82.5 L1177.8,84.4 L1178.6,86.2 L1179.4,88.1 L1180.2,89.9 L1181,91.8 L1181.7,93.7 L1182.5,95.5 L1183.2,97.4 L1184,99.3 L1184.7,101.1 L1185.5,103 L1186.2,104.9 L1186.9,106.7 L1187.7,108.6 L1188.4,110.5 L1189.1,112.4 L1189.9,114.2 L1190.6,116.1 L1191.3,118 L1192,119.9 L1192.7,121.7 L1193.5,123.6 L1194.2,125.5 L1194.9,127.4 L1195.6,129.2 L1196.3,131.1 L1197.1,133 L1197.8,134.9 L1198.5,136.8 L1199.2,138.6 L1200,140.5 L1200.7,142.4 L1201.4,144.3 L1202.1,146.1 L1202.9,148 L1203.6,149.9 L1204.3,151.7 L1205.1,153.6 L1205.8,155.5 L1206.6,157.4 L1207.3,159.2 L1208.1,161.1 L1208.8,162.9 L1209.6,164.8 L1210.4,166.7 L1211.2,168.5 L1212,170.4 L1212.7,172.2 L1213.5,174.1 L1214.3,175.9 L1215.1,177.7 L1216,179.6 L1216.8,181.4 L1217.6,183.2 L1218.5,185.1 L1219.3,186.9 L1220.1,188.7 L1221,190.5 L1221.8,192.4 L1222.7,194.2 L1223.6,196 L1224.4,197.8 L1225.3,199.6 L1226.2,201.4 L1227.1,203.2 L1227.9,205.1 L1228.8,206.9 L1229.7,208.7 L1230.6,210.5 L1231.4,212.3 L1232.3,214.1 L1233.2,215.9 L1234.1,217.7 L1234.9,219.5 L1235.8,221.4 L1236.7,223.2 L1237.5,225 L1238.4,226.8 L1239.2,228.6 L1240,230.5 L1240.9,232.3 L1241.7,234.1 L1242.5,236 L1243.3,237.8 L1244.1,239.7 L1244.9,241.5 L1245.7,243.4 L1246.5,245.2 L1247.2,247.1 L1248,248.9 L1248.7,250.8 L1249.5,252.7 L1250.2,254.5 L1251,256.4 L1251.7,258.3 L1252.4,260.1 L1253.2,262 L1253.9,263.9 L1254.6,265.8 L1255.4,267.6 L1256.1,269.5 L1256.8,271.4 L1257.5,273.3 L1258.2,275.2 L1259,277 L1259.7,278.9 L1260.4,280.8 L1261.1,282.7 L1261.9,284.5 L1262.6,286.4 L1263.3,288.3 L1264.1,290.1 L1264.8,292 L1265.6,293.9 L1266.3,295.7 L1267.1,297.6 L1267.8,299.5 L1268.6,301.3 L1269.4,303.2 L1270.2,305 L1270.9,306.9 L1271.7,308.7 L1272.5,310.6 L1273.3,312.4 L1274.1,314.3 L1274.9,316.1 L1275.7,318 L1276.5,319.8 L1277.3,321.6 L1278.1,323.5 L1278.9,325.3 L1279.8,327.2 L1280.6,329 L1281.4,330.9 L1282.2,332.7 L1283,334.5 L1283.8,336.4 L1284.6,338.2 L1285.4,340.1 L1286.2,341.9 L1287,343.7 L1287.8,345.6 L1288.6,347.4 L1289.4,349.3 L1290.2,351.1 L1291,353 L1291.8,354.8 L1292.6,356.7 L1293.4,358.5 L1294.1,360.4 L1294.9,362.2 L1295.7,364.1 L1296.4,366 L1297.2,367.8 L1297.9,369.7 L1298.6,371.6 L1299.4,373.5 L1300.1,375.3 L1300.8,377.2 L1301.5,379.1 L1302.2,381 L1302.8,382.9 L1303.5,384.8 L1304.2,386.7 L1304.8,388.6 L1305.5,390.5 L1306.1,392.4 L1306.8,394.3 L1307.4,396.2 L1308,398.1 L1308.6,400 L1309.2,401.9 L1309.9,403.9 L1310.5,405.8 L1311.1,407.7 L1311.7,409.6 L1312.3,411.5 L1312.9,413.4 L1313.5,415.4 L1314.1,417.3 L1314.7,419.2 L1315.4,421.1 L1316,423 L1316.6,424.9 L1317.2,426.8 L1317.9,428.7 L1318.5,430.6 L1319.2,432.5 L1319.8,434.4 L1320.5,436.3 L1321.2,438.2 L1321.9,440.1 L1322.6,442 L1323.2,443.9 L1323.9,445.8 L1324.6,447.7 L1325.3,449.5 L1326.1,451.4 L1326.8,453.3 L1327.5,455.2 L1328.2,457.1 L1328.9,458.9 L1329.7,460.8 L1330.4,462.7 L1331.1,464.6 L1331.9,466.4 L1332.6,468.3 L1333.4,470.1 L1334.2,472 L1334.9,473.9 L1335.7,475.7 L1336.5,477.6 L1337.3,479.4 L1338.1,481.3 L1338.9,483.1 L1339.7,484.9 L1340.6,486.7 L1341.4,488.6 L1342.3,490.4 L1343.2,492.2 L1344.1,494 L1345.1,495.7 L1346,497.5 L1347,499.3 L1348,501 L1349,502.8 L1350,504.5 L1351,506.2 L1352,508 L1353,509.7 L1354.1,511.4 L1355.1,513.1 L1356.1,514.9 L1357.1,516.6 L1358.1,518.4 L1359.1,520.1 L1360.1,521.9 L1361.1,523.6 L1362,525.4 L1363,527.2 L1363.9,528.9 L1364.8,530.7 L1365.8,532.5 L1366.7,534.3 L1367.6,536.1 L1368.5,537.9 L1369.4,539.7 L1370.4,541.5 L1371.3,543.2 L1372.2,545 L1373,546.8 L1373.9,548.7 L1374.8,550.5 L1375.7,552.3 L1376.6,554.1 L1377.4,555.9 L1378.3,557.7 L1379.1,559.5 L1380,561.4 L1380.8,563.2 L1381.6,565 L1382.4,566.9 L1383.2,568.7 L1384,570.6 L1384.8,572.4 L1385.5,574.3 L1386.3,576.1 L1387.1,578 L1387.8,579.9 L1388.5,581.7 L1389.3,583.6 L1390,585.5 L1390.7,587.4 L1391.5,589.2 L1392.2,591.1 L1392.9,593 L1393.6,594.9 L1394.4,596.7 L1395.1,598.6 L1395.8,600.5" stroke="#00bfff" stroke-width="2.1" fill="none" stroke-linejoin="round"/>
<path d="M1298,22.9 L1300.5,31" stroke="#00ffe0" stroke-width="2.1" fill="none" stroke-linejoin="round"/>
<path d="M1311.9,86.4 L1312.3,88.4 L1312.6,90.4 L1313,92.3 L1313.3,94.3 L1313.7,96.3 L1314,98.3 L1314.4,100.2 L1314.7,102.2 L1315.1,104.2 L1315.4,106.2 L1315.8,108.2 L1316.2,110.1 L1316.5,112.1 L1316.9,114.1 L1317.2,116.1 L1317.6,118 L1317.9,120 L1318.3,122 L1318.6,124 L1319,126 L1319.3,127.9 L1319.7,129.9 L1320.1,131.9 L1320.4,133.9 L1320.8,135.8 L1321.1,137.8 L1321.5,139.8 L1321.9,141.8 L1322.2,143.7 L1322.6,145.7 L1323,147.7 L1323.3,149.7 L1323.7,151.6 L1324.1,153.6 L1324.5,155.6 L1324.8,157.6 L1325.2,159.5 L1325.6,161.5 L1326,163.5 L1326.4,165.5 L1326.7,167.4 L1327.1,169.4 L1327.5,171.4 L1327.9,173.3 L1328.3,175.3 L1328.7,177.3 L1329.1,179.3 L1329.5,181.2 L1329.8,183.2 L1330.2,185.2 L1330.6,187.1 L1331,189.1 L1331.4,191.1 L1331.8,193.1 L1332.2,195 L1332.6,197 L1333,199 L1333.4,200.9 L1333.8,202.9 L1334.2,204.9 L1334.6,206.8 L1335,208.8 L1335.4,210.8 L1335.8,212.8 L1336.2,214.7 L1336.6,216.7 L1337,218.7 L1337.4,220.6 L1337.8,222.6 L1338.2,224.6 L1338.6,226.5 L1339,228.5 L1339.4,230.5 L1339.9,232.4 L1340.3,234.4 L1340.7,236.4 L1341.1,238.3 L1341.5,240.3 L1341.9,242.3 L1342.3,244.2 L1342.8,246.2 L1343.2,248.2 L1343.6,250.1 L1344,252.1 L1344.4,254.1 L1344.8,256 L1345.3,258 L1345.7,260 L1346.1,261.9 L1346.5,263.9 L1347,265.8 L1347.4,267.8 L1347.8,269.8 L1348.2,271.7 L1348.6,273.7 L1349.1,275.7 L1349.5,277.6 L1349.9,279.6 L1350.4,281.6 L1350.8,283.5 L1351.2,285.5 L1351.6,287.4 L1352.1,289.4 L1352.5,291.4 L1352.9,293.3 L1353.4,295.3 L1353.8,297.3 L1354.2,299.2 L1354.7,301.2 L1355.1,303.1 L1355.5,305.1 L1356,307.1 L1356.4,309 L1356.9,311 L1357.3,312.9 L1357.8,314.9 L1358.2,316.9 L1358.6,318.8 L1359.1,320.8 L1359.5,322.7 L1360,324.7 L1360.4,326.7 L1360.9,328.6 L1361.3,330.6 L1361.8,332.5 L1362.2,334.5 L1362.7,336.4 L1363.2,338.4 L1363.6,340.4 L1364.1,342.3 L1364.5,344.3 L1365,346.2 L1365.4,348.2 L1365.9,350.1 L1366.3,352.1 L1366.8,354.1 L1367.2,356 L1367.7,358 L1368.2,359.9 L1368.6,361.9 L1369.1,363.8 L1369.5,365.8 L1370,367.8 L1370.4,369.7 L1370.9,371.7 L1371.4,373.6 L1371.8,375.6 L1372.3,377.5 L1372.7,379.5 L1373.2,381.5 L1373.6,383.4 L1374.1,385.4 L1374.6,387.3 L1375,389.3 L1375.5,391.2 L1375.9,393.2 L1376.4,395.1 L1376.8,397.1 L1377.3,399.1 L1377.7,401 L1378.2,403 L1378.6,404.9 L1379.1,406.9 L1379.5,408.9 L1379.9,410.8 L1380.4,412.8 L1380.8,414.8 L1381.2,416.7 L1381.6,418.7 L1382,420.7 L1382.4,422.6 L1382.8,424.6 L1383.2,426.6 L1383.6,428.5 L1384,430.5 L1384.4,432.5 L1384.8,434.4 L1385.2,436.4 L1385.6,438.4 L1386,440.4 L1386.3,442.3 L1386.7,444.3 L1387.1,446.3 L1387.5,448.2 L1387.9,450.2 L1388.3,452.2 L1388.6,454.2 L1389,456.1 L1389.4,458.1 L1389.8,460.1 L1390.2,462 L1390.7,464 L1391.1,466 L1391.5,467.9 L1391.9,469.9 L1392.4,471.9 L1392.8,473.8 L1393.2,475.8 L1393.7,477.7 L1394.1,479.7 L1394.6,481.7 L1395,483.6 L1395.5,485.6 L1396,487.5 L1396.5,489.5 L1397,491.4 L1397.5,493.4 L1398,495.3 L1398.5,497.3 L1399,499.2 L1399.5,501.1 L1400,503.1 L1400.6,505 L1401.2,506.9 L1401.7,508.9 L1402.3,510.8 L1402.9,512.7 L1403.5,514.6 L1404.1,516.5 L1404.7,518.4 L1405.4,520.3 L1406,522.2 L1406.7,524.1 L1407.3,526 L1408,527.9 L1408.7,529.8 L1409.3,531.7 L1410,533.6 L1410.7,535.5 L1411.4,537.4 L1412,539.3 L1412.7,541.2 L1413.4,543.1 L1414,545 L1414.7,546.9 L1415.4,548.8 L1416,550.7 L1416.6,552.6 L1417.3,554.5 L1417.9,556.4 L1418.5,558.3 L1419.2,560.2 L1419.8,562.1 L1420.4,564 L1421,566 L1421.6,567.9 L1422.2,569.8 L1422.8,571.7 L1423.4,573.6 L1424,575.5 L1424.6,577.5 L1425.2,579.4 L1425.8,581.3 L1426.4,583.2 L1427,585.1 L1427.6,587.1 L1428.1,589 L1428.7,590.9 L1429.3,592.8 L1429.9,594.7 L1430.5,596.7 L1431.1,598.6 L1431.7,600.5" stroke="#00ffe0" stroke-width="2.1" fill="none" stroke-linejoin="round"/>
<path d="M1431.6,22.9 L1431.6,32" stroke="#80ff70" stroke-width="2.1" fill="none" stroke-linejoin="round"/>
<path d="M1431.6,85.3 L1431.6,87.3 L1431.6,89.3 L1431.6,91.3 L1431.6,93.3 L1431.7,95.4 L1431.7,97.4 L1431.7,99.4 L1431.7,101.4 L1431.7,103.4 L1431.7,105.4 L1431.7,107.4 L1431.7,109.4 L1431.7,111.4 L1431.8,113.5 L1431.8,115.5 L1431.8,117.5 L1431.8,119.5 L1431.8,121.5 L1431.8,123.5 L1431.8,125.5 L1431.8,127.5 L1431.8,129.5 L1431.8,131.6 L1431.9,133.6 L1431.9,135.6 L1431.9,137.6 L1431.9,139.6 L1431.9,141.6 L1431.9,143.6 L1431.9,145.6 L1431.9,147.6 L1431.9,149.7 L1432,151.7 L1432,153.7 L1432,155.7 L1432,157.7 L1432,159.7 L1432,161.7 L1432,163.7 L1432,165.7 L1432,167.8 L1432,169.8 L1432.1,171.8 L1432.1,173.8 L1432.1,175.8 L1432.1,177.8 L1432.1,179.8 L1432.1,181.8 L1432.1,183.8 L1432.1,185.9 L1432.1,187.9 L1432.1,189.9 L1432.2,191.9 L1432.2,193.9 L1432.2,195.9 L1432.2,197.9 L1432.2,199.9 L1432.2,201.9 L1432.2,204 L1432.2,206 L1432.2,208 L1432.3,210 L1432.3,212 L1432.3,214 L1432.3,216 L1432.3,218 L1432.3,220 L1432.3,222.1 L1432.3,224.1 L1432.3,226.1 L1432.4,228.1 L1432.4,230.1 L1432.4,232.1 L1432.4,234.1 L1432.4,236.1 L1432.4,238.1 L1432.4,240.2 L1432.4,242.2 L1432.4,244.2 L1432.5,246.2 L1432.5,248.2 L1432.5,250.2 L1432.5,252.2 L1432.5,254.2 L1432.5,256.2 L1432.5,258.3 L1432.5,260.3 L1432.5,262.3 L1432.6,264.3 L1432.6,266.3 L1432.6,268.3 L1432.6,270.3 L1432.6,272.3 L1432.6,274.3 L1432.6,276.4 L1432.6,278.4 L1432.7,280.4 L1432.7,282.4 L1432.7,284.4 L1432.7,286.4 L1432.7,288.4 L1432.7,290.4 L1432.7,292.4 L1432.8,294.5 L1432.8,296.5 L1432.8,298.5 L1432.8,300.5 L1432.8,302.5 L1432.8,304.5 L1432.8,306.5 L1432.9,308.5 L1432.9,310.5 L1432.9,312.6 L1432.9,314.6 L1432.9,316.6 L1432.9,318.6 L1433,320.6 L1433,322.6 L1433,324.6 L1433,326.6 L1433,328.6 L1433,330.7 L1433.1,332.7 L1433.1,334.7 L1433.1,336.7 L1433.1,338.7 L1433.2,340.7 L1433.2,342.7 L1433.3,344.7 L1433.3,346.7 L1433.4,348.8 L1433.4,350.8 L1433.5,352.8 L1433.5,354.8 L1433.6,356.8 L1433.7,358.8 L1433.7,360.8 L1433.8,362.8 L1433.9,364.8 L1433.9,366.8 L1434,368.9 L1434.1,370.9 L1434.2,372.9 L1434.2,374.9 L1434.3,376.9 L1434.4,378.9 L1434.5,380.9 L1434.6,382.9 L1434.7,384.9 L1434.7,386.9 L1434.8,388.9 L1434.9,391 L1435,393 L1435.1,395 L1435.2,397 L1435.3,399 L1435.4,401 L1435.5,403 L1435.6,405 L1435.7,407 L1435.8,409 L1435.9,411 L1436,413.1 L1436.1,415.1 L1436.2,417.1 L1436.3,419.1 L1436.4,421.1 L1436.5,423.1 L1436.6,425.1 L1436.7,427.1 L1436.8,429.1 L1437,431.1 L1437.1,433.1 L1437.2,435.1 L1437.3,437.1 L1437.5,439.2 L1437.6,441.2 L1437.7,443.2 L1437.9,445.2 L1438,447.2 L1438.2,449.2 L1438.3,451.2 L1438.5,453.2 L1438.6,455.2 L1438.8,457.2 L1439,459.2 L1439.1,461.2 L1439.3,463.2 L1439.5,465.2 L1439.7,467.2 L1439.8,469.2 L1440,471.2 L1440.2,473.2 L1440.4,475.2 L1440.6,477.2 L1440.8,479.2 L1441,481.2 L1441.2,483.2 L1441.5,485.2 L1441.7,487.2 L1441.9,489.2 L1442.1,491.2 L1442.3,493.2 L1442.6,495.2 L1442.8,497.2 L1443,499.2 L1443.3,501.2 L1443.5,503.2 L1443.7,505.2 L1444,507.2 L1444.2,509.2 L1444.5,511.2 L1444.7,513.2 L1445,515.2 L1445.2,517.2 L1445.5,519.2 L1445.8,521.2 L1446,523.2 L1446.3,525.2 L1446.6,527.1 L1446.9,529.1 L1447.2,531.1 L1447.5,533.1 L1447.8,535.1 L1448.1,537.1 L1448.4,539.1 L1448.7,541.1 L1449.1,543 L1449.4,545 L1449.7,547 L1450,549 L1450.4,551 L1450.7,553 L1451,555 L1451.4,556.9 L1451.7,558.9 L1452,560.9 L1452.4,562.9 L1452.7,564.9 L1453.1,566.8 L1453.4,568.8 L1453.8,570.8 L1454.1,572.8 L1454.5,574.8 L1454.8,576.7 L1455.2,578.7 L1455.5,580.7 L1455.9,582.7 L1456.3,584.7 L1456.6,586.6 L1457,588.6 L1457.3,590.6 L1457.7,592.6 L1458,594.6 L1458.4,596.5 L1458.7,598.5 L1459.1,600.5" stroke="#80ff70" stroke-width="2.1" fill="none" stroke-linejoin="round"/>
<path d="M1562.2,22.9 L1561.6,24.8 L1561.1,26.8 L1560.6,28.7 L1560,30.6 L1559.5,32.6 L1559,34.5 L1558.5,36.5 L1558,38.4 L1557.5,40.4 L1557,42.3 L1556.6,44.3 L1556.1,46.3 L1555.7,48.2 L1555.3,50.2 L1554.9,52.2 L1554.5,54.1 L1554.2,56.1 L1553.8,58.1 L1553.4,60.1 L1553.1,62.1 L1552.7,64 L1552.4,66 L1552,68 L1551.7,70 L1551.4,72 L1551,74 L1550.7,75.9 L1550.4,77.9 L1550.1,79.9 L1549.7,81.9 L1549.4,83.9 L1549.1,85.9 L1548.8,87.9 L1548.4,89.8 L1548.1,91.8 L1547.8,93.8 L1547.4,95.8 L1547.1,97.8 L1546.8,99.8 L1546.4,101.8 L1546.1,103.7 L1545.7,105.7 L1545.4,107.7 L1545,109.7 L1544.7,111.7 L1544.3,113.6 L1544,115.6 L1543.6,117.6 L1543.2,119.6 L1542.8,121.6 L1542.4,123.5 L1542,125.5 L1541.6,127.5 L1541.2,129.4 L1540.8,131.4 L1540.3,133.4 L1539.9,135.3 L1539.5,137.3 L1539,139.3 L1538.5,141.2 L1538.1,143.2 L1537.6,145.1 L1537.1,147.1 L1536.6,149 L1536.1,151 L1535.6,152.9 L1535.2,154.9 L1534.7,156.8 L1534.2,158.8 L1533.7,160.7 L1533.2,162.7 L1532.7,164.7 L1532.3,166.6 L1531.8,168.6 L1531.3,170.5 L1530.9,172.5 L1530.4,174.4 L1530,176.4 L1529.5,178.4 L1529.1,180.3 L1528.7,182.3 L1528.3,184.3 L1527.8,186.2 L1527.4,188.2 L1527,190.2 L1526.6,192.2 L1526.2,194.1 L1525.8,196.1 L1525.4,198.1 L1525,200 L1524.6,202 L1524.2,204 L1523.8,206 L1523.4,207.9 L1523.1,209.9 L1522.7,211.9 L1522.3,213.9 L1521.9,215.8 L1521.5,217.8 L1521.2,219.8 L1520.8,221.8 L1520.4,223.7 L1520,225.7 L1519.7,227.7 L1519.3,229.7 L1518.9,231.7 L1518.5,233.6 L1518.2,235.6 L1517.8,237.6 L1517.4,239.6 L1517.1,241.5 L1516.7,243.5 L1516.3,245.5 L1515.9,247.5 L1515.6,249.5 L1515.2,251.4 L1514.9,253.4 L1514.5,255.4 L1514.1,257.4 L1513.8,259.4 L1513.4,261.3 L1513,263.3 L1512.7,265.3 L1512.3,267.3 L1512,269.3 L1511.6,271.2 L1511.3,273.2 L1510.9,275.2 L1510.6,277.2 L1510.2,279.2 L1509.9,281.1 L1509.5,283.1 L1509.2,285.1 L1508.8,287.1 L1508.5,289.1 L1508.1,291.1 L1507.8,293 L1507.5,295 L1507.1,297 L1506.8,299 L1506.5,301 L1506.1,303 L1505.8,305 L1505.5,306.9 L1505.2,308.9 L1504.9,310.9 L1504.6,312.9 L1504.3,314.9 L1504,316.9 L1503.6,318.9 L1503.3,320.9 L1503.1,322.9 L1502.8,324.8 L1502.5,326.8 L1502.2,328.8 L1501.9,330.8 L1501.6,332.8 L1501.3,334.8 L1501,336.8 L1500.7,338.8 L1500.4,340.8 L1500.1,342.8 L1499.8,344.8 L1499.6,346.7 L1499.3,348.7 L1499,350.7 L1498.7,352.7 L1498.4,354.7 L1498.1,356.7 L1497.8,358.7 L1497.5,360.7 L1497.2,362.7 L1496.9,364.7 L1496.5,366.6 L1496.2,368.6 L1495.9,370.6 L1495.6,372.6 L1495.3,374.6 L1494.9,376.6 L1494.6,378.6 L1494.3,380.6 L1494,382.5 L1493.6,384.5 L1493.3,386.5 L1493,388.5 L1492.6,390.5 L1492.3,392.5 L1492,394.5 L1491.7,396.4 L1491.3,398.4 L1491,400.4 L1490.7,402.4 L1490.4,404.4 L1490.1,406.4 L1489.8,408.4 L1489.5,410.4 L1489.2,412.3 L1488.9,414.3 L1488.6,416.3 L1488.3,418.3 L1488,420.3 L1487.8,422.3 L1487.5,424.3 L1487.2,426.3 L1487,428.3 L1486.7,430.3 L1486.5,432.3 L1486.2,434.3 L1486,436.3 L1485.7,438.3 L1485.5,440.3 L1485.2,442.3 L1485,444.3 L1484.8,446.3 L1484.5,448.3 L1484.3,450.3 L1484.1,452.3 L1483.9,454.3 L1483.6,456.3 L1483.4,458.3 L1483.2,460.3 L1483,462.3 L1482.8,464.3 L1482.6,466.3 L1482.4,468.3 L1482.2,470.3 L1482,472.3 L1481.8,474.3 L1481.6,476.3 L1481.4,478.3 L1481.2,480.3 L1481,482.3 L1480.9,484.3 L1480.7,486.3 L1480.5,488.3 L1480.4,490.3 L1480.2,492.3 L1480.1,494.3 L1479.9,496.3 L1479.8,498.3 L1479.7,500.4 L1479.6,502.4 L1479.5,504.4 L1479.4,506.4 L1479.3,508.4 L1479.2,510.4 L1479.1,512.4 L1479,514.4 L1478.9,516.4 L1478.9,518.4 L1478.8,520.5 L1478.8,522.5 L1478.7,524.5 L1478.7,526.5 L1478.6,528.5 L1478.6,530.5 L1478.6,532.5 L1478.6,534.5 L1478.6,536.6 L1478.7,538.6 L1478.7,540.6 L1478.7,542.6 L1478.8,544.6 L1478.9,546.6 L1479,548.6 L1479.1,550.6 L1479.3,552.6 L1479.4,554.6 L1479.6,556.6 L1479.8,558.6 L1480,560.6 L1480.2,562.6 L1480.4,564.6 L1480.6,566.6 L1480.9,568.6 L1481.1,570.6 L1481.4,572.6 L1481.7,574.6 L1482,576.6 L1482.3,578.6 L1482.6,580.6 L1482.8,582.6 L1483.1,584.6 L1483.4,586.6 L1483.7,588.6 L1484,590.5 L1484.3,592.5 L1484.6,594.5 L1484.9,596.5 L1485.2,598.5 L1485.5,600.5" stroke="#efff00" stroke-width="2.1" fill="none" stroke-linejoin="round"/>
<path d="M1689.7,69.8 L1688.9,71.6 L1688,73.4 L1687.2,75.3 L1686.3,77.1 L1685.5,78.9 L1684.7,80.7 L1683.8,82.6 L1683,84.4 L1682.2,86.2 L1681.3,88 L1680.5,89.9 L1679.6,91.7 L1678.8,93.5 L1678,95.3 L1677.1,97.2 L1676.3,99 L1675.4,100.8 L1674.6,102.6 L1673.8,104.5 L1672.9,106.3 L1672.1,108.1 L1671.2,109.9 L1670.4,111.8 L1669.6,113.6 L1668.7,115.4 L1667.9,117.2 L1667,119.1 L1666.2,120.9 L1665.4,122.7 L1664.5,124.5 L1663.7,126.4 L1662.8,128.2 L1662,130 L1661.2,131.8 L1660.3,133.6 L1659.5,135.5 L1658.6,137.3 L1657.8,139.1 L1656.9,140.9 L1656.1,142.8 L1655.2,144.6 L1654.4,146.4 L1653.5,148.2 L1652.6,150 L1651.8,151.8 L1650.9,153.6 L1650,155.4 L1649.1,157.2 L1648.2,159 L1647.3,160.8 L1646.4,162.6 L1645.5,164.4 L1644.6,166.2 L1643.7,168 L1642.8,169.8 L1641.9,171.6 L1640.9,173.3 L1640,175.1 L1639.1,176.9 L1638.2,178.7 L1637.3,180.5 L1636.4,182.3 L1635.5,184.1 L1634.7,185.9 L1633.8,187.7 L1632.9,189.5 L1632.1,191.4 L1631.2,193.2 L1630.4,195 L1629.6,196.8 L1628.8,198.7 L1628,200.5 L1627.2,202.4 L1626.4,204.2 L1625.6,206 L1624.8,207.9 L1624,209.7 L1623.3,211.6 L1622.5,213.5 L1621.8,215.3 L1621,217.2 L1620.3,219 L1619.5,220.9 L1618.8,222.8 L1618,224.6 L1617.3,226.5 L1616.6,228.4 L1615.8,230.3 L1615.1,232.1 L1614.4,234 L1613.7,235.9 L1612.9,237.7 L1612.2,239.6 L1611.5,241.5 L1610.8,243.4 L1610,245.2 L1609.3,247.1 L1608.6,249 L1607.9,250.9 L1607.2,252.8 L1606.5,254.6 L1605.8,256.5 L1605.1,258.4 L1604.4,260.3 L1603.7,262.2 L1603,264 L1602.3,265.9 L1601.6,267.8 L1600.9,269.7 L1600.2,271.6 L1599.5,273.5 L1598.8,275.3 L1598.1,277.2 L1597.5,279.1 L1596.8,281 L1596.1,282.9 L1595.4,284.8 L1594.7,286.7 L1594,288.6 L1593.4,290.5 L1592.7,292.3 L1592,294.2 L1591.3,296.1 L1590.6,298 L1590,299.9 L1589.3,301.8 L1588.6,303.7 L1587.9,305.6 L1587.3,307.5 L1586.6,309.4 L1585.9,311.3 L1585.2,313.1 L1584.6,315 L1583.9,316.9 L1583.2,318.8 L1582.6,320.7 L1581.9,322.6 L1581.2,324.5 L1580.6,326.4 L1579.9,328.3 L1579.2,330.2 L1578.6,332.1 L1577.9,334 L1577.2,335.9 L1576.5,337.7 L1575.8,339.6 L1575.1,341.5 L1574.4,343.4 L1573.7,345.3 L1573,347.1 L1572.2,349 L1571.5,350.9 L1570.7,352.7 L1569.9,354.6 L1569.2,356.4 L1568.4,358.3 L1567.5,360.1 L1566.7,361.9 L1565.9,363.7 L1565,365.6 L1564.2,367.4 L1563.3,369.2 L1562.4,371 L1561.6,372.8 L1560.7,374.6 L1559.8,376.4 L1558.9,378.2 L1558.1,380 L1557.2,381.9 L1556.4,383.7 L1555.5,385.5 L1554.7,387.3 L1553.9,389.2 L1553.1,391 L1552.3,392.9 L1551.5,394.7 L1550.8,396.6 L1550,398.4 L1549.2,400.3 L1548.5,402.1 L1547.8,404 L1547,405.9 L1546.3,407.7 L1545.6,409.6 L1544.8,411.5 L1544.1,413.4 L1543.4,415.2 L1542.7,417.1 L1542,419 L1541.3,420.9 L1540.6,422.8 L1539.9,424.7 L1539.2,426.5 L1538.6,428.4 L1537.9,430.3 L1537.2,432.2 L1536.6,434.1 L1535.9,436 L1535.2,437.9 L1534.6,439.8 L1534,441.7 L1533.3,443.6 L1532.7,445.5 L1532.1,447.4 L1531.5,449.4 L1530.9,451.3 L1530.3,453.2 L1529.7,455.1 L1529.1,457 L1528.6,459 L1528,460.9 L1527.5,462.8 L1526.9,464.8 L1526.4,466.7 L1525.9,468.6 L1525.3,470.6 L1524.8,472.5 L1524.3,474.4 L1523.8,476.4 L1523.3,478.3 L1522.8,480.3 L1522.3,482.2 L1521.7,484.2 L1521.2,486.1 L1520.7,488 L1520.2,490 L1519.7,491.9 L1519.2,493.9 L1518.6,495.8 L1518.1,497.7 L1517.6,499.7 L1517,501.6 L1516.5,503.5 L1516,505.5 L1515.5,507.4 L1514.9,509.4 L1514.4,511.3 L1513.9,513.2 L1513.4,515.2 L1512.9,517.1 L1512.4,519.1 L1512,521 L1511.5,523 L1511,524.9 L1510.6,526.9 L1510.1,528.9 L1509.7,530.8 L1509.3,532.8 L1508.8,534.7 L1508.4,536.7 L1508.1,538.7 L1507.7,540.6 L1507.3,542.6 L1507,544.6 L1506.6,546.6 L1506.3,548.6 L1506,550.5 L1505.7,552.5 L1505.5,554.5 L1505.2,556.5 L1505,558.5 L1504.8,560.5 L1504.5,562.5 L1504.3,564.5 L1504.1,566.5 L1503.9,568.5 L1503.8,570.5 L1503.6,572.5 L1503.4,574.5 L1503.2,576.5 L1503.1,578.5 L1502.9,580.5 L1502.8,582.5 L1502.6,584.5 L1502.4,586.5 L1502.3,588.5 L1502.1,590.5 L1501.9,592.5 L1501.8,594.5 L1501.6,596.5 L1501.5,598.5 L1501.3,600.5" stroke="#ffa500" stroke-width="2.1" fill="none" stroke-linejoin="round"/>
<path d="M1689.7,306.3 L1688.5,307.9 L1687.3,309.5 L1686.1,311.1 L1684.9,312.7 L1683.7,314.4 L1682.5,316 L1681.3,317.6 L1680,319.2 L1678.8,320.8 L1677.6,322.4 L1676.4,324 L1675.2,325.6 L1674,327.2 L1672.8,328.9 L1671.6,330.5 L1670.4,332.1 L1669.2,333.7 L1668,335.3 L1666.8,336.9 L1665.6,338.5 L1664.4,340.2 L1663.2,341.8 L1662,343.4 L1660.8,345 L1659.6,346.7 L1658.4,348.3 L1657.3,349.9 L1656.1,351.6 L1654.9,353.2 L1653.8,354.8 L1652.6,356.5 L1651.5,358.1 L1650.3,359.8 L1649.2,361.4 L1648,363.1 L1646.9,364.8 L1645.7,366.4 L1644.6,368.1 L1643.5,369.8 L1642.4,371.4 L1641.2,373.1 L1640.1,374.8 L1639,376.4 L1637.9,378.1 L1636.7,379.8 L1635.6,381.4 L1634.5,383.1 L1633.3,384.7 L1632.2,386.4 L1631,388.1 L1629.9,389.7 L1628.7,391.3 L1627.5,393 L1626.4,394.6 L1625.2,396.2 L1624,397.9 L1622.8,399.5 L1621.6,401.1 L1620.4,402.7 L1619.2,404.3 L1617.9,405.9 L1616.7,407.5 L1615.5,409.1 L1614.3,410.7 L1613.1,412.3 L1611.8,413.9 L1610.6,415.5 L1609.4,417.1 L1608.2,418.8 L1607.1,420.4 L1605.9,422 L1604.7,423.7 L1603.6,425.3 L1602.5,427 L1601.4,428.7 L1600.3,430.4 L1599.2,432.1 L1598.2,433.8 L1597.1,435.5 L1596.1,437.2 L1595.1,439 L1594.1,440.7 L1593.1,442.5 L1592.1,444.2 L1591.1,446 L1590.1,447.7 L1589,449.4 L1588,451.2 L1587,452.9 L1585.9,454.6 L1584.9,456.3 L1583.8,458 L1582.8,459.8 L1581.7,461.5 L1580.6,463.2 L1579.6,464.9 L1578.5,466.6 L1577.4,468.3 L1576.4,470 L1575.3,471.7 L1574.2,473.4 L1573.2,475.1 L1572.1,476.8 L1571,478.5 L1570,480.3 L1569,482 L1567.9,483.7 L1566.9,485.5 L1565.9,487.2 L1564.9,488.9 L1563.9,490.7 L1562.9,492.4 L1562,494.2 L1561,496 L1560,497.7 L1559.1,499.5 L1558.1,501.3 L1557.2,503.1 L1556.2,504.8 L1555.3,506.6 L1554.4,508.4 L1553.4,510.2 L1552.5,512 L1551.6,513.8 L1550.6,515.5 L1549.7,517.3 L1548.8,519.1 L1547.9,520.9 L1546.9,522.7 L1546,524.5 L1545.1,526.3 L1544.2,528.1 L1543.3,529.9 L1542.4,531.7 L1541.5,533.5 L1540.6,535.3 L1539.8,537.1 L1538.9,538.9 L1538.1,540.8 L1537.2,542.6 L1536.4,544.4 L1535.6,546.3 L1534.8,548.1 L1534.1,550 L1533.3,551.8 L1532.5,553.7 L1531.8,555.6 L1531,557.4 L1530.3,559.3 L1529.5,561.2 L1528.8,563.1 L1528.1,564.9 L1527.3,566.8 L1526.6,568.7 L1525.9,570.6 L1525.1,572.4 L1524.4,574.3 L1523.7,576.2 L1522.9,578 L1522.2,579.9 L1521.4,581.8 L1520.7,583.7 L1519.9,585.5 L1519.2,587.4 L1518.5,589.3 L1517.7,591.1 L1517,593 L1516.2,594.9 L1515.5,596.8 L1514.7,598.6 L1514,600.5" stroke="#ff4000" stroke-width="2.1" fill="none" stroke-linejoin="round"/>
<path d="M1689.7,437.1 L1688.2,438.4 L1686.7,439.8 L1685.1,441.1 L1683.6,442.5 L1682.1,443.8 L1680.6,445.2 L1679.1,446.5 L1677.5,447.8 L1676,449.2 L1674.5,450.5 L1673,451.9 L1671.4,453.2 L1669.9,454.6 L1668.4,455.9 L1666.9,457.2 L1665.3,458.6 L1663.8,459.9 L1662.3,461.3 L1660.8,462.6 L1659.2,463.9 L1657.7,465.3 L1656.2,466.6 L1654.7,467.9 L1653.1,469.3 L1651.6,470.6 L1650.1,471.9 L1648.6,473.3 L1647,474.6 L1645.5,476 L1644,477.3 L1642.5,478.6 L1640.9,480 L1639.4,481.3 L1637.9,482.7 L1636.4,484 L1634.9,485.4 L1633.4,486.7 L1631.8,488.1 L1630.3,489.4 L1628.8,490.8 L1627.3,492.2 L1625.8,493.5 L1624.3,494.9 L1622.8,496.3 L1621.3,497.6 L1619.8,499 L1618.3,500.4 L1616.8,501.8 L1615.4,503.1 L1613.9,504.5 L1612.4,505.9 L1610.9,507.3 L1609.4,508.7 L1608,510.1 L1606.5,511.5 L1605,512.9 L1603.6,514.3 L1602.1,515.7 L1600.7,517.1 L1599.2,518.5 L1597.8,520 L1596.3,521.4 L1594.9,522.9 L1593.5,524.3 L1592.1,525.8 L1590.7,527.2 L1589.3,528.7 L1587.9,530.2 L1586.5,531.6 L1585.1,533.1 L1583.7,534.6 L1582.3,536.1 L1581,537.6 L1579.6,539.1 L1578.2,540.6 L1576.9,542.1 L1575.5,543.6 L1574.1,545.1 L1572.7,546.5 L1571.3,548 L1569.9,549.5 L1568.5,551 L1567.1,552.4 L1565.7,553.9 L1564.3,555.3 L1562.8,556.7 L1561.4,558.1 L1559.9,559.6 L1558.5,561 L1557,562.4 L1555.6,563.8 L1554.2,565.3 L1552.8,566.7 L1551.4,568.2 L1550,569.7 L1548.7,571.2 L1547.4,572.8 L1546.2,574.4 L1545,576 L1543.8,577.6 L1542.7,579.3 L1541.6,581 L1540.5,582.7 L1539.5,584.4 L1538.5,586.2 L1537.5,588 L1536.5,589.7 L1535.5,591.5 L1534.6,593.3 L1533.6,595.1 L1532.7,596.9 L1531.7,598.7 L1530.8,600.5" stroke="#df0000" stroke-width="2.5" fill="none" stroke-linejoin="round"/>
<path d="M1689.7,526.7 L1687.8,527.5 L1685.9,528.3 L1684.1,529.1 L1682.2,529.9 L1680.3,530.7 L1678.4,531.4 L1676.5,532.2 L1674.7,533 L1672.8,533.8 L1670.9,534.6 L1669,535.4 L1667.2,536.2 L1665.3,537.1 L1663.4,537.9 L1661.6,538.7 L1659.7,539.6 L1657.9,540.4 L1656,541.3 L1654.2,542.2 L1652.4,543.1 L1650.5,544 L1648.7,545 L1646.9,545.9 L1645.1,546.9 L1643.3,547.9 L1641.5,548.8 L1639.7,549.8 L1637.9,550.8 L1636.2,551.7 L1634.4,552.7 L1632.6,553.7 L1630.8,554.6 L1628.9,555.6 L1627.1,556.5 L1625.3,557.4 L1623.5,558.4 L1621.7,559.3 L1619.8,560.2 L1618,561.1 L1616.2,562 L1614.4,562.9 L1612.5,563.8 L1610.7,564.7 L1608.9,565.6 L1607.1,566.5 L1605.2,567.4 L1603.4,568.3 L1601.6,569.3 L1599.8,570.2 L1597.9,571.1 L1596.1,572.1 L1594.3,573 L1592.5,574 L1590.7,574.9 L1588.9,575.9 L1587.2,576.9 L1585.4,577.9 L1583.6,578.9 L1581.9,580 L1580.1,581 L1578.4,582.1 L1576.7,583.2 L1575,584.3 L1573.3,585.5 L1571.6,586.6 L1570,587.8 L1568.3,589 L1566.7,590.3 L1565.1,591.5 L1563.5,592.8 L1561.9,594 L1560.3,595.3 L1558.7,596.6 L1557.1,597.9 L1555.6,599.2 L1554,600.5" stroke="#800000" stroke-width="2.5" fill="none" stroke-linejoin="round"/>
<rect x="1268.3" y="38.7" width="214.1" height="40.4" fill="#fff" stroke="#1a1a1a" stroke-width="2"/>
<rect x="1696.5" y="593.54" width="21.1" height="9.46" fill="#00008f"/>
<rect x="1696.5" y="584.48" width="21.1" height="9.46" fill="#00009f"/>
<rect x="1696.5" y="575.43" width="21.1" height="9.46" fill="#0000af"/>
<rect x="1696.5" y="566.37" width="21.1" height="9.46" fill="#0000bf"/>
<rect x="1696.5" y="557.31" width="21.1" height="9.46" fill="#0000cf"/>
<rect x="1696.5" y="548.25" width="21.1" height="9.46" fill="#0000df"/>
<rect x="1696.5" y="539.20" width="21.1" height="9.46" fill="#0000ef"/>
<rect x="1696.5" y="530.14" width="21.1" height="9.46" fill="#0000ff"/>
<rect x="1696.5" y="521.08" width="21.1" height="9.46" fill="#0010ff"/>
<rect x="1696.5" y="512.02" width="21.1" height="9.46" fill="#0020ff"/>
<rect x="1696.5" y="502.96" width="21.1" height="9.46" fill="#0030ff"/>
<rect x="1696.5" y="493.91" width="21.1" height="9.46" fill="#0040ff"/>
<rect x="1696.5" y="484.85" width="21.1" height="9.46" fill="#0050ff"/>
<rect x="1696.5" y="475.79" width="21.1" height="9.46" fill="#0060ff"/>
<rect x="1696.5" y="466.73" width="21.1" height="9.46" fill="#0070ff"/>
<rect x="1696.5" y="457.68" width="21.1" height="9.46" fill="#0080ff"/>
<rect x="1696.5" y="448.62" width="21.1" height="9.46" fill="#008fff"/>
<rect x="1696.5" y="439.56" width="21.1" height="9.46" fill="#009fff"/>
<rect x="1696.5" y="430.50" width="21.1" height="9.46" fill="#00afff"/>
<rect x="1696.5" y="421.44" width="21.1" height="9.46" fill="#00bfff"/>
<rect x="1696.5" y="412.39" width="21.1" height="9.46" fill="#00cfff"/>
<rect x="1696.5" y="403.33" width="21.1" height="9.46" fill="#00dfff"/>
<rect x="1696.5" y="394.27" width="21.1" height="9.46" fill="#00efff"/>
<rect x="1696.5" y="385.21" width="21.1" height="9.46" fill="#00ffff"/>
<rect x="1696.5" y="376.15" width="21.1" height="9.46" fill="#10ffef"/>
<rect x="1696.5" y="367.10" width="21.1" height="9.46" fill="#20ffdf"/>
<rect x="1696.5" y="358.04" width="21.1" height="9.46" fill="#30ffcf"/>
<rect x="1696.5" y="348.98" width="21.1" height="9.46" fill="#40ffbf"/>
<rect x="1696.5" y="339.92" width="21.1" height="9.46" fill="#50ffaf"/>
<rect x="1696.5" y="330.87" width="21.1" height="9.46" fill="#60ff9f"/>
<rect x="1696.5" y="321.81" width="21.1" height="9.46" fill="#70ff8f"/>
<rect x="1696.5" y="312.75" width="21.1" height="9.46" fill="#80ff80"/>
<rect x="1696.5" y="303.69" width="21.1" height="9.46" fill="#8fff70"/>
<rect x="1696.5" y="294.63" width="21.1" height="9.46" fill="#9fff60"/>
<rect x="1696.5" y="285.58" width="21.1" height="9.46" fill="#afff50"/>
<rect x="1696.5" y="276.52" width="21.1" height="9.46" fill="#bfff40"/>
<rect x="1696.5" y="267.46" width="21.1" height="9.46" fill="#cfff30"/>
<rect x="1696.5" y="258.40" width="21.1" height="9.46" fill="#dfff20"/>
<rect x="1696.5" y="249.35" width="21.1" height="9.46" fill="#efff10"/>
<rect x="1696.5" y="240.29" width="21.1" height="9.46" fill="#ffff00"/>
<rect x="1696.5" y="231.23" width="21.1" height="9.46" fill="#ffef00"/>
<rect x="1696.5" y="222.17" width="21.1" height="9.46" fill="#ffdf00"/>
<rect x="1696.5" y="213.11" width="21.1" height="9.46" fill="#ffcf00"/>
<rect x="1696.5" y="204.06" width="21.1" height="9.46" fill="#ffbf00"/>
<rect x="1696.5" y="195.00" width="21.1" height="9.46" fill="#ffaf00"/>
<rect x="1696.5" y="185.94" width="21.1" height="9.46" fill="#ff9f00"/>
<rect x="1696.5" y="176.88" width="21.1" height="9.46" fill="#ff8f00"/>
<rect x="1696.5" y="167.82" width="21.1" height="9.46" fill="#ff8000"/>
<rect x="1696.5" y="158.77" width="21.1" height="9.46" fill="#ff7000"/>
<rect x="1696.5" y="149.71" width="21.1" height="9.46" fill="#ff6000"/>
<rect x="1696.5" y="140.65" width="21.1" height="9.46" fill="#ff5000"/>
<rect x="1696.5" y="131.59" width="21.1" height="9.46" fill="#ff4000"/>
<rect x="1696.5" y="122.54" width="21.1" height="9.46" fill="#ff3000"/>
<rect x="1696.5" y="113.48" width="21.1" height="9.46" fill="#ff2000"/>
<rect x="1696.5" y="104.42" width="21.1" height="9.46" fill="#ff1000"/>
<rect x="1696.5" y="95.36" width="21.1" height="9.46" fill="#ff0000"/>
<rect x="1696.5" y="86.30" width="21.1" height="9.46" fill="#ef0000"/>
<rect x="1696.5" y="77.25" width="21.1" height="9.46" fill="#df0000"/>
<rect x="1696.5" y="68.19" width="21.1" height="9.46" fill="#cf0000"/>
<rect x="1696.5" y="59.13" width="21.1" height="9.46" fill="#bf0000"/>
<rect x="1696.5" y="50.07" width="21.1" height="9.46" fill="#af0000"/>
<rect x="1696.5" y="41.02" width="21.1" height="9.46" fill="#9f0000"/>
<rect x="1696.5" y="31.96" width="21.1" height="9.46" fill="#8f0000"/>
<rect x="1696.5" y="22.90" width="21.1" height="9.46" fill="#800000"/>
<path d="M1696.5,69.6H1703M1717.6,69.6H1711.1M1696.5,322.1H1703M1717.6,322.1H1711.1M1696.5,575H1703M1717.6,575H1711.1" stroke="#111" stroke-width="1.6" fill="none"/>
<rect x="1696.5" y="22.9" width="21.1" height="579.7" fill="none" stroke="#111" stroke-width="1.8"/>
<path d="M108.6,1191.4H115.6M863.8,1191.4H856.8M108.6,1063.1H115.6M863.8,1063.1H856.8M108.6,934.7H115.6M863.8,934.7H856.8M108.6,806.4H115.6M863.8,806.4H856.8M216.8,1319.8V1311.8M216.8,742.6V750.6M432.5,1319.8V1311.8M432.5,742.6V750.6M648.1,1319.8V1311.8M648.1,742.6V750.6" stroke="#858585" stroke-width="1.3" fill="none"/>
<clipPath id="clipc"><rect x="108.6" y="742.6" width="755.2" height="577.2"/></clipPath>
<g clip-path="url(#clipc)" fill="none" stroke-linejoin="round">
<path d="M110,1317.4 L111,1317.4 L112,1317.3 L112.9,1317.3 L113.9,1317.2 L114.9,1317.2 L115.9,1317.1 L116.9,1317.1 L117.8,1317 L118.8,1317 L119.8,1316.9 L120.8,1316.8 L121.8,1316.8 L122.7,1316.7 L123.7,1316.6 L124.7,1316.6 L125.7,1316.5 L126.7,1316.4 L127.6,1316.4 L128.6,1316.3 L129.6,1316.2 L130.6,1316.1 L131.5,1316.1 L132.5,1316 L133.5,1315.9 L134.5,1315.8 L135.5,1315.7 L136.4,1315.7 L137.4,1315.6 L138.4,1315.5 L139.4,1315.4 L140.4,1315.3 L141.3,1315.2 L142.3,1315.1 L143.3,1315 L144.3,1314.9 L145.3,1314.8 L146.2,1314.7 L147.2,1314.6 L148.2,1314.5 L149.2,1314.4 L150.2,1314.2 L151.1,1314.1 L152.1,1314 L153.1,1313.9 L154.1,1313.8 L155.1,1313.6 L156,1313.5 L157,1313.4 L158,1313.2 L159,1313.1 L160,1313 L160.9,1312.8 L161.9,1312.7 L162.9,1312.5 L163.9,1312.4 L164.8,1312.2 L165.8,1312 L166.8,1311.9 L167.8,1311.7 L168.8,1311.5 L169.7,1311.4 L170.7,1311.2 L171.7,1311 L172.7,1310.8 L173.7,1310.6 L174.6,1310.5 L175.6,1310.3 L176.6,1310.1 L177.6,1309.8 L178.6,1309.6 L179.5,1309.4 L180.5,1309.2 L181.5,1309 L182.5,1308.8 L183.5,1308.5 L184.4,1308.3 L185.4,1308 L186.4,1307.8 L187.4,1307.5 L188.4,1307.3 L189.3,1307 L190.3,1306.8 L191.3,1306.5 L192.3,1306.2 L193.3,1305.9 L194.2,1305.6 L195.2,1305.3 L196.2,1305 L197.2,1304.7 L198.2,1304.4 L199.1,1304.1 L200.1,1303.7 L201.1,1303.4 L202.1,1303.1 L203,1302.7 L204,1302.4 L205,1302 L206,1301.6 L207,1301.2 L207.9,1300.8 L208.9,1300.4 L209.9,1300 L210.9,1299.6 L211.9,1299.2 L212.8,1298.8 L213.8,1298.3 L214.8,1297.9 L215.8,1297.4 L216.8,1297 L217.7,1296.5 L218.7,1296 L219.7,1295.5 L220.7,1295 L221.7,1294.5 L222.6,1293.9 L223.6,1293.4 L224.6,1292.9 L225.6,1292.3 L226.6,1291.7 L227.5,1291.1 L228.5,1290.5 L229.5,1289.9 L230.5,1289.3 L231.5,1288.7 L232.4,1288 L233.4,1287.4 L234.4,1286.7 L235.4,1286 L236.3,1285.3 L237.3,1284.6 L238.3,1283.8 L239.3,1283.1 L240.3,1282.3 L241.2,1281.6 L242.2,1280.8 L243.2,1280 L244.2,1279.1 L245.2,1278.3 L246.1,1277.4 L247.1,1276.6 L248.1,1275.7 L249.1,1274.7 L250.1,1273.8 L251,1272.9 L252,1271.9 L253,1270.9 L254,1269.9 L255,1268.9 L255.9,1267.8 L256.9,1266.7 L257.9,1265.7 L258.9,1264.5 L259.9,1263.4 L260.8,1262.2 L261.8,1261.1 L262.8,1259.9 L263.8,1258.6 L264.8,1257.4 L265.7,1256.1 L266.7,1254.8 L267.7,1253.5 L268.7,1252.1 L269.7,1250.7 L270.6,1249.3 L271.6,1247.9 L272.6,1246.4 L273.6,1244.9 L274.5,1243.4 L275.5,1241.8 L276.5,1240.3 L277.5,1238.7 L278.5,1237 L279.4,1235.3 L280.4,1233.6 L281.4,1231.9 L282.4,1230.1 L283.4,1228.3 L284.3,1226.5 L285.3,1224.6 L286.3,1222.7 L287.3,1220.7 L288.3,1218.7 L289.2,1216.7 L290.2,1214.6 L291.2,1212.5 L292.2,1210.4 L293.2,1208.2 L294.1,1206 L295.1,1203.7 L296.1,1201.4 L297.1,1199.1 L298.1,1196.7 L299,1194.3 L300,1191.8 L301,1189.3 L302,1186.7 L303,1184.1 L303.9,1181.4 L304.9,1178.7 L305.9,1176 L306.9,1173.2 L307.8,1170.3 L308.8,1167.4 L309.8,1164.5 L310.8,1161.5 L311.8,1158.4 L312.7,1155.3 L313.7,1152.1 L314.7,1148.9 L315.7,1145.7 L316.7,1142.3 L317.6,1139 L318.6,1135.5 L319.6,1132 L320.6,1128.5 L321.6,1124.9 L322.5,1121.2 L323.5,1117.5 L324.5,1113.8 L325.5,1109.9 L326.5,1106 L327.4,1102.1 L328.4,1098.1 L329.4,1094 L330.4,1089.9 L331.4,1085.7 L332.3,1081.5 L333.3,1077.2 L334.3,1072.8 L335.3,1068.4 L336.3,1063.9 L337.2,1059.3 L338.2,1054.7 L339.2,1050.1 L340.2,1045.4 L341.1,1040.6 L342.1,1035.8 L343.1,1030.9 L344.1,1025.9 L345.1,1020.9 L346,1015.9 L347,1010.8 L348,1005.7 L349,1000.5 L350,995.2 L350.9,989.6 L351.9,984 L352.9,978.2 L353.9,972.4 L354.9,966.4 L355.8,960.4 L356.8,954.1 L357.8,947.6 L358.8,940.9 L359.8,934.1 L360.7,927.5 L361.7,921.1 L362.7,915 L363.7,909.4 L364.7,904.2 L365.6,899.2 L366.6,894.5 L367.6,889.8 L368.6,885.1 L369.6,880.3 L370.5,875.4 L371.5,870.4 L372.5,865.3 L373.5,860.3 L374.5,855.4 L375.4,850.7 L376.4,846.3 L377.4,842 L378.4,837.9 L379.3,833.9 L380.3,830 L381.3,826 L382.3,821.8 L383.3,817.6 L384.2,813.4 L385.2,809.5 L386.2,805.9 L387.2,802.8 L388.2,800 L389.1,797.3 L390.1,794.9 L391.1,792.7 L392.1,790.6 L393.1,788.7 L394,786.8 L395,785 L396,783.3 L397,781.8 L398,780.5 L398.9,779.6 L399.9,778.9 L400.9,778.3 L401.9,777.7 L402.9,777.2 L403.8,776.8 L404.8,776.4 L405.8,776.1 L406.8,776 L407.8,775.9 L408.7,775.9 L409.7,775.8 L410.7,775.8 L411.7,775.8 L412.6,775.8 L413.6,775.8 L414.6,775.7 L415.6,775.7 L416.6,775.7 L417.5,775.7 L418.5,775.7 L419.5,775.7 L420.5,775.7 L421.5,775.7 L422.4,775.7 L423.4,775.7 L424.4,775.7 L425.4,775.7 L426.4,775.7 L427.3,775.7 L428.3,775.7 L429.3,775.7 L430.3,775.7 L431.3,775.7 L432.2,775.7 L433.2,775.7 L434.2,775.7 L435.2,775.7 L436.2,775.7 L437.1,775.7 L438.1,775.7 L439.1,775.7 L440.1,775.7 L441.1,775.7 L442,775.7 L443,775.7 L444,775.7 L445,775.7 L446,775.7 L446.9,775.7 L447.9,775.7 L448.9,775.7 L449.9,775.7 L450.8,775.7 L451.8,775.7 L452.8,775.7 L453.8,775.7 L454.8,775.7 L455.7,775.7 L456.7,775.7 L457.7,775.7 L458.7,775.7 L459.7,775.7 L460.6,775.7 L461.6,775.7 L462.6,775.7 L463.6,775.7 L464.6,775.7 L465.5,775.7 L466.5,775.7 L467.5,775.7 L468.5,775.7 L469.5,775.7 L470.4,775.7 L471.4,775.7 L472.4,775.7 L473.4,775.7 L474.4,775.7 L475.3,775.7 L476.3,775.7 L477.3,775.7 L478.3,775.7 L479.3,775.7 L480.2,775.7 L481.2,775.7 L482.2,775.7 L483.2,775.7 L484.1,775.7 L485.1,775.7 L486.1,775.7 L487.1,775.7 L488.1,775.7 L489,775.7 L490,775.7 L491,775.7 L492,775.7 L493,775.7 L493.9,775.7 L494.9,775.7 L495.9,775.7 L496.9,775.7 L497.9,775.7 L498.8,775.7 L499.8,775.7 L500.8,775.7" stroke="#008000" stroke-width="3.4" stroke-dasharray="11 2.8 1.8 2.8"/>
<path d="M191,1314.6 L192,1314.5 L192.9,1314.4 L193.9,1314.2 L194.9,1314.1 L195.9,1314 L196.8,1313.9 L197.8,1313.8 L198.8,1313.6 L199.8,1313.5 L200.7,1313.4 L201.7,1313.2 L202.7,1313.1 L203.6,1313 L204.6,1312.8 L205.6,1312.7 L206.6,1312.5 L207.5,1312.4 L208.5,1312.2 L209.5,1312.1 L210.4,1311.9 L211.4,1311.7 L212.4,1311.6 L213.4,1311.4 L214.3,1311.2 L215.3,1311 L216.3,1310.9 L217.3,1310.7 L218.2,1310.5 L219.2,1310.3 L220.2,1310.1 L221.1,1309.9 L222.1,1309.7 L223.1,1309.5 L224.1,1309.2 L225,1309 L226,1308.8 L227,1308.6 L228,1308.3 L228.9,1308.1 L229.9,1307.9 L230.9,1307.6 L231.8,1307.4 L232.8,1307.1 L233.8,1306.8 L234.8,1306.6 L235.7,1306.3 L236.7,1306 L237.7,1305.7 L238.6,1305.4 L239.6,1305.1 L240.6,1304.8 L241.6,1304.5 L242.5,1304.2 L243.5,1303.9 L244.5,1303.5 L245.5,1303.2 L246.4,1302.8 L247.4,1302.5 L248.4,1302.1 L249.3,1301.8 L250.3,1301.4 L251.3,1301 L252.3,1300.6 L253.2,1300.2 L254.2,1299.8 L255.2,1299.4 L256.2,1299 L257.1,1298.5 L258.1,1298.1 L259.1,1297.6 L260,1297.2 L261,1296.7 L262,1296.2 L263,1295.8 L263.9,1295.3 L264.9,1294.7 L265.9,1294.2 L266.8,1293.7 L267.8,1293.2 L268.8,1292.6 L269.8,1292 L270.7,1291.5 L271.7,1290.9 L272.7,1290.3 L273.7,1289.7 L274.6,1289.1 L275.6,1288.4 L276.6,1287.8 L277.5,1287.1 L278.5,1286.4 L279.5,1285.7 L280.5,1285 L281.4,1284.3 L282.4,1283.6 L283.4,1282.9 L284.4,1282.1 L285.3,1281.3 L286.3,1280.5 L287.3,1279.7 L288.2,1278.9 L289.2,1278.1 L290.2,1277.2 L291.2,1276.3 L292.1,1275.4 L293.1,1274.5 L294.1,1273.6 L295.1,1272.6 L296,1271.7 L297,1270.7 L298,1269.7 L298.9,1268.7 L299.9,1267.6 L300.9,1266.6 L301.9,1265.5 L302.8,1264.4 L303.8,1263.2 L304.8,1262.1 L305.7,1260.9 L306.7,1259.7 L307.7,1258.5 L308.7,1257.3 L309.6,1256 L310.6,1254.7 L311.6,1253.4 L312.6,1252 L313.5,1250.7 L314.5,1249.3 L315.5,1247.8 L316.4,1246.4 L317.4,1244.9 L318.4,1243.4 L319.4,1241.9 L320.3,1240.3 L321.3,1238.7 L322.3,1237.1 L323.3,1235.4 L324.2,1233.7 L325.2,1232 L326.2,1230.2 L327.1,1228.5 L328.1,1226.6 L329.1,1224.8 L330.1,1222.9 L331,1221 L332,1219 L333,1217 L333.9,1215 L334.9,1212.9 L335.9,1210.8 L336.9,1208.6 L337.8,1206.5 L338.8,1204.2 L339.8,1202 L340.8,1199.7 L341.7,1197.3 L342.7,1194.9 L343.7,1192.5 L344.6,1190 L345.6,1187.5 L346.6,1184.9 L347.6,1182.3 L348.5,1179.6 L349.5,1176.9 L350.5,1174.2 L351.5,1171.4 L352.4,1168.6 L353.4,1165.7 L354.4,1162.7 L355.3,1159.7 L356.3,1156.7 L357.3,1153.6 L358.3,1150.5 L359.2,1147.3 L360.2,1144 L361.2,1140.7 L362.1,1137.4 L363.1,1134 L364.1,1130.5 L365.1,1127 L366,1123.5 L367,1119.9 L368,1116.2 L369,1112.5 L369.9,1108.7 L370.9,1104.8 L371.9,1101 L372.8,1097 L373.8,1093 L374.8,1089 L375.8,1084.8 L376.7,1080.7 L377.7,1076.5 L378.7,1072.2 L379.7,1067.9 L380.6,1063.5 L381.6,1059 L382.6,1054.5 L383.5,1050 L384.5,1045.4 L385.5,1040.7 L386.5,1036 L387.4,1031.3 L388.4,1026.5 L389.4,1021.7 L390.3,1016.8 L391.3,1011.8 L392.3,1006.9 L393.3,1001.8 L394.2,996.7 L395.2,991.6 L396.2,986.6 L397.2,981.7 L398.1,976.9 L399.1,972.2 L400.1,967.4 L401,962.4 L402,957.2 L403,951.8 L404,946.1 L404.9,940.5 L405.9,934.8 L406.9,929.4 L407.9,924.1 L408.8,919.1 L409.8,914.2 L410.8,909.4 L411.7,904.6 L412.7,899.7 L413.7,894.8 L414.7,889.7 L415.6,884.6 L416.6,879.6 L417.6,874.8 L418.5,870.5 L419.5,866.5 L420.5,862.7 L421.5,859.1 L422.4,855.7 L423.4,852.4 L424.4,849.1 L425.4,845.9 L426.3,842.7 L427.3,839.5 L428.3,836.2 L429.2,833.1 L430.2,830.2 L431.2,827.7 L432.2,825.5 L433.1,823.6 L434.1,822 L435.1,820.5 L436.1,819.1 L437,817.9 L438,816.7 L439,815.7 L439.9,814.6 L440.9,813.6 L441.9,812.6 L442.9,811.6 L443.8,810.7 L444.8,809.9 L445.8,809.2 L446.7,808.7 L447.7,808.4 L448.7,808.1 L449.7,807.9 L450.6,807.8 L451.6,807.6 L452.6,807.5 L453.6,807.4 L454.5,807.3 L455.5,807.3 L456.5,807.3 L457.4,807.2 L458.4,807.2 L459.4,807.2 L460.4,807.2 L461.3,807.2 L462.3,807.2 L463.3,807.1 L464.3,807.1 L465.2,807.1 L466.2,807.1 L467.2,807.1 L468.1,807.1 L469.1,807.1 L470.1,807.1 L471.1,807.1 L472,807.1 L473,807.1 L474,807.1 L474.9,807.1 L475.9,807.1 L476.9,807.1 L477.9,807.1 L478.8,807.1 L479.8,807.1 L480.8,807.1 L481.8,807.1 L482.7,807.1 L483.7,807.1 L484.7,807.1 L485.6,807.1 L486.6,807.1 L487.6,807.1 L488.6,807.1 L489.5,807.1 L490.5,807.1 L491.5,807.1 L492.5,807.1 L493.4,807.1 L494.4,807.1 L495.4,807.1 L496.3,807.1 L497.3,807.1 L498.3,807.1 L499.3,807.1 L500.2,807.1 L501.2,807.1 L502.2,807.1 L503.2,807.1 L504.1,807.1 L505.1,807.1 L506.1,807.1 L507,807.1 L508,807.1 L509,807.1 L510,807.1 L510.9,807.1 L511.9,807.1 L512.9,807.1 L513.8,807.1 L514.8,807.1 L515.8,807.1 L516.8,807.1 L517.7,807.1 L518.7,807.1 L519.7,807.1 L520.7,807.1 L521.6,807.1 L522.6,807.1 L523.6,807.1 L524.5,807.1 L525.5,807.1 L526.5,807.1 L527.5,807.1 L528.4,807.1 L529.4,807.1 L530.4,807.1 L531.4,807.1 L532.3,807.1 L533.3,807.1 L534.3,807.1 L535.2,807.1 L536.2,807.1 L537.2,807.1 L538.2,807.1 L539.1,807.1 L540.1,807.1 L541.1,807.1 L542,807.1 L543,807.1 L544,807.1 L545,807.1 L545.9,807.1 L546.9,807.1 L547.9,807.1 L548.9,807.1 L549.8,807.1 L550.8,807.1 L551.8,807.1 L552.7,807.1 L553.7,807.1 L554.7,807.1 L555.7,807.1 L556.6,807.1 L557.6,807.1 L558.6,807.1 L559.6,807.1 L560.5,807.1 L561.5,807.1 L562.5,807.1 L563.4,807.1 L564.4,807.1 L565.4,807.1 L566.4,807.1 L567.3,807.1 L568.3,807.1 L569.3,807.1 L570.2,807.1 L571.2,807.1 L572.2,807.1 L573.2,807.1 L574.1,807.1 L575.1,807.1 L576.1,807.1 L577.1,807.1 L578,807.1 L579,807.1" stroke="#00bfbf" stroke-width="3.4" stroke-dasharray="11 2.8 1.8 2.8"/>
<path d="M295,1313.3 L296,1313.2 L296.9,1313 L297.9,1312.9 L298.9,1312.7 L299.9,1312.6 L300.8,1312.4 L301.8,1312.3 L302.8,1312.1 L303.8,1312 L304.7,1311.8 L305.7,1311.6 L306.7,1311.5 L307.6,1311.3 L308.6,1311.1 L309.6,1310.9 L310.6,1310.7 L311.5,1310.5 L312.5,1310.4 L313.5,1310.2 L314.5,1310 L315.4,1309.7 L316.4,1309.5 L317.4,1309.3 L318.4,1309.1 L319.3,1308.9 L320.3,1308.7 L321.3,1308.4 L322.2,1308.2 L323.2,1307.9 L324.2,1307.7 L325.2,1307.4 L326.1,1307.2 L327.1,1306.9 L328.1,1306.7 L329.1,1306.4 L330,1306.1 L331,1305.8 L332,1305.5 L332.9,1305.2 L333.9,1304.9 L334.9,1304.6 L335.9,1304.3 L336.8,1304 L337.8,1303.6 L338.8,1303.3 L339.8,1303 L340.7,1302.6 L341.7,1302.3 L342.7,1301.9 L343.6,1301.5 L344.6,1301.1 L345.6,1300.8 L346.6,1300.4 L347.5,1300 L348.5,1299.6 L349.5,1299.1 L350.5,1298.7 L351.4,1298.3 L352.4,1297.8 L353.4,1297.4 L354.3,1296.9 L355.3,1296.4 L356.3,1295.9 L357.3,1295.4 L358.2,1294.9 L359.2,1294.4 L360.2,1293.9 L361.2,1293.4 L362.1,1292.8 L363.1,1292.3 L364.1,1291.7 L365.1,1291.1 L366,1290.5 L367,1289.9 L368,1289.3 L368.9,1288.7 L369.9,1288 L370.9,1287.4 L371.9,1286.7 L372.8,1286 L373.8,1285.3 L374.8,1284.6 L375.8,1283.9 L376.7,1283.2 L377.7,1282.4 L378.7,1281.6 L379.6,1280.9 L380.6,1280.1 L381.6,1279.2 L382.6,1278.4 L383.5,1277.6 L384.5,1276.7 L385.5,1275.8 L386.5,1274.9 L387.4,1274 L388.4,1273.1 L389.4,1272.1 L390.3,1271.1 L391.3,1270.2 L392.3,1269.1 L393.3,1268.1 L394.2,1267.1 L395.2,1266 L396.2,1264.9 L397.2,1263.8 L398.1,1262.6 L399.1,1261.5 L400.1,1260.3 L401,1259.1 L402,1257.9 L403,1256.6 L404,1255.4 L404.9,1254.1 L405.9,1252.7 L406.9,1251.4 L407.9,1250 L408.8,1248.6 L409.8,1247.2 L410.8,1245.7 L411.8,1244.2 L412.7,1242.7 L413.7,1241.2 L414.7,1239.6 L415.6,1238 L416.6,1236.4 L417.6,1234.7 L418.6,1233 L419.5,1231.3 L420.5,1229.6 L421.5,1227.8 L422.5,1225.9 L423.4,1224.1 L424.4,1222.2 L425.4,1220.3 L426.3,1218.3 L427.3,1216.3 L428.3,1214.3 L429.3,1212.3 L430.2,1210.2 L431.2,1208 L432.2,1205.8 L433.2,1203.6 L434.1,1201.4 L435.1,1199.1 L436.1,1196.7 L437,1194.4 L438,1192 L439,1189.5 L440,1187 L440.9,1184.5 L441.9,1181.9 L442.9,1179.3 L443.9,1176.6 L444.8,1173.9 L445.8,1171.1 L446.8,1168.3 L447.8,1165.5 L448.7,1162.6 L449.7,1159.6 L450.7,1156.7 L451.6,1153.6 L452.6,1150.5 L453.6,1147.4 L454.6,1144.2 L455.5,1140.9 L456.5,1137.5 L457.5,1134.3 L458.5,1131.3 L459.4,1128.9 L460.4,1126.5 L461.4,1124.1 L462.3,1121.4 L463.3,1117.9 L464.3,1113.5 L465.3,1108.4 L466.2,1103.2 L467.2,1098.5 L468.2,1094.5 L469.2,1090.7 L470.1,1087.1 L471.1,1083.6 L472.1,1080.1 L473,1076.6 L474,1073 L475,1069.4 L476,1065.9 L476.9,1062.3 L477.9,1058.6 L478.9,1054.7 L479.9,1050.5 L480.8,1046 L481.8,1041.2 L482.8,1036.2 L483.7,1031.2 L484.7,1026.1 L485.7,1021.2 L486.7,1016.3 L487.6,1011.3 L488.6,1006.4 L489.6,1001.5 L490.6,996.7 L491.5,992.1 L492.5,987.7 L493.5,983.5 L494.5,979.5 L495.4,975.4 L496.4,971.4 L497.4,967.3 L498.3,963 L499.3,958.6 L500.3,954 L501.3,949.5 L502.2,944.9 L503.2,940.3 L504.2,935.9 L505.2,931.5 L506.1,927.2 L507.1,922.7 L508.1,918.4 L509,914.3 L510,910.6 L511,907.4 L512,904.4 L512.9,901.5 L513.9,898.8 L514.9,896.3 L515.9,893.9 L516.8,891.8 L517.8,889.9 L518.8,888.1 L519.7,886.5 L520.7,885 L521.7,883.6 L522.7,882.2 L523.6,881 L524.6,879.9 L525.6,878.9 L526.6,877.9 L527.5,877 L528.5,876 L529.5,875.1 L530.4,874.3 L531.4,873.5 L532.4,872.9 L533.4,872.4 L534.3,872.1 L535.3,871.9 L536.3,871.8 L537.3,871.7 L538.2,871.6 L539.2,871.5 L540.2,871.5 L541.2,871.4 L542.1,871.4 L543.1,871.3 L544.1,871.3 L545,871.3 L546,871.3 L547,871.3 L548,871.3 L548.9,871.3 L549.9,871.3 L550.9,871.3 L551.9,871.3 L552.8,871.3 L553.8,871.3 L554.8,871.3 L555.7,871.3 L556.7,871.3 L557.7,871.3 L558.7,871.3 L559.6,871.3 L560.6,871.3 L561.6,871.3 L562.6,871.3 L563.5,871.3 L564.5,871.3 L565.5,871.3 L566.4,871.3 L567.4,871.3 L568.4,871.3 L569.4,871.3 L570.3,871.3 L571.3,871.3 L572.3,871.3 L573.3,871.3 L574.2,871.3 L575.2,871.3 L576.2,871.3 L577.2,871.3 L578.1,871.3 L579.1,871.3 L580.1,871.3 L581,871.3 L582,871.3 L583,871.3 L584,871.3 L584.9,871.3 L585.9,871.3 L586.9,871.3 L587.9,871.3 L588.8,871.3 L589.8,871.3 L590.8,871.3 L591.7,871.3 L592.7,871.3 L593.7,871.3 L594.7,871.3 L595.6,871.3 L596.6,871.3 L597.6,871.3 L598.6,871.3 L599.5,871.3 L600.5,871.3 L601.5,871.3 L602.4,871.3 L603.4,871.3 L604.4,871.3 L605.4,871.3 L606.3,871.3 L607.3,871.3 L608.3,871.3 L609.3,871.3 L610.2,871.3 L611.2,871.3 L612.2,871.3 L613.1,871.3 L614.1,871.3 L615.1,871.3 L616.1,871.3 L617,871.3 L618,871.3 L619,871.3 L620,871.3 L620.9,871.3 L621.9,871.3 L622.9,871.3 L623.9,871.3 L624.8,871.3 L625.8,871.3 L626.8,871.3 L627.7,871.3 L628.7,871.3 L629.7,871.3 L630.7,871.3 L631.6,871.3 L632.6,871.3 L633.6,871.3 L634.6,871.3 L635.5,871.3 L636.5,871.3 L637.5,871.3 L638.4,871.3 L639.4,871.3 L640.4,871.3 L641.4,871.3 L642.3,871.3 L643.3,871.3 L644.3,871.3 L645.3,871.3 L646.2,871.3 L647.2,871.3 L648.2,871.3 L649.1,871.3 L650.1,871.3 L651.1,871.3 L652.1,871.3 L653,871.3 L654,871.3 L655,871.3 L656,871.3 L656.9,871.3 L657.9,871.3 L658.9,871.3 L659.8,871.3 L660.8,871.3 L661.8,871.3 L662.8,871.3 L663.7,871.3 L664.7,871.3 L665.7,871.3 L666.7,871.3 L667.6,871.3 L668.6,871.3 L669.6,871.3 L670.6,871.3 L671.5,871.3 L672.5,871.3 L673.5,871.3 L674.4,871.3 L675.4,871.3 L676.4,871.3 L677.4,871.3 L678.3,871.3 L679.3,871.3 L680.3,871.3 L681.3,871.3 L682.2,871.3 L683.2,871.3" stroke="#bfbf00" stroke-width="3.4" stroke-dasharray="11 2.8 1.8 2.8"/>
<path d="M151.6,1312.4 L154.7,1312.3 L155.6,1312.3 L156.6,1312.3 L157.7,1312.2 L158.9,1312.2 L160.2,1312.1 L161.5,1312.1 L162.8,1312 L164.2,1312 L165.6,1311.9 L167,1311.8 L168.3,1311.8 L169.7,1311.7 L171.1,1311.6 L172.5,1311.5 L173.9,1311.4 L175.3,1311.3 L176.7,1311.2 L178.1,1311 L179.5,1310.9 L180.9,1310.8 L182.3,1310.6 L183.6,1310.5 L185,1310.3 L186.4,1310.2 L187.8,1310 L189.2,1309.8 L190.6,1309.7 L192,1309.5 L193.3,1309.3 L194.7,1309.1 L196.1,1308.9 L197.5,1308.7 L198.9,1308.5 L200.2,1308.3 L201.6,1308.1 L203,1307.8 L204.4,1307.6 L205.8,1307.4 L207.1,1307.2 L208.5,1306.9 L209.9,1306.7 L211.3,1306.4 L212.6,1306.2 L214,1306 L215.4,1305.7 L216.8,1305.5 L218.1,1305.2 L219.5,1305 L220.9,1304.7 L222.3,1304.4 L223.6,1304.2 L225,1303.9 L226.4,1303.6 L227.7,1303.3 L229.1,1303.1 L230.5,1302.8 L231.8,1302.5 L233.2,1302.2 L234.5,1301.8 L235.9,1301.5 L237.3,1301.2 L238.6,1300.8 L240,1300.5 L241.3,1300.1 L242.7,1299.8 L244,1299.4 L245.4,1299 L246.7,1298.6 L248,1298.2 L249.4,1297.8 L250.7,1297.4 L252,1297 L253.3,1296.5 L254.7,1296.1 L256,1295.6 L257.3,1295.1 L258.6,1294.7 L259.9,1294.2 L261.2,1293.6 L262.5,1293.1 L263.8,1292.6 L265,1292 L266.3,1291.4 L267.6,1290.8 L268.8,1290.2 L270,1289.5 L271.3,1288.9 L272.5,1288.2 L273.7,1287.5 L274.9,1286.9 L276.2,1286.2 L277.4,1285.5 L278.6,1284.7 L279.8,1284 L280.9,1283.3 L282.1,1282.6 L283.3,1281.8 L284.5,1281.1 L285.7,1280.3 L286.8,1279.6 L288,1278.8 L289.2,1278 L290.3,1277.3 L291.5,1276.5 L292.6,1275.7 L293.8,1274.9 L294.9,1274.1 L296.1,1273.3 L297.2,1272.5 L298.3,1271.6 L299.4,1270.8 L300.6,1270 L301.7,1269.1 L302.8,1268.2 L303.9,1267.4 L305,1266.5 L306,1265.6 L307.1,1264.8 L308.2,1263.9 L309.3,1263 L310.3,1262.1 L311.4,1261.2 L312.5,1260.3 L313.5,1259.3 L314.6,1258.4 L315.6,1257.5 L316.6,1256.6 L317.7,1255.6 L318.7,1254.7 L319.7,1253.7 L320.7,1252.7 L321.7,1251.8 L322.7,1250.8 L323.7,1249.8 L324.7,1248.8 L325.7,1247.8 L326.7,1246.8 L327.6,1245.8 L328.6,1244.8 L329.6,1243.8 L330.5,1242.8 L331.5,1241.8 L332.4,1240.8 L333.3,1239.7 L334.3,1238.7 L335.2,1237.6 L336.1,1236.6 L337,1235.5 L337.9,1234.4 L338.7,1233.3 L339.6,1232.2 L340.5,1231.1 L341.3,1230 L342.1,1228.9 L342.9,1227.8 L343.7,1226.6 L344.5,1225.5 L345.3,1224.3 L346,1223.1 L346.8,1221.9 L347.5,1220.8 L348.3,1219.6 L349,1218.4 L349.7,1217.2 L350.3,1215.9 L351,1214.7 L351.7,1213.5 L352.3,1212.3 L352.9,1211 L353.6,1209.8 L354.2,1208.5 L354.8,1207.2 L355.3,1206 L355.9,1204.7 L356.4,1203.4 L357,1202.1 L357.5,1200.8 L358,1199.5 L358.4,1198.2 L358.9,1196.9 L359.4,1195.6 L359.8,1194.2 L360.2,1192.9 L360.7,1191.6 L361.1,1190.3 L361.5,1188.9 L361.9,1187.6 L362.3,1186.2 L362.7,1184.9 L363.1,1183.6 L363.5,1182.2 L363.9,1180.9 L364.3,1179.6 L364.7,1178.2 L365.1,1176.9 L365.5,1175.5 L365.9,1174.2 L366.3,1172.9 L366.8,1171.6 L367.2,1170.2 L367.7,1168.9 L368.1,1167.6 L368.6,1166.3 L369,1165 L369.5,1163.7 L370,1162.3 L370.5,1161 L371,1159.7 L371.4,1158.4 L371.9,1157.1 L372.4,1155.8 L372.9,1154.5 L373.3,1153.1 L373.8,1151.8 L374.2,1150.5 L374.7,1149.2 L375.2,1147.9 L375.6,1146.6 L376.1,1145.2 L376.5,1143.9 L376.9,1142.6 L377.4,1141.3 L377.8,1139.9 L378.2,1138.6 L378.7,1137.3 L379.1,1135.9 L379.5,1134.6 L379.9,1133.3 L380.3,1131.9 L380.7,1130.6 L381.1,1129.3 L381.5,1127.9 L381.9,1126.6 L382.4,1125.3 L382.8,1123.9 L383.2,1122.6 L383.6,1121.3 L384.1,1119.9 L384.5,1118.6 L384.9,1117.3 L385.4,1116 L385.9,1114.7 L386.3,1113.3 L386.8,1112 L387.2,1110.7 L387.7,1109.4 L388.1,1108.1 L388.6,1106.7 L389,1105.4 L389.4,1104.1 L389.9,1102.7 L390.3,1101.4 L390.7,1100.1 L391.1,1098.7 L391.5,1097.4 L391.9,1096.1 L392.3,1094.7 L392.7,1093.4 L393.1,1092.1 L393.5,1090.7 L393.9,1089.4 L394.2,1088 L394.6,1086.7 L395,1085.3 L395.4,1084 L395.7,1082.6 L396.1,1081.3 L396.5,1080 L396.8,1078.6 L397.2,1077.3 L397.6,1075.9 L397.9,1074.6 L398.3,1073.2 L398.7,1071.9 L399,1070.5 L399.4,1069.2 L399.7,1067.8 L400.1,1066.5 L400.5,1065.1 L400.8,1063.8 L401.2,1062.4 L401.6,1061.1 L401.9,1059.7 L402.3,1058.4 L402.6,1057 L403,1055.7 L403.4,1054.3 L403.7,1053 L404.1,1051.6 L404.4,1050.3 L404.8,1048.9 L405.1,1047.6 L405.5,1046.2 L405.9,1044.9 L406.2,1043.5 L406.6,1042.2 L406.9,1040.8 L407.3,1039.5 L407.6,1038.1 L408,1036.8 L408.4,1035.4 L408.7,1034.1 L409.1,1032.7 L409.4,1031.4 L409.8,1030 L410.1,1028.7 L410.5,1027.3 L410.9,1026 L411.2,1024.6 L411.6,1023.3 L411.9,1021.9 L412.3,1020.6 L412.6,1019.2 L413,1017.9 L413.3,1016.5 L413.7,1015.2 L414,1013.8 L414.4,1012.5 L414.7,1011.1 L415,1009.8 L415.4,1008.4 L415.7,1007 L416,1005.7 L416.4,1004.3 L416.7,1003 L417,1001.6 L417.4,1000.3 L417.7,998.9 L418,997.5 L418.3,996.2 L418.6,994.8 L418.9,993.5 L419.2,992.1 L419.6,990.7 L419.9,989.4 L420.2,988 L420.5,986.6 L420.8,985.3 L421.1,983.9 L421.4,982.6 L421.7,981.2 L422,979.8 L422.3,978.5 L422.6,977.1 L422.9,975.7 L423.2,974.4 L423.5,973 L423.8,971.7 L424.1,970.3 L424.4,968.9 L424.7,967.6 L425,966.2 L425.3,964.8 L425.5,963.5 L425.8,962.1 L426.1,960.7 L426.4,959.4 L426.7,958 L427,956.6 L427.3,955.3 L427.6,953.9 L427.9,952.5 L428.1,951.2 L428.4,949.8 L428.7,948.4 L429,947.1 L429.3,945.7 L429.6,944.3 L429.9,943 L430.2,941.6 L430.5,940.2 L430.7,938.9 L431,937.5 L431.3,936.1 L431.6,934.8 L431.9,933.4 L432.2,932 L432.5,930.7 L432.8,929.3 L433.1,927.9 L433.4,926.6 L433.7,925.2 L434,923.9 L434.3,922.5 L434.6,921.1 L434.8,919.8 L435.1,918.4 L435.4,917 L435.7,915.7 L436,914.3 L436.3,912.9 L436.6,911.6 L436.8,910.2 L437.1,908.8 L437.4,907.5 L437.7,906.1 L438,904.7 L438.3,903.4 L438.5,902 L438.8,900.6 L439.1,899.2 L439.4,897.9 L439.6,896.5 L439.9,895.1 L440.2,893.8 L440.5,892.4 L440.7,891 L441,889.7 L441.3,888.3 L441.6,886.9 L441.8,885.6 L442.1,884.2 L442.4,882.8 L442.6,881.4 L442.9,880.1 L443.2,878.7 L443.5,877.3 L443.7,876 L444,874.6 L444.3,873.2 L444.6,871.9 L444.9,870.5 L445.1,869.1 L445.4,867.8 L445.7,866.4 L446,865 L446.3,863.7 L446.6,862.3 L446.9,860.9 L447.2,859.6 L447.5,858.2 L447.8,856.8 L448.1,855.5 L448.4,854.1 L448.7,852.8 L449,851.4 L449.3,850 L449.6,848.7 L450,847.3 L450.3,846 L450.7,844.6 L451,843.3 L451.4,841.9 L451.7,840.6 L452.1,839.2 L452.5,837.9 L452.9,836.5 L453.2,835.2 L453.6,833.8 L454,832.5 L454.4,831.2 L454.8,829.8 L455.2,828.5 L455.6,827.2 L456.1,825.8 L456.5,824.5 L456.9,823.2 L457.3,821.8 L457.8,820.5 L458.2,819.2 L458.6,817.9 L459.1,816.5 L459.5,815.2 L460,813.9 L460.4,812.6 L460.9,811.3 L461.4,810 L461.9,808.7 L462.5,807.4 L463,806.1 L463.6,804.9 L464.2,803.6 L464.9,802.4 L465.6,801.2 L466.3,800 L467,798.8 L467.8,797.7 L468.6,796.6 L469.4,795.5 L470.3,794.4 L471.2,793.4 L472.2,792.4 L473.2,791.5 L474.2,790.6 L475.3,789.7 L476.4,788.9 L477.6,788.1 L478.7,787.4 L479.9,786.8 L481.2,786.1 L482.4,785.5 L483.7,785 L485,784.5 L486.3,784 L487.6,783.5 L488.9,783 L490.2,782.6 L491.6,782.2 L492.9,781.8 L494.2,781.4 L495.6,781 L496.9,780.7 L498.3,780.3 L499.6,780 L501,779.7 L502.4,779.4 L503.7,779.1 L505.1,778.9 L506.5,778.6 L507.8,778.4 L509.2,778.2 L510.6,778.1 L512,777.9 L513.4,777.8 L514.8,777.6 L516.2,777.5 L517.6,777.4 L518.9,777.3 L520.3,777.2 L521.7,777.1 L523.1,777 L524.5,776.9 L525.9,776.8 L527.3,776.8 L528.7,776.7 L530.1,776.6 L531.5,776.5 L532.9,776.5 L534.3,776.4 L535.7,776.3 L537.1,776.3 L538.5,776.2 L539.9,776.2 L541.3,776.1 L542.7,776.1 L544,776 L545.4,776 L546.8,775.9 L548.2,775.9 L549.6,775.8 L551,775.8 L552.4,775.7 L553.8,775.7 L555.2,775.6 L556.6,775.6 L558,775.6 L559.4,775.5 L560.8,775.5 L562.2,775.5 L563.6,775.4 L565,775.4 L566.4,775.4 L567.8,775.3 L569.2,775.3 L570.6,775.3 L572,775.2 L573.4,775.2 L574.8,775.2 L576.1,775.1 L577.5,775.1 L578.9,775.1 L580.3,775 L581.7,775 L583.1,775 L584.5,775 L585.9,774.9 L587.3,774.9 L588.7,774.9 L590.1,774.9 L591.5,774.8 L592.9,774.8 L594.3,774.8 L595.7,774.8 L597.1,774.7 L598.5,774.7 L599.9,774.7 L601.3,774.7 L602.7,774.6 L604.1,774.6 L605.5,774.6 L606.9,774.6 L608.3,774.6 L609.7,774.5 L611.1,774.5 L612.4,774.5 L613.8,774.5 L615.2,774.5 L616.6,774.5 L618,774.5 L619.4,774.5 L620.7,774.4 L622,774.4 L623.3,774.4 L624.5,774.4 L625.6,774.4 L626.6,774.4 L627.5,774.4 L630.6,774.4" stroke="#008000" stroke-width="3.6"/>
<path d="M240,1312.6 L243.1,1312.5 L244,1312.4 L244.9,1312.4 L246,1312.3 L247.1,1312.3 L248.3,1312.2 L249.5,1312.2 L250.8,1312.1 L252.1,1312 L253.4,1312 L254.7,1311.9 L256,1311.8 L257.4,1311.7 L258.7,1311.7 L260.1,1311.6 L261.4,1311.5 L262.7,1311.4 L264.1,1311.3 L265.4,1311.3 L266.7,1311.2 L268.1,1311.1 L269.4,1311 L270.7,1310.9 L272.1,1310.8 L273.4,1310.7 L274.7,1310.6 L276.1,1310.5 L277.4,1310.4 L278.7,1310.3 L280.1,1310.2 L281.4,1310.1 L282.7,1309.9 L284.1,1309.8 L285.4,1309.7 L286.7,1309.5 L288.1,1309.3 L289.4,1309.2 L290.7,1309 L292,1308.8 L293.4,1308.6 L294.7,1308.4 L296,1308.2 L297.3,1307.9 L298.6,1307.7 L299.9,1307.4 L301.3,1307.2 L302.6,1306.9 L303.9,1306.6 L305.2,1306.3 L306.5,1306 L307.8,1305.7 L309.1,1305.4 L310.4,1305.1 L311.7,1304.8 L313,1304.5 L314.3,1304.2 L315.6,1303.9 L316.9,1303.6 L318.2,1303.2 L319.5,1302.9 L320.8,1302.6 L322.1,1302.2 L323.4,1301.9 L324.7,1301.5 L326,1301.2 L327.2,1300.8 L328.5,1300.4 L329.8,1300 L331.1,1299.7 L332.4,1299.3 L333.6,1298.9 L334.9,1298.4 L336.2,1298 L337.5,1297.6 L338.7,1297.1 L340,1296.7 L341.2,1296.2 L342.5,1295.8 L343.7,1295.3 L345,1294.8 L346.2,1294.3 L347.5,1293.8 L348.7,1293.3 L349.9,1292.7 L351.1,1292.2 L352.3,1291.6 L353.6,1291 L354.8,1290.5 L356,1289.9 L357.2,1289.3 L358.3,1288.7 L359.5,1288 L360.7,1287.4 L361.9,1286.8 L363.1,1286.1 L364.2,1285.5 L365.4,1284.8 L366.5,1284.1 L367.7,1283.4 L368.8,1282.8 L370,1282.1 L371.1,1281.3 L372.2,1280.6 L373.3,1279.9 L374.4,1279.1 L375.5,1278.4 L376.6,1277.6 L377.7,1276.8 L378.8,1276 L379.9,1275.2 L381,1274.4 L382,1273.6 L383.1,1272.8 L384.1,1272 L385.2,1271.1 L386.2,1270.3 L387.2,1269.4 L388.2,1268.6 L389.3,1267.7 L390.3,1266.8 L391.3,1265.9 L392.3,1265.1 L393.3,1264.2 L394.3,1263.3 L395.3,1262.4 L396.3,1261.5 L397.3,1260.6 L398.3,1259.7 L399.2,1258.8 L400.2,1257.9 L401.2,1256.9 L402.1,1256 L403.1,1255.1 L404.1,1254.1 L405,1253.2 L406,1252.3 L406.9,1251.3 L407.8,1250.3 L408.8,1249.4 L409.7,1248.4 L410.6,1247.4 L411.5,1246.4 L412.4,1245.4 L413.2,1244.4 L414.1,1243.4 L415,1242.4 L415.8,1241.3 L416.7,1240.3 L417.5,1239.3 L418.3,1238.2 L419.1,1237.1 L419.9,1236 L420.7,1235 L421.4,1233.9 L422.2,1232.8 L422.9,1231.6 L423.6,1230.5 L424.3,1229.4 L425,1228.2 L425.7,1227.1 L426.4,1225.9 L427.1,1224.8 L427.7,1223.6 L428.4,1222.4 L429,1221.3 L429.7,1220.1 L430.3,1218.9 L430.9,1217.7 L431.6,1216.6 L432.2,1215.4 L432.8,1214.2 L433.4,1213 L434,1211.8 L434.7,1210.6 L435.3,1209.4 L435.9,1208.2 L436.5,1207.1 L437.1,1205.9 L437.7,1204.7 L438.3,1203.5 L438.9,1202.3 L439.6,1201.1 L440.2,1199.9 L440.8,1198.7 L441.4,1197.5 L442,1196.3 L442.6,1195.2 L443.2,1194 L443.8,1192.8 L444.4,1191.6 L445,1190.4 L445.6,1189.2 L446.2,1188 L446.8,1186.8 L447.4,1185.6 L448,1184.4 L448.6,1183.2 L449.1,1182 L449.7,1180.7 L450.3,1179.5 L450.8,1178.3 L451.4,1177.1 L451.9,1175.9 L452.4,1174.6 L453,1173.4 L453.5,1172.2 L454,1170.9 L454.5,1169.7 L455,1168.5 L455.5,1167.2 L456,1166 L456.5,1164.7 L457,1163.5 L457.5,1162.2 L458,1161 L458.4,1159.7 L458.9,1158.5 L459.4,1157.2 L459.8,1156 L460.3,1154.7 L460.7,1153.5 L461.2,1152.2 L461.6,1150.9 L462.1,1149.7 L462.5,1148.4 L463,1147.2 L463.4,1145.9 L463.9,1144.6 L464.3,1143.4 L464.7,1142.1 L465.2,1140.8 L465.6,1139.6 L466,1138.3 L466.4,1137 L466.9,1135.8 L467.3,1134.5 L467.7,1133.2 L468.1,1131.9 L468.5,1130.7 L468.9,1129.4 L469.3,1128.1 L469.7,1126.8 L470.1,1125.6 L470.5,1124.3 L470.9,1123 L471.3,1121.7 L471.7,1120.4 L472.1,1119.2 L472.4,1117.9 L472.8,1116.6 L473.2,1115.3 L473.5,1114 L473.9,1112.7 L474.3,1111.4 L474.6,1110.1 L475,1108.8 L475.3,1107.6 L475.7,1106.3 L476,1105 L476.4,1103.7 L476.7,1102.4 L477.1,1101.1 L477.4,1099.8 L477.8,1098.5 L478.2,1097.2 L478.5,1095.9 L478.9,1094.7 L479.3,1093.4 L479.7,1092.1 L480,1090.8 L480.4,1089.5 L480.8,1088.2 L481.2,1087 L481.5,1085.7 L481.9,1084.4 L482.3,1083.1 L482.7,1081.8 L483.1,1080.5 L483.5,1079.3 L483.9,1078 L484.3,1076.7 L484.6,1075.4 L485,1074.1 L485.4,1072.9 L485.8,1071.6 L486.2,1070.3 L486.6,1069 L487,1067.7 L487.4,1066.5 L487.8,1065.2 L488.2,1063.9 L488.5,1062.6 L488.9,1061.3 L489.3,1060.1 L489.7,1058.8 L490.1,1057.5 L490.5,1056.2 L490.9,1054.9 L491.3,1053.7 L491.7,1052.4 L492.1,1051.1 L492.5,1049.8 L492.9,1048.5 L493.3,1047.3 L493.6,1046 L494,1044.7 L494.4,1043.4 L494.8,1042.1 L495.1,1040.8 L495.5,1039.6 L495.9,1038.3 L496.2,1037 L496.6,1035.7 L496.9,1034.4 L497.3,1033.1 L497.6,1031.8 L498,1030.5 L498.3,1029.2 L498.6,1027.9 L498.9,1026.6 L499.3,1025.3 L499.6,1024 L499.9,1022.7 L500.2,1021.4 L500.6,1020.1 L500.9,1018.8 L501.2,1017.5 L501.5,1016.2 L501.8,1014.9 L502.2,1013.6 L502.5,1012.3 L502.8,1011 L503.1,1009.7 L503.4,1008.4 L503.8,1007.1 L504.1,1005.8 L504.4,1004.5 L504.7,1003.2 L505,1001.9 L505.4,1000.6 L505.7,999.3 L506,998 L506.3,996.7 L506.7,995.4 L507,994.1 L507.3,992.8 L507.6,991.5 L508,990.2 L508.3,988.9 L508.6,987.6 L508.9,986.3 L509.3,985 L509.6,983.8 L509.9,982.5 L510.2,981.2 L510.5,979.9 L510.9,978.6 L511.2,977.3 L511.5,976 L511.8,974.7 L512.1,973.4 L512.5,972.1 L512.8,970.8 L513.1,969.4 L513.4,968.1 L513.7,966.8 L514,965.5 L514.3,964.2 L514.7,962.9 L515,961.6 L515.3,960.3 L515.6,959 L515.9,957.7 L516.2,956.4 L516.5,955.1 L516.8,953.8 L517.1,952.5 L517.4,951.2 L517.8,949.9 L518.1,948.6 L518.4,947.3 L518.7,946 L519,944.7 L519.3,943.4 L519.6,942.1 L519.9,940.8 L520.2,939.5 L520.6,938.2 L520.9,936.9 L521.2,935.6 L521.5,934.3 L521.8,933 L522.1,931.7 L522.4,930.4 L522.7,929.1 L523,927.8 L523.4,926.5 L523.7,925.2 L524,923.9 L524.3,922.6 L524.6,921.3 L524.9,920 L525.2,918.7 L525.5,917.4 L525.8,916.1 L526.2,914.8 L526.5,913.5 L526.8,912.2 L527.1,910.9 L527.4,909.6 L527.7,908.3 L528,907 L528.3,905.7 L528.7,904.4 L529,903.1 L529.3,901.8 L529.6,900.5 L529.9,899.2 L530.2,897.9 L530.5,896.6 L530.8,895.2 L531.1,893.9 L531.5,892.6 L531.8,891.3 L532.1,890 L532.4,888.7 L532.7,887.4 L533,886.1 L533.3,884.8 L533.6,883.5 L534,882.2 L534.3,880.9 L534.6,879.6 L534.9,878.3 L535.2,877 L535.6,875.7 L535.9,874.4 L536.2,873.1 L536.5,871.8 L536.9,870.5 L537.2,869.3 L537.5,868 L537.9,866.7 L538.2,865.4 L538.6,864.1 L538.9,862.8 L539.3,861.5 L539.6,860.2 L540,858.9 L540.4,857.6 L540.8,856.4 L541.2,855.1 L541.6,853.8 L542,852.5 L542.4,851.3 L542.8,850 L543.3,848.7 L543.7,847.5 L544.2,846.2 L544.7,845 L545.1,843.7 L545.7,842.5 L546.2,841.3 L546.7,840 L547.3,838.8 L547.9,837.7 L548.5,836.5 L549.2,835.3 L549.9,834.2 L550.6,833.1 L551.3,831.9 L552.1,830.9 L552.9,829.8 L553.7,828.7 L554.5,827.7 L555.4,826.7 L556.3,825.8 L557.3,824.9 L558.2,824 L559.2,823.1 L560.3,822.3 L561.3,821.5 L562.4,820.7 L563.5,820 L564.6,819.3 L565.8,818.6 L567,818 L568.2,817.4 L569.4,816.9 L570.6,816.3 L571.8,815.9 L573.1,815.4 L574.3,815 L575.6,814.5 L576.9,814.2 L578.2,813.8 L579.4,813.4 L580.7,813.1 L582,812.8 L583.3,812.5 L584.6,812.2 L586,811.9 L587.3,811.7 L588.6,811.4 L589.9,811.2 L591.2,810.9 L592.5,810.7 L593.9,810.5 L595.2,810.3 L596.5,810.1 L597.8,810 L599.2,809.8 L600.5,809.6 L601.8,809.5 L603.1,809.3 L604.5,809.2 L605.8,809 L607.1,808.9 L608.5,808.8 L609.8,808.7 L611.1,808.5 L612.5,808.4 L613.8,808.4 L615.1,808.3 L616.5,808.2 L617.8,808.1 L619.2,808.1 L620.5,808 L621.8,807.9 L623.2,807.9 L624.5,807.8 L625.8,807.8 L627.2,807.7 L628.5,807.7 L629.9,807.7 L631.2,807.6 L632.5,807.6 L633.9,807.6 L635.2,807.5 L636.5,807.5 L637.9,807.5 L639.2,807.4 L640.6,807.4 L641.9,807.4 L643.2,807.3 L644.6,807.3 L645.9,807.3 L647.2,807.2 L648.6,807.2 L649.9,807.2 L651.3,807.1 L652.6,807.1 L653.9,807.1 L655.3,807.1 L656.6,807 L658,807 L659.3,807 L660.6,807 L662,806.9 L663.3,806.9 L664.6,806.9 L666,806.9 L667.3,806.8 L668.7,806.8 L670,806.8 L671.3,806.8 L672.7,806.8 L674,806.7 L675.3,806.7 L676.7,806.7 L678,806.7 L679.4,806.7 L680.7,806.6 L682,806.6 L683.4,806.6 L684.7,806.6 L686.1,806.6 L687.4,806.6 L688.7,806.5 L690.1,806.5 L691.4,806.5 L692.7,806.5 L694.1,806.5 L695.4,806.5 L696.8,806.5 L698.1,806.4 L699.4,806.4 L700.8,806.4 L702.1,806.4 L703.4,806.4 L704.7,806.4 L706,806.4 L707.2,806.4 L708.4,806.4 L709.5,806.3 L710.6,806.3 L711.5,806.3 L712.4,806.3 L715.5,806.3" stroke="#00bfbf" stroke-width="3.6"/>
<path d="M413.8,1313.6 L416.8,1313.6 L417.6,1313.5 L418.4,1313.5 L419.3,1313.5 L420.3,1313.5 L421.4,1313.5 L422.5,1313.4 L423.6,1313.4 L424.7,1313.4 L425.9,1313.3 L427.1,1313.3 L428.3,1313.2 L429.5,1313.2 L430.7,1313.1 L431.9,1313.1 L433.1,1313 L434.3,1312.9 L435.5,1312.9 L436.7,1312.8 L437.9,1312.7 L439.1,1312.7 L440.3,1312.6 L441.5,1312.5 L442.7,1312.4 L443.9,1312.3 L445.1,1312.2 L446.3,1312.1 L447.5,1312 L448.7,1311.9 L449.9,1311.8 L451.1,1311.6 L452.3,1311.5 L453.5,1311.3 L454.7,1311.2 L455.9,1311.1 L457.1,1310.9 L458.3,1310.7 L459.5,1310.6 L460.7,1310.4 L461.9,1310.2 L463.1,1310.1 L464.3,1309.9 L465.5,1309.7 L466.7,1309.5 L467.8,1309.3 L469,1309.1 L470.2,1308.9 L471.4,1308.7 L472.6,1308.5 L473.8,1308.3 L475,1308.1 L476.2,1307.9 L477.3,1307.6 L478.5,1307.4 L479.7,1307.2 L480.9,1306.9 L482.1,1306.7 L483.2,1306.4 L484.4,1306.2 L485.6,1305.9 L486.8,1305.6 L488,1305.4 L489.1,1305.1 L490.3,1304.8 L491.5,1304.6 L492.7,1304.3 L493.8,1304 L495,1303.7 L496.2,1303.5 L497.4,1303.2 L498.5,1302.9 L499.7,1302.6 L500.9,1302.3 L502,1302 L503.2,1301.7 L504.4,1301.4 L505.5,1301.1 L506.7,1300.8 L507.9,1300.4 L509,1300.1 L510.2,1299.8 L511.3,1299.4 L512.5,1299.1 L513.6,1298.7 L514.8,1298.4 L515.9,1298 L517.1,1297.6 L518.2,1297.2 L519.4,1296.8 L520.5,1296.4 L521.6,1296 L522.8,1295.6 L523.9,1295.2 L525,1294.7 L526.1,1294.3 L527.2,1293.8 L528.3,1293.3 L529.4,1292.8 L530.5,1292.4 L531.6,1291.9 L532.7,1291.4 L533.8,1290.8 L534.9,1290.3 L536,1289.8 L537.1,1289.3 L538.2,1288.8 L539.3,1288.2 L540.3,1287.7 L541.4,1287.1 L542.5,1286.6 L543.6,1286 L544.6,1285.5 L545.7,1284.9 L546.8,1284.4 L547.8,1283.8 L548.9,1283.2 L549.9,1282.6 L551,1282 L552,1281.4 L553.1,1280.8 L554.1,1280.2 L555.2,1279.6 L556.2,1279 L557.2,1278.3 L558.2,1277.7 L559.2,1277 L560.2,1276.4 L561.2,1275.7 L562.2,1275 L563.2,1274.3 L564.2,1273.6 L565.2,1272.9 L566.1,1272.2 L567.1,1271.4 L568,1270.7 L568.9,1269.9 L569.9,1269.2 L570.8,1268.4 L571.7,1267.6 L572.6,1266.8 L573.5,1266 L574.4,1265.2 L575.3,1264.3 L576.1,1263.5 L577,1262.7 L577.9,1261.8 L578.7,1261 L579.6,1260.1 L580.4,1259.3 L581.3,1258.4 L582.1,1257.5 L582.9,1256.7 L583.7,1255.8 L584.6,1254.9 L585.4,1254 L586.2,1253.1 L587,1252.2 L587.8,1251.3 L588.6,1250.4 L589.3,1249.5 L590.1,1248.5 L590.9,1247.6 L591.7,1246.7 L592.4,1245.8 L593.2,1244.8 L593.9,1243.9 L594.7,1242.9 L595.4,1242 L596.1,1241 L596.9,1240.1 L597.6,1239.1 L598.3,1238.1 L599.1,1237.2 L599.8,1236.2 L600.5,1235.2 L601.2,1234.3 L601.9,1233.3 L602.6,1232.3 L603.3,1231.3 L604,1230.4 L604.8,1229.4 L605.5,1228.4 L606.2,1227.4 L606.9,1226.4 L607.5,1225.4 L608.2,1224.5 L608.9,1223.5 L609.6,1222.5 L610.3,1221.5 L611,1220.5 L611.7,1219.5 L612.3,1218.5 L613,1217.5 L613.7,1216.5 L614.3,1215.5 L615,1214.4 L615.6,1213.4 L616.2,1212.4 L616.9,1211.4 L617.5,1210.3 L618.1,1209.3 L618.7,1208.3 L619.3,1207.2 L619.9,1206.2 L620.5,1205.1 L621,1204 L621.6,1203 L622.2,1201.9 L622.7,1200.8 L623.2,1199.8 L623.8,1198.7 L624.3,1197.6 L624.8,1196.5 L625.3,1195.4 L625.8,1194.3 L626.3,1193.2 L626.8,1192.1 L627.3,1191 L627.7,1189.9 L628.2,1188.8 L628.7,1187.7 L629.1,1186.5 L629.6,1185.4 L630.1,1184.3 L630.5,1183.2 L631,1182.1 L631.5,1181 L631.9,1179.9 L632.4,1178.8 L632.9,1177.6 L633.3,1176.5 L633.8,1175.4 L634.3,1174.3 L634.7,1173.2 L635.2,1172.1 L635.7,1171 L636.2,1169.9 L636.7,1168.8 L637.1,1167.7 L637.6,1166.6 L638.1,1165.5 L638.6,1164.4 L639.1,1163.3 L639.6,1162.1 L640.1,1161 L640.5,1159.9 L641,1158.8 L641.5,1157.7 L642,1156.6 L642.5,1155.5 L643,1154.4 L643.4,1153.3 L643.9,1152.2 L644.4,1151.1 L644.8,1150 L645.3,1148.9 L645.8,1147.7 L646.2,1146.6 L646.7,1145.5 L647.1,1144.4 L647.6,1143.3 L648,1142.2 L648.5,1141 L648.9,1139.9 L649.3,1138.8 L649.8,1137.7 L650.2,1136.5 L650.6,1135.4 L651,1134.3 L651.5,1133.1 L651.9,1132 L652.3,1130.9 L652.7,1129.7 L653.1,1128.6 L653.5,1127.5 L653.9,1126.3 L654.3,1125.2 L654.7,1124 L655.1,1122.9 L655.5,1121.8 L655.9,1120.6 L656.3,1119.5 L656.7,1118.3 L657,1117.2 L657.4,1116.1 L657.8,1114.9 L658.2,1113.8 L658.6,1112.6 L658.9,1111.5 L659.3,1110.3 L659.7,1109.2 L660.1,1108 L660.4,1106.9 L660.8,1105.7 L661.2,1104.6 L661.6,1103.4 L661.9,1102.3 L662.3,1101.1 L662.7,1100 L663,1098.8 L663.4,1097.7 L663.7,1096.5 L664.1,1095.4 L664.5,1094.2 L664.8,1093.1 L665.2,1091.9 L665.6,1090.8 L665.9,1089.6 L666.3,1088.5 L666.6,1087.3 L667,1086.2 L667.3,1085 L667.7,1083.9 L668,1082.7 L668.4,1081.6 L668.8,1080.4 L669.1,1079.3 L669.4,1078.1 L669.8,1077 L670.1,1075.8 L670.5,1074.6 L670.8,1073.5 L671.2,1072.3 L671.5,1071.2 L671.9,1070 L672.2,1068.9 L672.5,1067.7 L672.9,1066.5 L673.2,1065.4 L673.5,1064.2 L673.9,1063.1 L674.2,1061.9 L674.5,1060.7 L674.9,1059.6 L675.2,1058.4 L675.5,1057.3 L675.8,1056.1 L676.2,1054.9 L676.5,1053.8 L676.8,1052.6 L677.1,1051.5 L677.5,1050.3 L677.8,1049.1 L678.1,1048 L678.4,1046.8 L678.7,1045.6 L679,1044.5 L679.4,1043.3 L679.7,1042.1 L680,1041 L680.3,1039.8 L680.6,1038.7 L680.9,1037.5 L681.2,1036.3 L681.5,1035.2 L681.8,1034 L682.1,1032.8 L682.4,1031.6 L682.7,1030.5 L683,1029.3 L683.3,1028.1 L683.6,1027 L683.9,1025.8 L684.2,1024.6 L684.5,1023.5 L684.8,1022.3 L685.1,1021.1 L685.4,1020 L685.7,1018.8 L686,1017.6 L686.3,1016.4 L686.5,1015.3 L686.8,1014.1 L687.1,1012.9 L687.4,1011.8 L687.7,1010.6 L688,1009.4 L688.3,1008.2 L688.5,1007.1 L688.8,1005.9 L689.1,1004.7 L689.4,1003.6 L689.7,1002.4 L690,1001.2 L690.3,1000 L690.6,998.9 L690.9,997.7 L691.1,996.5 L691.4,995.4 L691.7,994.2 L692,993 L692.3,991.8 L692.6,990.7 L692.9,989.5 L693.2,988.3 L693.5,987.2 L693.8,986 L694.1,984.8 L694.4,983.7 L694.7,982.5 L695,981.3 L695.3,980.2 L695.6,979 L695.9,977.8 L696.2,976.7 L696.5,975.5 L696.8,974.3 L697.1,973.2 L697.4,972 L697.7,970.8 L698,969.7 L698.3,968.5 L698.6,967.3 L699,966.2 L699.3,965 L699.6,963.8 L699.9,962.7 L700.2,961.5 L700.5,960.3 L700.8,959.2 L701.1,958 L701.4,956.8 L701.7,955.7 L702.1,954.5 L702.4,953.3 L702.7,952.2 L703,951 L703.3,949.8 L703.7,948.7 L704,947.5 L704.3,946.4 L704.7,945.2 L705,944 L705.3,942.9 L705.7,941.7 L706,940.6 L706.3,939.4 L706.7,938.3 L707,937.1 L707.3,935.9 L707.7,934.8 L708,933.6 L708.4,932.5 L708.7,931.3 L709,930.1 L709.4,929 L709.7,927.8 L710.1,926.7 L710.4,925.5 L710.7,924.4 L711.1,923.2 L711.4,922.1 L711.8,920.9 L712.1,919.7 L712.5,918.6 L712.9,917.4 L713.2,916.3 L713.6,915.2 L714,914 L714.4,912.9 L714.8,911.7 L715.2,910.6 L715.6,909.5 L716.1,908.4 L716.5,907.2 L717,906.1 L717.5,905 L718,904 L718.5,902.9 L719.1,901.8 L719.7,900.8 L720.2,899.7 L720.9,898.7 L721.5,897.7 L722.1,896.7 L722.8,895.7 L723.5,894.7 L724.2,893.7 L725,892.8 L725.7,891.8 L726.5,890.9 L727.3,890.1 L728.1,889.2 L729,888.3 L729.8,887.5 L730.7,886.7 L731.6,886 L732.6,885.2 L733.5,884.5 L734.5,883.8 L735.5,883.1 L736.5,882.4 L737.5,881.8 L738.5,881.2 L739.6,880.6 L740.6,880 L741.7,879.5 L742.8,879 L743.9,878.5 L745,878.1 L746.1,877.7 L747.2,877.3 L748.4,876.9 L749.5,876.6 L750.7,876.3 L751.8,876.1 L753,875.8 L754.2,875.6 L755.4,875.4 L756.6,875.2 L757.8,875.1 L759,874.9 L760.2,874.8 L761.4,874.6 L762.6,874.5 L763.8,874.4 L765,874.3 L766.2,874.2 L767.4,874.1 L768.6,874 L769.8,873.9 L771,873.8 L772.2,873.7 L773.4,873.7 L774.6,873.6 L775.8,873.5 L777,873.5 L778.2,873.4 L779.4,873.3 L780.6,873.3 L781.8,873.2 L783,873.2 L784.2,873.1 L785.4,873.1 L786.6,873 L787.8,873 L789,872.9 L790.2,872.9 L791.4,872.8 L792.7,872.8 L793.9,872.7 L795.1,872.7 L796.3,872.6 L797.5,872.6 L798.7,872.5 L799.9,872.5 L801.1,872.5 L802.3,872.4 L803.5,872.4 L804.7,872.3 L805.9,872.3 L807.1,872.2 L808.3,872.2 L809.5,872.2 L810.7,872.1 L811.9,872.1 L813.1,872.1 L814.4,872 L815.6,872 L816.8,871.9 L818,871.9 L819.2,871.9 L820.4,871.8 L821.6,871.8 L822.8,871.8 L824,871.7 L825.2,871.7 L826.4,871.7 L827.6,871.7 L828.8,871.6 L830,871.6 L831.2,871.6 L832.4,871.6 L833.6,871.5 L834.9,871.5 L836.1,871.5 L837.3,871.5 L838.5,871.4 L839.7,871.4 L840.9,871.4 L842.1,871.4 L843.3,871.4 L844.5,871.3 L845.7,871.3 L846.9,871.3 L848.1,871.3 L849.3,871.3 L850.5,871.3 L851.7,871.3 L852.9,871.3 L854,871.2 L855.1,871.2 L856.2,871.2 L857.3,871.2 L858.3,871.2 L859.2,871.2 L860,871.2 L860.8,871.2 L863.8,871.2" stroke="#bfbf00" stroke-width="3.6"/>
</g>
<rect x="108.6" y="742.6" width="755.2" height="577.2" fill="none" stroke="#858585" stroke-width="1.4"/>
<path d="M136.5,850.9H148M152,850.9H155M159.5,850.9H171.4" stroke="#008000" stroke-width="4" fill="none"/>
<path d="M136.5,902.3H148M152,902.3H155M159.5,902.3H171.4" stroke="#00bfbf" stroke-width="4" fill="none"/>
<path d="M136.5,948.5H148M152,948.5H155M159.5,948.5H171.4" stroke="#bfbf00" stroke-width="4" fill="none"/>
<path d="M645.7,1188.5H686.1" stroke="#008000" stroke-width="4" fill="none"/>
<path d="M645.7,1238.2H686.1" stroke="#00bfbf" stroke-width="4" fill="none"/>
<path d="M645.7,1287.1H686.1" stroke="#bfbf00" stroke-width="4" fill="none"/>
<rect x="1153.7" y="751.7" width="86" height="563.5" fill="#dce6f2"/>
<rect x="1321" y="751.7" width="381" height="563.5" fill="#dce6f2"/>
<path d="M1046,1207.8H1055M1781.5,1207.8H1772.5M1046,1100.4H1055M1781.5,1100.4H1772.5M1046,993H1055M1781.5,993H1772.5M1046,885.6H1055M1781.5,885.6H1772.5M1046,778.2H1055M1781.5,778.2H1772.5M1046,1315.2V1305.2M1046,751.7V761.7M1119.8,1315.2V1309.2M1119.8,751.7V757.7M1163,1315.2V1309.2M1163,751.7V757.7M1193.6,1315.2V1309.2M1193.6,751.7V757.7M1217.4,1315.2V1309.2M1217.4,751.7V757.7M1236.8,1315.2V1309.2M1236.8,751.7V757.7M1253.2,1315.2V1309.2M1253.2,751.7V757.7M1267.4,1315.2V1309.2M1267.4,751.7V757.7M1280,1315.2V1309.2M1280,751.7V757.7M1291.2,1315.2V1305.2M1291.2,751.7V761.7M1365,1315.2V1309.2M1365,751.7V757.7M1408.1,1315.2V1309.2M1408.1,751.7V757.7M1438.8,1315.2V1309.2M1438.8,751.7V757.7M1462.5,1315.2V1309.2M1462.5,751.7V757.7M1481.9,1315.2V1309.2M1481.9,751.7V757.7M1498.4,1315.2V1309.2M1498.4,751.7V757.7M1512.6,1315.2V1309.2M1512.6,751.7V757.7M1525.1,1315.2V1309.2M1525.1,751.7V757.7M1536.3,1315.2V1305.2M1536.3,751.7V761.7M1610.1,1315.2V1309.2M1610.1,751.7V757.7M1653.3,1315.2V1309.2M1653.3,751.7V757.7M1683.9,1315.2V1309.2M1683.9,751.7V757.7M1707.7,1315.2V1309.2M1707.7,751.7V757.7M1727.1,1315.2V1309.2M1727.1,751.7V757.7M1743.5,1315.2V1309.2M1743.5,751.7V757.7M1757.8,1315.2V1309.2M1757.8,751.7V757.7M1770.3,1315.2V1309.2M1770.3,751.7V757.7" stroke="#262626" stroke-width="1.3" fill="none"/>
<path d="M1153.7,751.7V1315.2M1239.7,751.7V1315.2M1321.0,751.7V1315.2M1702,751.7V1319.4" stroke="#333" stroke-width="1.5" fill="none"/>
<clipPath id="clipd"><rect x="1046.0" y="751.7" width="735.5" height="563.5"/></clipPath>
<g clip-path="url(#clipd)" fill="none" stroke="#0f7f1f" stroke-width="6.5">
<path d="M1153.8,778.4 L1155.4,778.8 L1155.9,779 L1156.5,779.4 L1157.2,779.8 L1157.9,780.3 L1158.5,780.8 L1159.2,781.5 L1159.8,782.1 L1160.5,782.8 L1161.1,783.5 L1161.7,784.2 L1162.3,785 L1162.9,785.7 L1163.5,786.5 L1164,787.2 L1164.6,788 L1165.1,788.8 L1165.6,789.6 L1166.1,790.4 L1166.6,791.2 L1167.1,792 L1167.5,792.8 L1168,793.7 L1168.4,794.5 L1168.8,795.4 L1169.2,796.2 L1169.6,797.1 L1170,797.9 L1170.4,798.8 L1170.8,799.7 L1171.2,800.5 L1171.5,801.4 L1171.9,802.3 L1172.3,803.2 L1172.6,804 L1173,804.9 L1173.3,805.8 L1173.7,806.7 L1174,807.6 L1174.3,808.5 L1174.6,809.3 L1174.9,810.2 L1175.2,811.1 L1175.5,812 L1175.8,812.9 L1176.1,813.8 L1176.4,814.8 L1176.6,815.7 L1176.9,816.6 L1177.1,817.5 L1177.4,818.4 L1177.6,819.3 L1177.9,820.2 L1178.1,821.2 L1178.3,822.1 L1178.5,823 L1178.7,823.9 L1179,824.8 L1179.2,825.8 L1179.4,826.7 L1179.6,827.6 L1179.8,828.5 L1180,829.5 L1180.2,830.4 L1180.4,831.3 L1180.5,832.2 L1180.7,833.2 L1180.9,834.1 L1181.1,835 L1181.3,836 L1181.5,836.9 L1181.7,837.8 L1181.8,838.8 L1182,839.7 L1182.2,840.6 L1182.4,841.5 L1182.5,842.5 L1182.7,843.4 L1182.9,844.3 L1183,845.3 L1183.2,846.2 L1183.4,847.1 L1183.5,848.1 L1183.7,849 L1183.8,849.9 L1184,850.9 L1184.1,851.8 L1184.3,852.7 L1184.5,853.7 L1184.6,854.6 L1184.8,855.5 L1184.9,856.5 L1185,857.4 L1185.2,858.4 L1185.3,859.3 L1185.5,860.2 L1185.6,861.2 L1185.8,862.1 L1185.9,863 L1186.1,864 L1186.2,864.9 L1186.3,865.8 L1186.5,866.8 L1186.6,867.7 L1186.8,868.7 L1186.9,869.6 L1187,870.5 L1187.2,871.5 L1187.3,872.4 L1187.4,873.3 L1187.6,874.3 L1187.7,875.2 L1187.8,876.2 L1188,877.1 L1188.1,878 L1188.2,879 L1188.4,879.9 L1188.5,880.8 L1188.6,881.8 L1188.7,882.7 L1188.9,883.7 L1189,884.6 L1189.1,885.5 L1189.2,886.5 L1189.4,887.4 L1189.5,888.4 L1189.6,889.3 L1189.7,890.2 L1189.8,891.2 L1190,892.1 L1190.1,893.1 L1190.2,894 L1190.3,894.9 L1190.4,895.9 L1190.5,896.8 L1190.6,897.8 L1190.7,898.7 L1190.8,899.6 L1190.9,900.6 L1191,901.5 L1191.1,902.5 L1191.2,903.4 L1191.3,904.4 L1191.4,905.3 L1191.5,906.2 L1191.6,907.2 L1191.7,908.1 L1191.8,909.1 L1191.9,910 L1192,911 L1192.1,911.9 L1192.2,912.8 L1192.3,913.8 L1192.4,914.7 L1192.4,915.7 L1192.5,916.6 L1192.6,917.6 L1192.7,918.5 L1192.8,919.4 L1192.9,920.4 L1193,921.3 L1193.1,922.3 L1193.2,923.2 L1193.3,924.2 L1193.4,925.1 L1193.4,926 L1193.5,927 L1193.6,927.9 L1193.7,928.9 L1193.8,929.8 L1193.9,930.7 L1194,931.7 L1194.1,932.6 L1194.2,933.6 L1194.3,934.5 L1194.4,935.5 L1194.5,936.4 L1194.6,937.3 L1194.7,938.3 L1194.8,939.2 L1194.9,940.2 L1194.9,941.1 L1195,942.1 L1195.1,943 L1195.2,943.9 L1195.3,944.9 L1195.4,945.8 L1195.5,946.8 L1195.6,947.7 L1195.7,948.7 L1195.8,949.6 L1195.9,950.5 L1196,951.5 L1196.1,952.4 L1196.2,953.4 L1196.3,954.3 L1196.4,955.3 L1196.5,956.2 L1196.6,957.1 L1196.6,958.1 L1196.7,959 L1196.8,960 L1196.9,960.9 L1197,961.8 L1197.1,962.8 L1197.2,963.7 L1197.3,964.7 L1197.4,965.6 L1197.5,966.6 L1197.6,967.5 L1197.7,968.4 L1197.8,969.4 L1197.9,970.3 L1198,971.3 L1198.1,972.2 L1198.2,973.2 L1198.3,974.1 L1198.4,975 L1198.5,976 L1198.6,976.9 L1198.7,977.9 L1198.8,978.8 L1198.8,979.8 L1198.9,980.7 L1199,981.6 L1199.1,982.6 L1199.2,983.5 L1199.2,984.5 L1199.3,985.4 L1199.4,986.4 L1199.5,987.3 L1199.5,988.3 L1199.6,989.2 L1199.7,990.1 L1199.7,991.1 L1199.8,992 L1199.8,993 L1199.9,993.9 L1199.9,994.9 L1200,995.8 L1200.1,996.8 L1200.1,997.7 L1200.2,998.6 L1200.2,999.6 L1200.3,1000.5 L1200.3,1001.5 L1200.4,1002.4 L1200.4,1003.4 L1200.5,1004.3 L1200.6,1005.3 L1200.6,1006.2 L1200.7,1007.2 L1200.8,1008.1 L1200.8,1009 L1200.9,1010 L1201,1010.9 L1201.1,1011.9 L1201.1,1012.8 L1201.2,1013.8 L1201.3,1014.7 L1201.4,1015.7 L1201.5,1016.6 L1201.6,1017.5 L1201.7,1018.5 L1201.8,1019.4 L1201.9,1020.4 L1202,1021.3 L1202.1,1022.2 L1202.3,1023.2 L1202.4,1024.1 L1202.5,1025.1 L1202.6,1026 L1202.7,1026.9 L1202.8,1027.9 L1202.9,1028.8 L1203,1029.8 L1203.1,1030.7 L1203.2,1031.6 L1203.3,1032.6 L1203.4,1033.5 L1203.5,1034.5 L1203.6,1035.4 L1203.7,1036.4 L1203.8,1037.3 L1203.9,1038.2 L1203.9,1039.2 L1204,1040.1 L1204.1,1041.1 L1204.2,1042 L1204.2,1043 L1204.3,1043.9 L1204.4,1044.9 L1204.4,1045.8 L1204.5,1046.7 L1204.6,1047.7 L1204.6,1048.6 L1204.7,1049.6 L1204.8,1050.5 L1204.8,1051.5 L1204.9,1052.4 L1205,1053.4 L1205,1054.3 L1205.1,1055.3 L1205.1,1056.2 L1205.2,1057.1 L1205.3,1058.1 L1205.3,1059 L1205.4,1060 L1205.4,1060.9 L1205.5,1061.9 L1205.6,1062.8 L1205.6,1063.8 L1205.7,1064.7 L1205.7,1065.7 L1205.8,1066.6 L1205.8,1067.5 L1205.9,1068.5 L1206,1069.4 L1206,1070.4 L1206.1,1071.3 L1206.1,1072.3 L1206.2,1073.2 L1206.3,1074.2 L1206.3,1075.1 L1206.4,1076.1 L1206.4,1077 L1206.5,1077.9 L1206.6,1078.9 L1206.6,1079.8 L1206.7,1080.8 L1206.8,1081.7 L1206.8,1082.7 L1206.9,1083.6 L1206.9,1084.6 L1207,1085.5 L1207.1,1086.4 L1207.1,1087.4 L1207.2,1088.3 L1207.3,1089.3 L1207.3,1090.2 L1207.4,1091.2 L1207.5,1092.1 L1207.6,1093.1 L1207.6,1094 L1207.7,1094.9 L1207.8,1095.9 L1207.9,1096.8 L1207.9,1097.8 L1208,1098.7 L1208.1,1099.7 L1208.2,1100.6 L1208.3,1101.6 L1208.3,1102.5 L1208.4,1103.4 L1208.5,1104.4 L1208.6,1105.3 L1208.7,1106.3 L1208.8,1107.2 L1208.9,1108.2 L1209,1109.1 L1209,1110 L1209.1,1111 L1209.2,1111.9 L1209.3,1112.9 L1209.4,1113.8 L1209.5,1114.8 L1209.6,1115.7 L1209.7,1116.6 L1209.8,1117.6 L1209.9,1118.5 L1210,1119.5 L1210.1,1120.4 L1210.2,1121.3 L1210.3,1122.3 L1210.4,1123.2 L1210.5,1124.2 L1210.6,1125.1 L1210.7,1126.1 L1210.8,1127 L1210.9,1127.9 L1211,1128.9 L1211.1,1129.8 L1211.2,1130.8 L1211.3,1131.7 L1211.4,1132.7 L1211.5,1133.6 L1211.6,1134.5 L1211.7,1135.5 L1211.8,1136.4 L1211.9,1137.4 L1212,1138.3 L1212.1,1139.2 L1212.2,1140.2 L1212.3,1141.1 L1212.4,1142.1 L1212.5,1143 L1212.6,1144 L1212.6,1144.9 L1212.7,1145.8 L1212.8,1146.8 L1212.9,1147.7 L1213,1148.7 L1213.1,1149.6 L1213.2,1150.6 L1213.3,1151.5 L1213.4,1152.4 L1213.4,1153.4 L1213.5,1154.3 L1213.6,1155.3 L1213.7,1156.2 L1213.8,1157.2 L1213.9,1158.1 L1214,1159 L1214.1,1160 L1214.2,1160.9 L1214.2,1161.9 L1214.3,1162.8 L1214.4,1163.8 L1214.5,1164.7 L1214.6,1165.6 L1214.7,1166.6 L1214.8,1167.5 L1214.9,1168.5 L1215,1169.4 L1215.1,1170.4 L1215.2,1171.3 L1215.2,1172.2 L1215.3,1173.2 L1215.4,1174.1 L1215.5,1175.1 L1215.6,1176 L1215.7,1177 L1215.8,1177.9 L1215.9,1178.8 L1216,1179.8 L1216.1,1180.7 L1216.2,1181.7 L1216.3,1182.6 L1216.4,1183.6 L1216.5,1184.5 L1216.6,1185.4 L1216.7,1186.4 L1216.8,1187.3 L1216.9,1188.3 L1217.1,1189.2 L1217.2,1190.1 L1217.3,1191.1 L1217.4,1192 L1217.5,1193 L1217.6,1193.9 L1217.8,1194.8 L1217.9,1195.8 L1218,1196.7 L1218.1,1197.7 L1218.3,1198.6 L1218.4,1199.5 L1218.5,1200.5 L1218.7,1201.4 L1218.8,1202.3 L1218.9,1203.3 L1219.1,1204.2 L1219.2,1205.2 L1219.4,1206.1 L1219.5,1207 L1219.6,1208 L1219.8,1208.9 L1219.9,1209.8 L1220.1,1210.8 L1220.2,1211.7 L1220.4,1212.6 L1220.6,1213.6 L1220.7,1214.5 L1220.9,1215.4 L1221,1216.4 L1221.2,1217.3 L1221.3,1218.2 L1221.5,1219.2 L1221.7,1220.1 L1221.8,1221 L1222,1222 L1222.2,1222.9 L1222.3,1223.8 L1222.5,1224.8 L1222.7,1225.7 L1222.9,1226.6 L1223,1227.6 L1223.2,1228.5 L1223.4,1229.4 L1223.5,1230.4 L1223.7,1231.3 L1223.9,1232.2 L1224.1,1233.2 L1224.2,1234.1 L1224.4,1235 L1224.6,1235.9 L1224.8,1236.9 L1224.9,1237.8 L1225.1,1238.7 L1225.3,1239.7 L1225.4,1240.6 L1225.6,1241.5 L1225.8,1242.5 L1226,1243.4 L1226.1,1244.3 L1226.3,1245.3 L1226.5,1246.2 L1226.7,1247.1 L1226.8,1248.1 L1227,1249 L1227.2,1249.9 L1227.4,1250.8 L1227.5,1251.8 L1227.7,1252.7 L1227.9,1253.6 L1228.1,1254.6 L1228.3,1255.5 L1228.5,1256.4 L1228.7,1257.3 L1228.9,1258.3 L1229.1,1259.2 L1229.3,1260.1 L1229.5,1261 L1229.7,1262 L1229.9,1262.9 L1230.1,1263.8 L1230.3,1264.7 L1230.5,1265.7 L1230.8,1266.6 L1231,1267.5 L1231.2,1268.4 L1231.5,1269.3 L1231.7,1270.2 L1232,1271.2 L1232.2,1272.1 L1232.5,1273 L1232.8,1273.9 L1233.1,1274.8 L1233.4,1275.7 L1233.7,1276.6 L1234,1277.5 L1234.3,1278.4 L1234.6,1279.3 L1235,1280.1 L1235.3,1281 L1235.6,1281.9 L1236,1282.8 L1236.3,1283.7 L1236.7,1284.5 L1237,1285.4 L1237.4,1286.3 L1237.8,1287.2 L1238.1,1288 L1238.5,1288.9 L1238.9,1289.8 L1239.2,1290.7 L1239.6,1291.5 L1240,1292.4 L1240.3,1293.3 L1240.7,1294.2 L1241.1,1295 L1241.4,1295.9 L1241.8,1296.8 L1242.2,1297.6 L1242.6,1298.5 L1243,1299.4 L1243.4,1300.2 L1243.8,1301 L1244.3,1301.9 L1244.8,1302.7 L1245.3,1303.4 L1245.9,1304.2 L1246.5,1304.9 L1247.1,1305.6 L1247.7,1306.3 L1248.4,1306.9 L1249.1,1307.5 L1249.8,1308.1 L1250.5,1308.6 L1251.2,1309.1 L1251.8,1309.6 L1252.3,1310 L1252.6,1310.4 L1252.9,1310.7 L1253,1311.1 L1253,1311.4 L1253.1,1311.6 L1253.2,1311.9 L1253.5,1312 L1254,1312.2 L1254.5,1312.3 L1255.3,1312.4 L1256.1,1312.5 L1256.9,1312.5 L1257.9,1312.5 L1258.8,1312.6 L1259.7,1312.6 L1260.7,1312.6 L1261.6,1312.7 L1262.6,1312.7 L1263.5,1312.7 L1264.5,1312.7 L1265.4,1312.7 L1266.4,1312.7 L1267.3,1312.8 L1268.2,1312.8 L1269.2,1312.8 L1270.1,1312.8 L1271.1,1312.8 L1272,1312.8 L1273,1312.8 L1273.9,1312.8 L1274.9,1312.9 L1275.8,1312.9 L1276.8,1312.9 L1277.7,1312.9 L1278.7,1312.9 L1279.6,1312.9 L1280.6,1312.9 L1281.5,1312.9 L1282.5,1312.9 L1283.4,1312.9 L1284.4,1312.9 L1285.3,1312.9 L1286.2,1312.9 L1287.2,1313 L1288.1,1313 L1289.1,1313 L1290,1313 L1291,1313 L1291.9,1313 L1292.9,1313 L1293.8,1313 L1294.8,1313 L1295.7,1313 L1296.7,1313 L1297.6,1313 L1298.6,1313 L1299.5,1313 L1300.5,1313 L1301.4,1313 L1302.3,1313 L1303.3,1313 L1304.2,1313 L1305.2,1313 L1306.1,1313 L1307.1,1313 L1308,1313 L1309,1313 L1309.9,1313.1 L1310.9,1313.1 L1311.8,1313.1 L1312.8,1313.1 L1313.7,1313.1 L1314.7,1313.1 L1315.6,1313.1 L1316.6,1313.1 L1317.5,1313.1 L1318.4,1313.1 L1319.4,1313.1 L1320.3,1313.1 L1321.3,1313.1 L1322.2,1313.1 L1323.2,1313.1 L1324.1,1313.1 L1325.1,1313.1 L1326,1313.1 L1327,1313.1 L1327.9,1313.1 L1328.9,1313.1 L1329.8,1313.1 L1330.8,1313.1 L1331.7,1313.1 L1332.7,1313.1 L1333.6,1313.1 L1334.6,1313.1 L1335.5,1313.1 L1336.4,1313.1 L1337.4,1313.1 L1338.3,1313.1 L1339.3,1313.1 L1340.2,1313.1 L1341.2,1313.1 L1342.1,1313.1 L1343.1,1313.1 L1344,1313.1 L1345,1313.1 L1345.9,1313.1 L1346.9,1313.1 L1347.8,1313.1 L1348.8,1313.1 L1349.7,1313.1 L1350.7,1313.1 L1351.6,1313.1 L1352.5,1313.1 L1353.5,1313.1 L1354.4,1313.1 L1355.4,1313.1 L1356.3,1313.1 L1357.3,1313.1 L1358.2,1313.1 L1359.2,1313.1 L1360.1,1313.1 L1361.1,1313.1 L1362,1313.1 L1363,1313.1 L1363.9,1313.1 L1364.9,1313.1 L1365.8,1313.1 L1366.8,1313.1 L1367.7,1313.1 L1368.6,1313.1 L1369.6,1313.1 L1370.5,1313.1 L1371.5,1313.1 L1372.4,1313.1 L1373.4,1313.1 L1374.3,1313.1 L1375.3,1313.1 L1376.2,1313.1 L1377.2,1313.1 L1378.1,1313.1 L1379.1,1313.1 L1380,1313.1 L1381,1313.1 L1381.9,1313.1 L1382.9,1313.1 L1383.8,1313.1 L1384.8,1313.1 L1385.7,1313.1 L1386.6,1313.1 L1387.6,1313.1 L1388.5,1313.1 L1389.5,1313.1 L1390.4,1313.1 L1391.4,1313.1 L1392.3,1313.1 L1393.3,1313.1 L1394.2,1313.1 L1395.2,1313.1 L1396.1,1313.1 L1397.1,1313.1 L1398,1313.1 L1399,1313.1 L1399.9,1313.1 L1400.9,1313.1 L1401.8,1313.1 L1402.7,1313.1 L1403.7,1313.1 L1404.6,1313.1 L1405.6,1313.1 L1406.5,1313.1 L1407.5,1313.1 L1408.4,1313.1 L1409.4,1313.1 L1410.3,1313.1 L1411.3,1313.1 L1412.2,1313.2 L1413.2,1313.2 L1414.1,1313.2 L1415.1,1313.2 L1416,1313.2 L1417,1313.2 L1417.9,1313.2 L1418.8,1313.2 L1419.8,1313.2 L1420.7,1313.2 L1421.7,1313.2 L1422.6,1313.2 L1423.6,1313.2 L1424.5,1313.2 L1425.5,1313.2 L1426.4,1313.2 L1427.4,1313.2 L1428.3,1313.2 L1429.3,1313.2 L1430.2,1313.2 L1431.2,1313.2 L1432.1,1313.2 L1433.1,1313.2 L1434,1313.2 L1435,1313.2 L1435.9,1313.2 L1436.8,1313.2 L1437.8,1313.2 L1438.7,1313.2 L1439.7,1313.2 L1440.6,1313.2 L1441.6,1313.2 L1442.5,1313.2 L1443.5,1313.2 L1444.4,1313.2 L1445.4,1313.2 L1446.3,1313.2 L1447.2,1313.2 L1448.1,1313.2 L1448.9,1313.2 L1449.6,1313.2 L1450.3,1313.2 L1452,1313.2" stroke-dasharray="18 8"/>
<path d="M1046,778.4 L1047.6,778.4 L1048.8,778.4 L1050.1,778.4 L1051.4,778.4 L1052.7,778.4 L1054.1,778.4 L1055.4,778.4 L1056.8,778.4 L1058.1,778.4 L1059.5,778.4 L1060.8,778.4 L1062.2,778.4 L1063.5,778.4 L1064.9,778.4 L1066.2,778.4 L1067.6,778.4 L1068.9,778.4 L1070.3,778.4 L1071.6,778.4 L1073,778.4 L1074.3,778.4 L1075.7,778.4 L1077,778.4 L1078.4,778.4 L1079.7,778.4 L1081.1,778.4 L1082.4,778.4 L1083.8,778.4 L1085.1,778.4 L1086.5,778.4 L1087.8,778.4 L1089.2,778.4 L1090.5,778.4 L1091.9,778.4 L1093.2,778.4 L1094.6,778.4 L1095.9,778.4 L1097.3,778.4 L1098.6,778.4 L1100,778.4 L1101.3,778.4 L1102.7,778.4 L1104,778.4 L1105.4,778.4 L1106.7,778.4 L1108.1,778.4 L1109.4,778.4 L1110.8,778.4 L1112.1,778.4 L1113.5,778.4 L1114.8,778.4 L1116.2,778.4 L1117.5,778.4 L1118.9,778.4 L1120.2,778.4 L1121.6,778.4 L1122.9,778.4 L1124.3,778.4 L1125.6,778.4 L1127,778.4 L1128.3,778.4 L1129.7,778.4 L1131,778.4 L1132.4,778.4 L1133.7,778.4 L1135.1,778.4 L1136.4,778.4 L1137.8,778.4 L1139.1,778.4 L1140.5,778.4 L1141.8,778.4 L1143.2,778.4 L1144.5,778.4 L1145.9,778.4 L1147.2,778.4 L1148.6,778.4 L1149.9,778.4 L1151.3,778.4 L1152.6,778.4 L1154,778.4 L1155.3,778.4 L1156.7,778.4 L1158,778.4 L1159.4,778.4 L1160.7,778.4 L1162.1,778.4 L1163.4,778.4 L1164.8,778.4 L1166.1,778.4 L1167.5,778.4 L1168.8,778.4 L1170.2,778.4 L1171.5,778.4 L1172.9,778.4 L1174.2,778.4 L1175.6,778.4 L1176.9,778.4 L1178.3,778.4 L1179.6,778.4 L1181,778.4 L1182.3,778.4 L1183.7,778.4 L1185,778.4 L1186.4,778.4 L1187.7,778.4 L1189.1,778.4 L1190.4,778.4 L1191.8,778.4 L1193.1,778.4 L1194.5,778.4 L1195.8,778.4 L1197.2,778.4 L1198.5,778.4 L1199.9,778.4 L1201.2,778.4 L1202.6,778.4 L1203.9,778.4 L1205.3,778.4 L1206.6,778.4 L1208,778.4 L1209.3,778.4 L1210.7,778.4 L1212,778.4 L1213.4,778.4 L1214.7,778.4 L1216.1,778.4 L1217.4,778.4 L1218.8,778.4 L1220.1,778.4 L1221.5,778.4 L1222.8,778.4 L1224.2,778.4 L1225.5,778.4 L1226.9,778.4 L1228.2,778.4 L1229.6,778.4 L1230.9,778.4 L1232.3,778.4 L1233.6,778.4 L1235,778.4 L1236.3,778.4 L1237.7,778.4 L1239,778.4 L1240.4,778.4 L1241.7,778.4 L1243.1,778.4 L1244.4,778.4 L1245.8,778.4 L1247.1,778.4 L1248.5,778.4 L1249.8,778.4 L1251.2,778.4 L1252.5,778.4 L1253.9,778.4 L1255.2,778.4 L1256.6,778.4 L1257.9,778.4 L1259.3,778.4 L1260.6,778.4 L1262,778.4 L1263.3,778.4 L1264.7,778.4 L1266,778.4 L1267.4,778.4 L1268.7,778.4 L1270.1,778.4 L1271.4,778.4 L1272.8,778.4 L1274.1,778.4 L1275.5,778.4 L1276.8,778.4 L1278.2,778.4 L1279.5,778.4 L1280.9,778.4 L1282.2,778.4 L1283.6,778.4 L1284.9,778.4 L1286.3,778.4 L1287.6,778.4 L1289,778.4 L1290.3,778.4 L1291.7,778.4 L1293,778.4 L1294.4,778.4 L1295.7,778.4 L1297.1,778.4 L1298.4,778.4 L1299.8,778.4 L1301.1,778.4 L1302.5,778.4 L1303.8,778.4 L1305.2,778.5 L1306.5,778.5 L1307.8,778.5 L1308.9,778.5 L1309.5,778.5 L1309.5,778.6 L1308.8,778.6 L1307.7,778.6 L1306.4,778.7 L1305.1,778.7 L1303.8,778.7 L1302.6,778.8 L1301.8,778.8 L1301.5,779 L1301.9,779.1 L1302.8,779.4 L1304,779.6 L1305.3,779.8 L1306.6,780 L1308,780.1 L1309.3,780.2 L1310.7,780.3 L1312,780.4 L1313.4,780.4 L1314.7,780.4 L1316.1,780.4 L1317.4,780.4 L1318.8,780.4 L1320.1,780.4 L1321.5,780.5 L1322.8,780.5 L1324.2,780.7 L1325.5,780.9 L1326.8,781.2 L1328.1,781.5 L1329.3,782 L1330.5,782.6 L1331.7,783.3 L1332.8,784 L1333.8,784.9 L1334.8,785.8 L1335.8,786.7 L1336.7,787.7 L1337.6,788.8 L1338.4,789.8 L1339.2,790.9 L1340,792 L1340.7,793.1 L1341.5,794.3 L1342.2,795.4 L1342.9,796.6 L1343.5,797.8 L1344.2,798.9 L1344.8,800.1 L1345.4,801.3 L1346,802.5 L1346.6,803.8 L1347.1,805 L1347.7,806.2 L1348.2,807.5 L1348.8,808.7 L1349.3,809.9 L1349.8,811.2 L1350.3,812.4 L1350.8,813.7 L1351.3,815 L1351.8,816.2 L1352.2,817.5 L1352.7,818.8 L1353.2,820 L1353.6,821.3 L1354.1,822.6 L1354.5,823.8 L1354.9,825.1 L1355.3,826.4 L1355.8,827.7 L1356.2,829 L1356.6,830.3 L1357,831.6 L1357.4,832.8 L1357.8,834.1 L1358.2,835.4 L1358.6,836.7 L1358.9,838 L1359.3,839.3 L1359.7,840.6 L1360.1,841.9 L1360.4,843.2 L1360.8,844.5 L1361.1,845.8 L1361.5,847.1 L1361.9,848.4 L1362.2,849.7 L1362.6,851 L1362.9,852.3 L1363.2,853.6 L1363.6,854.9 L1363.9,856.2 L1364.3,857.5 L1364.6,858.9 L1364.9,860.2 L1365.3,861.5 L1365.6,862.8 L1365.9,864.1 L1366.2,865.4 L1366.6,866.7 L1366.9,868 L1367.2,869.3 L1367.5,870.6 L1367.8,872 L1368.2,873.3 L1368.5,874.6 L1368.8,875.9 L1369.1,877.2 L1369.4,878.5 L1369.7,879.8 L1370,881.2 L1370.3,882.5 L1370.6,883.8 L1370.9,885.1 L1371.2,886.4 L1371.5,887.7 L1371.8,889 L1372.1,890.4 L1372.4,891.7 L1372.7,893 L1373,894.3 L1373.3,895.6 L1373.6,896.9 L1373.9,898.3 L1374.2,899.6 L1374.5,900.9 L1374.8,902.2 L1375.1,903.5 L1375.4,904.9 L1375.7,906.2 L1376,907.5 L1376.3,908.8 L1376.6,910.1 L1376.8,911.4 L1377.1,912.8 L1377.4,914.1 L1377.7,915.4 L1378,916.7 L1378.3,918 L1378.6,919.4 L1378.9,920.7 L1379.2,922 L1379.4,923.3 L1379.7,924.6 L1380,925.9 L1380.3,927.3 L1380.6,928.6 L1380.9,929.9 L1381.2,931.2 L1381.5,932.5 L1381.8,933.9 L1382.1,935.2 L1382.3,936.5 L1382.6,937.8 L1382.9,939.1 L1383.2,940.5 L1383.5,941.8 L1383.8,943.1 L1384.1,944.4 L1384.4,945.7 L1384.7,947 L1385,948.4 L1385.3,949.7 L1385.6,951 L1385.8,952.3 L1386.1,953.6 L1386.4,954.9 L1386.7,956.3 L1387,957.6 L1387.3,958.9 L1387.6,960.2 L1387.9,961.5 L1388.2,962.8 L1388.5,964.2 L1388.8,965.5 L1389.1,966.8 L1389.4,968.1 L1389.7,969.4 L1390,970.7 L1390.3,972.1 L1390.6,973.4 L1390.9,974.7 L1391.3,976 L1391.6,977.3 L1391.9,978.6 L1392.2,979.9 L1392.5,981.3 L1392.8,982.6 L1393.1,983.9 L1393.4,985.2 L1393.7,986.5 L1394,987.8 L1394.4,989.1 L1394.7,990.5 L1395,991.8 L1395.3,993.1 L1395.6,994.4 L1395.9,995.7 L1396.3,997 L1396.6,998.3 L1396.9,999.6 L1397.2,1000.9 L1397.6,1002.2 L1397.9,1003.6 L1398.2,1004.9 L1398.6,1006.2 L1398.9,1007.5 L1399.2,1008.8 L1399.6,1010.1 L1399.9,1011.4 L1400.2,1012.7 L1400.6,1014 L1400.9,1015.3 L1401.3,1016.6 L1401.6,1017.9 L1401.9,1019.2 L1402.3,1020.5 L1402.6,1021.9 L1403,1023.2 L1403.3,1024.5 L1403.7,1025.8 L1404.1,1027.1 L1404.4,1028.4 L1404.8,1029.7 L1405.1,1031 L1405.5,1032.3 L1405.9,1033.6 L1406.2,1034.9 L1406.6,1036.2 L1407,1037.5 L1407.4,1038.8 L1407.7,1040 L1408.1,1041.3 L1408.5,1042.6 L1408.9,1043.9 L1409.3,1045.2 L1409.7,1046.5 L1410.1,1047.8 L1410.5,1049.1 L1410.9,1050.4 L1411.3,1051.7 L1411.7,1053 L1412.1,1054.2 L1412.5,1055.5 L1412.9,1056.8 L1413.3,1058.1 L1413.8,1059.4 L1414.2,1060.7 L1414.6,1061.9 L1415,1063.2 L1415.5,1064.5 L1415.9,1065.8 L1416.3,1067.1 L1416.8,1068.3 L1417.2,1069.6 L1417.7,1070.9 L1418.1,1072.2 L1418.6,1073.4 L1419,1074.7 L1419.5,1076 L1419.9,1077.2 L1420.4,1078.5 L1420.9,1079.8 L1421.3,1081 L1421.8,1082.3 L1422.3,1083.6 L1422.8,1084.8 L1423.3,1086.1 L1423.8,1087.3 L1424.2,1088.6 L1424.7,1089.9 L1425.2,1091.1 L1425.7,1092.4 L1426.3,1093.6 L1426.8,1094.9 L1427.3,1096.1 L1427.8,1097.4 L1428.3,1098.6 L1428.8,1099.9 L1429.4,1101.1 L1429.9,1102.3 L1430.4,1103.6 L1431,1104.8 L1431.5,1106 L1432,1107.3 L1432.6,1108.5 L1433.1,1109.8 L1433.7,1111 L1434.3,1112.2 L1434.8,1113.4 L1435.4,1114.7 L1436,1115.9 L1436.5,1117.1 L1437.1,1118.3 L1437.7,1119.5 L1438.3,1120.8 L1438.9,1122 L1439.4,1123.2 L1440,1124.4 L1440.6,1125.6 L1441.2,1126.8 L1441.8,1128 L1442.5,1129.2 L1443.1,1130.4 L1443.7,1131.6 L1444.3,1132.8 L1444.9,1134 L1445.6,1135.2 L1446.2,1136.4 L1446.8,1137.6 L1447.5,1138.8 L1448.1,1140 L1448.8,1141.2 L1449.4,1142.3 L1450.1,1143.5 L1450.8,1144.7 L1451.4,1145.9 L1452.1,1147 L1452.8,1148.2 L1453.5,1149.4 L1454.2,1150.5 L1454.9,1151.7 L1455.6,1152.8 L1456.3,1154 L1457,1155.1 L1457.7,1156.3 L1458.4,1157.4 L1459.2,1158.5 L1459.9,1159.7 L1460.6,1160.8 L1461.4,1161.9 L1462.1,1163.1 L1462.9,1164.2 L1463.6,1165.3 L1464.4,1166.4 L1465.1,1167.5 L1465.9,1168.6 L1466.7,1169.7 L1467.5,1170.8 L1468.3,1171.9 L1469.1,1173 L1469.9,1174.1 L1470.7,1175.2 L1471.5,1176.3 L1472.3,1177.3 L1473.1,1178.4 L1474,1179.5 L1474.8,1180.5 L1475.6,1181.6 L1476.5,1182.6 L1477.3,1183.7 L1478.2,1184.7 L1479.1,1185.8 L1479.9,1186.8 L1480.8,1187.8 L1481.7,1188.8 L1482.6,1189.9 L1483.5,1190.9 L1484.4,1191.9 L1485.3,1192.9 L1486.2,1193.9 L1487.1,1194.9 L1488,1195.8 L1489,1196.8 L1489.9,1197.8 L1490.8,1198.8 L1491.8,1199.7 L1492.7,1200.7 L1493.7,1201.6 L1494.7,1202.6 L1495.6,1203.5 L1496.6,1204.5 L1497.6,1205.4 L1498.5,1206.4 L1499.5,1207.3 L1500.5,1208.2 L1501.5,1209.1 L1502.5,1210 L1503.5,1211 L1504.5,1211.9 L1505.5,1212.8 L1506.5,1213.7 L1507.5,1214.6 L1508.5,1215.5 L1509.5,1216.4 L1510.5,1217.3 L1511.5,1218.1 L1512.5,1219 L1513.6,1219.9 L1514.6,1220.8 L1515.6,1221.7 L1516.6,1222.6 L1517.6,1223.4 L1518.7,1224.3 L1519.7,1225.2 L1520.7,1226.1 L1521.7,1227 L1522.8,1227.8 L1523.8,1228.7 L1524.8,1229.6 L1525.9,1230.5 L1526.9,1231.3 L1527.9,1232.2 L1529,1233.1 L1530,1233.9 L1531,1234.8 L1532.1,1235.6 L1533.1,1236.5 L1534.2,1237.3 L1535.2,1238.2 L1536.3,1239 L1537.3,1239.9 L1538.4,1240.7 L1539.5,1241.5 L1540.5,1242.4 L1541.6,1243.2 L1542.7,1244 L1543.8,1244.8 L1544.8,1245.6 L1545.9,1246.4 L1547,1247.2 L1548.1,1248 L1549.2,1248.8 L1550.3,1249.5 L1551.5,1250.3 L1552.6,1251.1 L1553.7,1251.8 L1554.8,1252.5 L1556,1253.2 L1557.1,1254 L1558.3,1254.7 L1559.4,1255.4 L1560.6,1256 L1561.8,1256.7 L1562.9,1257.4 L1564.1,1258 L1565.3,1258.7 L1566.5,1259.3 L1567.7,1259.9 L1568.9,1260.6 L1570.1,1261.2 L1571.3,1261.8 L1572.5,1262.4 L1573.7,1263 L1574.9,1263.6 L1576.2,1264.1 L1577.4,1264.7 L1578.6,1265.3 L1579.8,1265.8 L1581.1,1266.4 L1582.3,1266.9 L1583.6,1267.4 L1584.8,1268 L1586,1268.5 L1587.3,1269 L1588.5,1269.5 L1589.8,1270 L1591,1270.5 L1592.3,1271 L1593.5,1271.5 L1594.8,1272 L1596.1,1272.5 L1597.3,1273 L1598.6,1273.4 L1599.9,1273.9 L1601.1,1274.4 L1602.4,1274.8 L1603.7,1275.2 L1605,1275.7 L1606.2,1276.1 L1607.5,1276.5 L1608.8,1277 L1610.1,1277.4 L1611.4,1277.8 L1612.7,1278.2 L1613.9,1278.6 L1615.2,1279 L1616.5,1279.4 L1617.8,1279.8 L1619.1,1280.2 L1620.4,1280.6 L1621.7,1280.9 L1623,1281.3 L1624.3,1281.7 L1625.6,1282 L1626.9,1282.4 L1628.2,1282.8 L1629.5,1283.1 L1630.8,1283.5 L1632.1,1283.8 L1633.4,1284.2 L1634.7,1284.5 L1636,1284.9 L1637.3,1285.2 L1638.6,1285.5 L1639.9,1285.9 L1641.3,1286.2 L1642.6,1286.6 L1643.9,1286.9 L1645.2,1287.2 L1646.5,1287.5 L1647.8,1287.9 L1649.1,1288.2 L1650.4,1288.5 L1651.7,1288.8 L1653.1,1289.1 L1654.4,1289.4 L1655.7,1289.7 L1657,1290 L1658.3,1290.3 L1659.6,1290.6 L1661,1290.9 L1662.3,1291.1 L1663.6,1291.4 L1664.9,1291.7 L1666.3,1291.9 L1667.6,1292.2 L1668.9,1292.4 L1670.2,1292.7 L1671.6,1292.9 L1672.9,1293.1 L1674.2,1293.3 L1675.6,1293.6 L1676.9,1293.8 L1678.2,1294 L1679.6,1294.2 L1680.9,1294.4 L1682.2,1294.6 L1683.6,1294.8 L1684.9,1295 L1686.2,1295.1 L1687.6,1295.3 L1688.9,1295.5 L1690.3,1295.7 L1691.6,1295.9 L1692.9,1296.1 L1694.3,1296.2 L1695.6,1296.4 L1696.9,1296.6 L1698.3,1296.8 L1699.6,1297 L1701,1297.2 L1702.3,1297.3 L1703.6,1297.5 L1705,1297.7 L1706.3,1297.9 L1707.6,1298.1 L1709,1298.3 L1710.3,1298.5 L1711.7,1298.6 L1713,1298.8 L1714.3,1299 L1715.7,1299.2 L1717,1299.4 L1718.3,1299.6 L1719.7,1299.7 L1721,1299.9 L1722.4,1300.1 L1723.7,1300.3 L1725,1300.4 L1726.4,1300.6 L1727.7,1300.8 L1729.1,1300.9 L1730.4,1301.1 L1731.7,1301.2 L1733.1,1301.4 L1734.4,1301.6 L1735.8,1301.7 L1737.1,1301.8 L1738.4,1302 L1739.8,1302.1 L1741.1,1302.3 L1742.5,1302.4 L1743.8,1302.5 L1745.2,1302.7 L1746.5,1302.8 L1747.8,1302.9 L1749.2,1303 L1750.5,1303.2 L1751.9,1303.3 L1753.2,1303.4 L1754.6,1303.5 L1755.9,1303.6 L1757.3,1303.7 L1758.6,1303.8 L1760,1303.9 L1761.3,1304 L1762.6,1304.1 L1764,1304.2 L1765.3,1304.3 L1766.7,1304.4 L1768,1304.5 L1769.4,1304.6 L1770.7,1304.7 L1772.1,1304.8 L1773.4,1304.9 L1774.8,1305 L1776.1,1305 L1777.4,1305.1 L1778.7,1305.2 L1779.9,1305.3 L1781.5,1305.4" stroke-linejoin="round"/>
</g>
<path d="M1390.1,788.8H1411.2M1419.1,788.8H1440.2M1447.7,788.8H1461.8" stroke="#0f7f1f" stroke-width="6.6" fill="none"/>
<path d="M1390.1,851.4H1462.2" stroke="#0f7f1f" stroke-width="7" fill="none"/>
<path d="M1166.3,1295.6H1229.7" stroke="#ff1a1a" stroke-width="2"/><path d="M1153.8,1295.6L1168.3,1288.6V1302.6Z M1242.2,1295.6L1227.7,1288.6V1302.6Z" fill="#ff1a1a"/>
<path d="M1333.4,1297.0H1690.1" stroke="#ff1a1a" stroke-width="2"/><path d="M1320.9,1297.0L1335.4,1290.0V1304.0Z M1702.6,1297.0L1688.1,1290.0V1304.0Z" fill="#ff1a1a"/>
<rect x="1046" y="751.7" width="735.5" height="563.5" fill="none" stroke="#262626" stroke-width="1.5"/>
<g transform="matrix(1.1025,0,0,0.9771,9.70,33.68)"><text x="0" y="0" font-family="'Liberation Sans', Arial, Helvetica, sans-serif" font-size="36" font-weight="bold">(a)</text></g>
<g transform="matrix(1.0810,0,0,0.9829,958.84,37.54)"><text x="0" y="0" font-family="'Liberation Sans', Arial, Helvetica, sans-serif" font-size="36" font-weight="bold">(b)</text></g>
<g transform="matrix(1.0725,0,0,0.9743,9.26,742.61)"><text x="0" y="0" font-family="'Liberation Sans', Arial, Helvetica, sans-serif" font-size="36" font-weight="bold">(c)</text></g>
<g transform="matrix(1.0833,0,0,0.9743,934.23,751.51)"><text x="0" y="0" font-family="'Liberation Sans', Arial, Helvetica, sans-serif" font-size="36" font-weight="bold">(d)</text></g>
<g transform="matrix(1.0652,0,0,1.0788,64.67,95.60)"><text x="0" y="0" font-family="'Liberation Sans', Arial, Helvetica, sans-serif" font-size="48">6</text></g>
<g transform="matrix(1.0652,0,0,1.0788,64.67,186.30)"><text x="0" y="0" font-family="'Liberation Sans', Arial, Helvetica, sans-serif" font-size="48">5</text></g>
<g transform="matrix(1.0208,0,0,1.0788,65.78,277.00)"><text x="0" y="0" font-family="'Liberation Sans', Arial, Helvetica, sans-serif" font-size="48">4</text></g>
<g transform="matrix(1.0652,0,0,1.0788,64.67,367.80)"><text x="0" y="0" font-family="'Liberation Sans', Arial, Helvetica, sans-serif" font-size="48">3</text></g>
<g transform="matrix(1.1136,0,0,1.0788,64.57,458.50)"><text x="0" y="0" font-family="'Liberation Sans', Arial, Helvetica, sans-serif" font-size="48">2</text></g>
<g transform="matrix(0.7500,0,0,1.0788,67.70,549.30)"><text x="0" y="0" font-family="'Liberation Sans', Arial, Helvetica, sans-serif" font-size="48">1</text></g>
<g transform="matrix(1.0487,0,0,1.0455,156.40,672.80)"><text x="0" y="0" font-family="'Liberation Sans', Arial, Helvetica, sans-serif" font-size="48">-5</text></g>
<g transform="matrix(1.0348,0,0,1.0455,415.03,672.80)"><text x="0" y="0" font-family="'Liberation Sans', Arial, Helvetica, sans-serif" font-size="48">0</text></g>
<g transform="matrix(0.9870,0,0,1.0455,652.53,672.80)"><text x="0" y="0" font-family="'Liberation Sans', Arial, Helvetica, sans-serif" font-size="48">5</text></g>
<g transform="matrix(1.0038,0,0,0.9889,356.80,700.11)"><text x="0" y="0" font-family="'Liberation Sans', Arial, Helvetica, sans-serif" font-size="48">x (µm)</text></g>
<g transform="matrix(1.1067,0,0,1.0053,45.33,389.41)"><text x="0" y="0" font-family="'Liberation Sans', Arial, Helvetica, sans-serif" font-size="48" transform="rotate(-90)">z (µm)</text></g>
<g transform="matrix(1.0365,0,0,1.1061,786.43,56.40)"><text x="0" y="0" font-family="'Liberation Sans', Arial, Helvetica, sans-serif" font-size="48">0.5</text></g>
<g transform="matrix(1.0870,0,0,1.0364,785.83,332.30)"><text x="0" y="0" font-family="'Liberation Sans', Arial, Helvetica, sans-serif" font-size="48">0</text></g>
<g transform="matrix(1.0316,0,0,1.0758,785.94,608.20)"><text x="0" y="0" font-family="'Liberation Sans', Arial, Helvetica, sans-serif" font-size="48">-0.5</text></g>
<g transform="matrix(1.3214,0,0,1.0526,373.86,46.90)"><text x="0" y="0" font-family="'Liberation Serif', 'Times New Roman', serif" font-size="42" font-style="italic">r</text></g>
<g transform="matrix(1.3250,0,0,0.9818,407.75,48.05)"><text x="0" y="0" font-family="'Liberation Serif', 'Times New Roman', serif" font-size="42">=</text></g>
<g transform="matrix(1.2071,0,0,1.0143,451.37,46.90)"><text x="0" y="0" font-family="'Liberation Serif', 'Times New Roman', serif" font-size="42">1</text></g>
<g transform="matrix(1.0478,0,0,1.0606,1000.10,117.10)"><text x="0" y="0" font-family="'Liberation Sans', Arial, Helvetica, sans-serif" font-size="48">6</text></g>
<g transform="matrix(1.0478,0,0,1.0606,1000.10,200.70)"><text x="0" y="0" font-family="'Liberation Sans', Arial, Helvetica, sans-serif" font-size="48">5</text></g>
<g transform="matrix(1.0042,0,0,1.0606,1001.20,284.30)"><text x="0" y="0" font-family="'Liberation Sans', Arial, Helvetica, sans-serif" font-size="48">4</text></g>
<g transform="matrix(1.0478,0,0,1.0606,1000.10,367.90)"><text x="0" y="0" font-family="'Liberation Sans', Arial, Helvetica, sans-serif" font-size="48">3</text></g>
<g transform="matrix(1.0955,0,0,1.0606,1000.01,451.60)"><text x="0" y="0" font-family="'Liberation Sans', Arial, Helvetica, sans-serif" font-size="48">2</text></g>
<g transform="matrix(0.7050,0,0,1.0606,1003.78,535.20)"><text x="0" y="0" font-family="'Liberation Sans', Arial, Helvetica, sans-serif" font-size="48">1</text></g>
<g transform="matrix(1.0436,0,0,1.0727,1068.41,652.00)"><text x="0" y="0" font-family="'Liberation Sans', Arial, Helvetica, sans-serif" font-size="48">-6</text></g>
<g transform="matrix(1.0410,0,0,1.0727,1205.32,652.00)"><text x="0" y="0" font-family="'Liberation Sans', Arial, Helvetica, sans-serif" font-size="48">-4</text></g>
<g transform="matrix(1.0632,0,0,1.0727,1342.47,652.00)"><text x="0" y="0" font-family="'Liberation Sans', Arial, Helvetica, sans-serif" font-size="48">-2</text></g>
<g transform="matrix(1.0348,0,0,1.0727,1493.73,652.00)"><text x="0" y="0" font-family="'Liberation Sans', Arial, Helvetica, sans-serif" font-size="48">0</text></g>
<g transform="matrix(1.1818,0,0,1.0727,1629.14,652.00)"><text x="0" y="0" font-family="'Liberation Sans', Arial, Helvetica, sans-serif" font-size="48">2</text></g>
<g transform="matrix(0.9985,0,0,1.0156,1292.60,689.14)"><text x="0" y="0" font-family="'Liberation Sans', Arial, Helvetica, sans-serif" font-size="48">x (µm)</text></g>
<g transform="matrix(1.0133,0,0,1.0083,973.87,382.32)"><text x="0" y="0" font-family="'Liberation Sans', Arial, Helvetica, sans-serif" font-size="48" transform="rotate(-90)">z (µm)</text></g>
<g transform="matrix(1.0429,0,0,1.0818,1719.31,86.40)"><text x="0" y="0" font-family="'Liberation Sans', Arial, Helvetica, sans-serif" font-size="48">0.5</text></g>
<g transform="matrix(1.0609,0,0,1.0364,1720.38,339.40)"><text x="0" y="0" font-family="'Liberation Sans', Arial, Helvetica, sans-serif" font-size="48">0</text></g>
<g transform="matrix(1.0278,0,0,1.0848,1720.44,592.90)"><text x="0" y="0" font-family="'Liberation Sans', Arial, Helvetica, sans-serif" font-size="48">-0.5</text></g>
<g transform="matrix(1.3357,0,0,1.0526,1290.53,71.90)"><text x="0" y="0" font-family="'Liberation Serif', 'Times New Roman', serif" font-size="42" font-style="italic">r</text></g>
<g transform="matrix(1.4000,0,0,0.9818,1325.70,73.05)"><text x="0" y="0" font-family="'Liberation Serif', 'Times New Roman', serif" font-size="42">=</text></g>
<g transform="matrix(1.0957,0,0,1.0000,1371.31,71.90)"><text x="0" y="0" font-family="'Liberation Serif', 'Times New Roman', serif" font-size="42">0.38</text></g>
<g transform="matrix(1.0319,0,0,1.1962,52.67,820.95)"><text x="0" y="0" font-family="'Liberation Sans', Arial, Helvetica, sans-serif" font-size="36">0.8</text></g>
<g transform="matrix(1.0319,0,0,1.1962,52.67,949.25)"><text x="0" y="0" font-family="'Liberation Sans', Arial, Helvetica, sans-serif" font-size="36">0.6</text></g>
<g transform="matrix(1.0104,0,0,1.1962,52.69,1077.45)"><text x="0" y="0" font-family="'Liberation Sans', Arial, Helvetica, sans-serif" font-size="36">0.4</text></g>
<g transform="matrix(1.0319,0,0,1.1962,52.67,1205.95)"><text x="0" y="0" font-family="'Liberation Sans', Arial, Helvetica, sans-serif" font-size="36">0.2</text></g>
<g transform="matrix(1.0167,0,0,1.1962,83.18,1334.40)"><text x="0" y="0" font-family="'Liberation Sans', Arial, Helvetica, sans-serif" font-size="36">0</text></g>
<g transform="matrix(0.9974,0,0,1.1593,182.71,1378.50)"><text x="0" y="0" font-family="'Liberation Sans', Arial, Helvetica, sans-serif" font-size="38">10</text></g>
<g transform="matrix(1.0300,0,0,1.2118,224.17,1350.50)"><text x="0" y="0" font-family="'Liberation Sans', Arial, Helvetica, sans-serif" font-size="24">-4</text></g>
<g transform="matrix(1.0184,0,0,1.1593,398.54,1378.50)"><text x="0" y="0" font-family="'Liberation Sans', Arial, Helvetica, sans-serif" font-size="38">10</text></g>
<g transform="matrix(1.0842,0,0,1.2118,440.92,1350.50)"><text x="0" y="0" font-family="'Liberation Sans', Arial, Helvetica, sans-serif" font-size="24">-2</text></g>
<g transform="matrix(0.9684,0,0,1.1333,620.59,1378.60)"><text x="0" y="0" font-family="'Liberation Sans', Arial, Helvetica, sans-serif" font-size="38">10</text></g>
<g transform="matrix(1.2636,0,0,1.2706,661.54,1352.20)"><text x="0" y="0" font-family="'Liberation Sans', Arial, Helvetica, sans-serif" font-size="24">0</text></g>
<g transform="matrix(0.9737,0,0,1.1333,837.08,1378.60)"><text x="0" y="0" font-family="'Liberation Sans', Arial, Helvetica, sans-serif" font-size="38">10</text></g>
<g transform="matrix(1.2636,0,0,1.2706,876.74,1352.20)"><text x="0" y="0" font-family="'Liberation Sans', Arial, Helvetica, sans-serif" font-size="24">2</text></g>
<g transform="matrix(0.9288,0,0,1.0421,431.37,1418.96)"><text x="0" y="0" font-family="'Liberation Sans', Arial, Helvetica, sans-serif" font-size="40">x (µm)</text></g>
<g transform="matrix(0.9472,0,0,1.0500,39.12,1077.30)"><text x="0" y="0" font-family="'Liberation Sans', Arial, Helvetica, sans-serif" font-size="38" transform="rotate(-90)">ϕ</text></g>
<g transform="matrix(1.0000,0,0,1.1435,39.20,1044.19)"><text x="0" y="0" font-family="'Liberation Sans', Arial, Helvetica, sans-serif" font-size="38" transform="rotate(-90)">(V)</text></g>
<g transform="matrix(1.1143,0,0,1.0074,158.86,804.80)"><text x="0" y="0" font-family="'Liberation Sans', Arial, Helvetica, sans-serif" font-size="38">N</text></g>
<g transform="matrix(1.0821,0,0,1.0059,188.32,792.20)"><text x="0" y="0" font-family="'Liberation Sans', Arial, Helvetica, sans-serif" font-size="24">3D</text></g>
<g transform="matrix(0.8800,0,0,1.0361,226.84,803.51)"><text x="0" y="0" font-family="'Liberation Sans', Arial, Helvetica, sans-serif" font-size="38">(</text></g>
<g transform="matrix(1.0435,0,0,0.9905,237.91,804.80)"><text x="0" y="0" font-family="'Liberation Sans', Arial, Helvetica, sans-serif" font-size="38">cm</text></g>
<g transform="matrix(1.0316,0,0,0.8588,291.97,792.20)"><text x="0" y="0" font-family="'Liberation Sans', Arial, Helvetica, sans-serif" font-size="24">-3</text></g>
<g transform="matrix(0.9778,0,0,1.0361,314.82,803.51)"><text x="0" y="0" font-family="'Liberation Sans', Arial, Helvetica, sans-serif" font-size="38">)</text></g>
<g transform="matrix(1.0031,0,0,0.9926,182.59,860.40)"><text x="0" y="0" font-family="'Liberation Sans', Arial, Helvetica, sans-serif" font-size="38">1.68x10</text></g>
<g transform="matrix(1.1348,0,0,1.0412,319.03,847.80)"><text x="0" y="0" font-family="'Liberation Sans', Arial, Helvetica, sans-serif" font-size="24">19</text></g>
<g transform="matrix(1.0030,0,0,0.9926,182.59,912.90)"><text x="0" y="0" font-family="'Liberation Sans', Arial, Helvetica, sans-serif" font-size="38">2.61x10</text></g>
<g transform="matrix(1.1348,0,0,1.0412,319.03,900.30)"><text x="0" y="0" font-family="'Liberation Sans', Arial, Helvetica, sans-serif" font-size="24">18</text></g>
<g transform="matrix(1.0030,0,0,0.9926,182.59,965.00)"><text x="0" y="0" font-family="'Liberation Sans', Arial, Helvetica, sans-serif" font-size="38">5.63x10</text></g>
<g transform="matrix(1.1348,0,0,1.0412,319.03,952.40)"><text x="0" y="0" font-family="'Liberation Sans', Arial, Helvetica, sans-serif" font-size="24">16</text></g>
<g transform="matrix(1.0789,0,0,1.0000,122.26,1143.20)"><text x="0" y="0" font-family="'Liberation Sans', Arial, Helvetica, sans-serif" font-size="34">N</text></g>
<g transform="matrix(1.0115,0,0,1.0133,148.99,1132.70)"><text x="0" y="0" font-family="'Liberation Sans', Arial, Helvetica, sans-serif" font-size="22">3D</text></g>
<g transform="matrix(1.6111,0,0,1.3167,177.00,1148.50)"><text x="0" y="0" font-family="'Liberation Sans', Arial, Helvetica, sans-serif" font-size="34">/</text></g>
<g transform="matrix(1.0421,0,0,1.0000,190.97,1143.20)"><text x="0" y="0" font-family="'Liberation Sans', Arial, Helvetica, sans-serif" font-size="34">N</text></g>
<g transform="matrix(0.9654,0,0,1.0133,217.53,1132.70)"><text x="0" y="0" font-family="'Liberation Sans', Arial, Helvetica, sans-serif" font-size="22">2D</text></g>
<g transform="matrix(0.9875,0,0,0.8909,250.83,1141.95)"><text x="0" y="0" font-family="'Liberation Sans', Arial, Helvetica, sans-serif" font-size="34">=</text></g>
<g transform="matrix(1.0590,0,0,0.9739,278.02,1143.20)"><text x="0" y="0" font-family="'Liberation Sans', Arial, Helvetica, sans-serif" font-size="34">1nm</text></g>
<g transform="matrix(1.0857,0,0,0.9852,675.24,1141.10)"><text x="0" y="0" font-family="'Liberation Sans', Arial, Helvetica, sans-serif" font-size="38">N</text></g>
<g transform="matrix(1.0821,0,0,1.0059,704.62,1129.10)"><text x="0" y="0" font-family="'Liberation Sans', Arial, Helvetica, sans-serif" font-size="24">2D</text></g>
<g transform="matrix(0.8800,0,0,1.0361,742.54,1140.41)"><text x="0" y="0" font-family="'Liberation Sans', Arial, Helvetica, sans-serif" font-size="38">(</text></g>
<g transform="matrix(1.0304,0,0,0.9619,754.84,1141.10)"><text x="0" y="0" font-family="'Liberation Sans', Arial, Helvetica, sans-serif" font-size="38">cm</text></g>
<g transform="matrix(1.1632,0,0,0.9176,805.64,1129.10)"><text x="0" y="0" font-family="'Liberation Sans', Arial, Helvetica, sans-serif" font-size="24">-2</text></g>
<g transform="matrix(0.9889,0,0,1.0361,831.11,1140.41)"><text x="0" y="0" font-family="'Liberation Sans', Arial, Helvetica, sans-serif" font-size="38">)</text></g>
<g transform="matrix(1.0115,0,0,1.0000,693.87,1193.50)"><text x="0" y="0" font-family="'Liberation Sans', Arial, Helvetica, sans-serif" font-size="38">1.68x10</text></g>
<g transform="matrix(1.1000,0,0,1.0059,829.90,1180.30)"><text x="0" y="0" font-family="'Liberation Sans', Arial, Helvetica, sans-serif" font-size="24">12</text></g>
<g transform="matrix(1.0129,0,0,1.0000,693.67,1245.80)"><text x="0" y="0" font-family="'Liberation Sans', Arial, Helvetica, sans-serif" font-size="38">2.61x10</text></g>
<g transform="matrix(1.0864,0,0,1.0059,829.93,1232.60)"><text x="0" y="0" font-family="'Liberation Sans', Arial, Helvetica, sans-serif" font-size="24">11</text></g>
<g transform="matrix(1.0129,0,0,1.0000,693.67,1297.70)"><text x="0" y="0" font-family="'Liberation Sans', Arial, Helvetica, sans-serif" font-size="38">5.63x10</text></g>
<g transform="matrix(1.0818,0,0,1.0059,831.02,1284.50)"><text x="0" y="0" font-family="'Liberation Sans', Arial, Helvetica, sans-serif" font-size="24">9</text></g>
<g transform="matrix(1.0444,0,0,1.0061,967.91,902.90)"><text x="0" y="0" font-family="'Liberation Sans', Arial, Helvetica, sans-serif" font-size="48">0.8</text></g>
<g transform="matrix(1.0444,0,0,1.0061,967.91,1010.30)"><text x="0" y="0" font-family="'Liberation Sans', Arial, Helvetica, sans-serif" font-size="48">0.6</text></g>
<g transform="matrix(1.0444,0,0,1.0061,967.91,1117.70)"><text x="0" y="0" font-family="'Liberation Sans', Arial, Helvetica, sans-serif" font-size="48">0.4</text></g>
<g transform="matrix(1.0613,0,0,1.0061,967.88,1225.10)"><text x="0" y="0" font-family="'Liberation Sans', Arial, Helvetica, sans-serif" font-size="48">0.2</text></g>
<g transform="matrix(0.8200,0,0,1.0061,1011.52,795.50)"><text x="0" y="0" font-family="'Liberation Sans', Arial, Helvetica, sans-serif" font-size="48">1</text></g>
<g transform="matrix(1.1043,0,0,1.0061,1007.69,1332.50)"><text x="0" y="0" font-family="'Liberation Sans', Arial, Helvetica, sans-serif" font-size="48">0</text></g>
<g transform="matrix(1.0600,0,0,1.0094,1004.26,1379.80)"><text x="0" y="0" font-family="'Liberation Sans', Arial, Helvetica, sans-serif" font-size="46">10</text></g>
<g transform="matrix(1.2217,0,0,1.0368,1056.38,1350.30)"><text x="0" y="0" font-family="'Liberation Sans', Arial, Helvetica, sans-serif" font-size="28">-3</text></g>
<g transform="matrix(1.0289,0,0,1.0094,1247.28,1379.80)"><text x="0" y="0" font-family="'Liberation Sans', Arial, Helvetica, sans-serif" font-size="46">10</text></g>
<g transform="matrix(1.1500,0,0,1.0368,1300.75,1350.30)"><text x="0" y="0" font-family="'Liberation Sans', Arial, Helvetica, sans-serif" font-size="28">-2</text></g>
<g transform="matrix(1.0911,0,0,1.0094,1493.24,1379.80)"><text x="0" y="0" font-family="'Liberation Sans', Arial, Helvetica, sans-serif" font-size="46">10</text></g>
<g transform="matrix(1.0273,0,0,1.0368,1546.97,1350.30)"><text x="0" y="0" font-family="'Liberation Sans', Arial, Helvetica, sans-serif" font-size="28">-1</text></g>
<g transform="matrix(1.0600,0,0,1.0094,1746.06,1379.80)"><text x="0" y="0" font-family="'Liberation Sans', Arial, Helvetica, sans-serif" font-size="46">10</text></g>
<g transform="matrix(1.0769,0,0,1.0368,1798.42,1350.30)"><text x="0" y="0" font-family="'Liberation Sans', Arial, Helvetica, sans-serif" font-size="28">0</text></g>
<g transform="matrix(1.0645,0,0,1.1049,1349.64,1430.66)"><text x="0" y="0" font-family="'Liberation Sans', Arial, Helvetica, sans-serif" font-size="44">x(µm)</text></g>
<g transform="matrix(0.8920,0,0,0.9577,940.60,1109.22)"><text x="0" y="0" font-family="'Liberation Sans', Arial, Helvetica, sans-serif" font-size="46" transform="rotate(-90)">σ</text></g>
<g transform="matrix(1.1318,0,0,1.3133,961.90,1080.30)"><text x="0" y="0" font-family="'Liberation Sans', Arial, Helvetica, sans-serif" font-size="30" transform="rotate(-90)">λ</text></g>
<g transform="matrix(1.0529,0,0,1.0769,936.50,1058.50)"><text x="0" y="0" font-family="'Liberation Sans', Arial, Helvetica, sans-serif" font-size="46" transform="rotate(-90)">/</text></g>
<g transform="matrix(1.0657,0,0,0.9905,935.14,1043.98)"><text x="0" y="0" font-family="'Liberation Sans', Arial, Helvetica, sans-serif" font-size="46" transform="rotate(-90)">q</text></g>
<g transform="matrix(1.1344,0,0,1.1200,937.00,1017.38)"><text x="0" y="0" font-family="'Liberation Sans', Arial, Helvetica, sans-serif" font-size="46" transform="rotate(-90)">N</text></g>
<g transform="matrix(1.1318,0,0,1.3133,961.90,981.30)"><text x="0" y="0" font-family="'Liberation Sans', Arial, Helvetica, sans-serif" font-size="30" transform="rotate(-90)">λ</text></g>
<g transform="matrix(1.0300,0,0,1.0621,1472.84,805.30)"><text x="0" y="0" font-family="'Liberation Sans', Arial, Helvetica, sans-serif" font-size="42">3D</text></g>
<g transform="matrix(1.0300,0,0,1.0310,1472.84,865.50)"><text x="0" y="0" font-family="'Liberation Sans', Arial, Helvetica, sans-serif" font-size="42">2D</text></g>
<g transform="matrix(0.9167,0,0,1.0621,1394.95,961.20)"><text x="0" y="0" font-family="'Liberation Sans', Arial, Helvetica, sans-serif" font-size="42">N</text></g>
<g transform="matrix(1.0636,0,0,1.0368,1425.24,973.20)"><text x="0" y="0" font-family="'Liberation Sans', Arial, Helvetica, sans-serif" font-size="28">2D</text></g>
<g transform="matrix(1.0450,0,0,0.8643,1461.51,960.65)"><text x="0" y="0" font-family="'Liberation Sans', Arial, Helvetica, sans-serif" font-size="42">=</text></g>
<g transform="matrix(1.0455,0,0,1.0621,1496.76,961.20)"><text x="0" y="0" font-family="'Liberation Sans', Arial, Helvetica, sans-serif" font-size="42">1.68x10</text></g>
<g transform="matrix(1.0214,0,0,1.0421,1654.96,946.90)"><text x="0" y="0" font-family="'Liberation Sans', Arial, Helvetica, sans-serif" font-size="28">12</text></g>
<g transform="matrix(1.0765,0,0,1.0522,1693.35,961.20)"><text x="0" y="0" font-family="'Liberation Sans', Arial, Helvetica, sans-serif" font-size="42">cm</text></g>
<g transform="matrix(1.1000,0,0,1.0421,1752.60,946.90)"><text x="0" y="0" font-family="'Liberation Sans', Arial, Helvetica, sans-serif" font-size="28">-2</text></g>
<g transform="matrix(0.8895,0,0,1.1138,1435.83,1087.30)"><text x="0" y="0" font-family="'Liberation Sans', Arial, Helvetica, sans-serif" font-size="42">L</text></g>
<g transform="matrix(1.0939,0,0,1.2158,1456.61,1098.10)"><text x="0" y="0" font-family="'Liberation Sans', Arial, Helvetica, sans-serif" font-size="28">2D</text></g>
<g transform="matrix(1.1714,0,0,1.6800,1503.86,1099.76)"><text x="0" y="0" font-family="'Liberation Sans', Arial, Helvetica, sans-serif" font-size="42">~</text></g>
<g transform="matrix(1.1477,0,0,1.1138,1545.06,1087.30)"><text x="0" y="0" font-family="'Liberation Sans', Arial, Helvetica, sans-serif" font-size="42">130</text></g>
<g transform="matrix(0.9316,0,0,1.1138,1638.71,1087.30)"><text x="0" y="0" font-family="'Liberation Sans', Arial, Helvetica, sans-serif" font-size="42">L</text></g>
<g transform="matrix(1.0939,0,0,1.2158,1659.71,1098.10)"><text x="0" y="0" font-family="'Liberation Sans', Arial, Helvetica, sans-serif" font-size="28">3D</text></g>
<g transform="matrix(0.9000,0,0,1.1241,1159.10,1271.20)"><text x="0" y="0" font-family="'Liberation Sans', Arial, Helvetica, sans-serif" font-size="42">L</text></g>
<g transform="matrix(1.1212,0,0,1.2158,1179.38,1282.10)"><text x="0" y="0" font-family="'Liberation Sans', Arial, Helvetica, sans-serif" font-size="28">3D</text></g>
<g transform="matrix(0.8947,0,0,1.1172,1427.02,1271.20)"><text x="0" y="0" font-family="'Liberation Sans', Arial, Helvetica, sans-serif" font-size="42">L</text></g>
<g transform="matrix(1.1152,0,0,1.2737,1447.78,1282.20)"><text x="0" y="0" font-family="'Liberation Sans', Arial, Helvetica, sans-serif" font-size="28">2D</text></g>
</svg></body></html>
